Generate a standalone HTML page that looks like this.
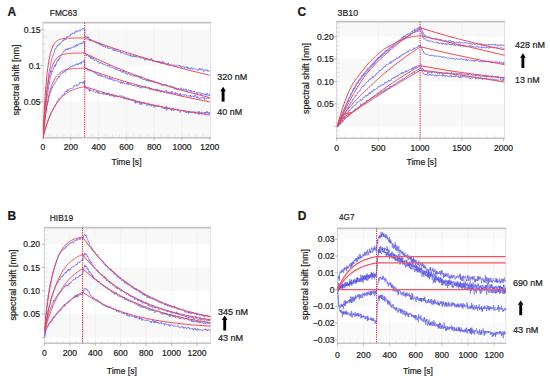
<!DOCTYPE html><html><head><meta charset="utf-8"><style>html,body{margin:0;padding:0;background:#fff;width:550px;height:380px;overflow:hidden}</style></head><body><svg width="550" height="380" viewBox="0 0 550 380" style="display:block">
<rect width="550" height="380" fill="#ffffff"/>
<g font-family='"Liberation Sans", sans-serif' fill="#1a1a1a">
<rect x="43.00" y="101.70" width="167.50" height="36.00" fill="#f8f8f8"/>
<rect x="43.00" y="29.70" width="167.50" height="36.00" fill="#f8f8f8"/>
<line x1="70.80" y1="22.70" x2="70.80" y2="137.70" stroke="#eeeeee" stroke-width="0.6"/>
<line x1="98.60" y1="22.70" x2="98.60" y2="137.70" stroke="#eeeeee" stroke-width="0.6"/>
<line x1="126.40" y1="22.70" x2="126.40" y2="137.70" stroke="#eeeeee" stroke-width="0.6"/>
<line x1="154.20" y1="22.70" x2="154.20" y2="137.70" stroke="#eeeeee" stroke-width="0.6"/>
<line x1="182.00" y1="22.70" x2="182.00" y2="137.70" stroke="#eeeeee" stroke-width="0.6"/>
<path d="M50.0 137.7V134.2M56.9 137.7V134.2M63.9 137.7V134.2M70.8 137.7V134.2M77.8 137.7V134.2M84.7 137.7V134.2M91.7 137.7V134.2M98.6 137.7V134.2M105.6 137.7V134.2M112.5 137.7V134.2M119.5 137.7V134.2M126.4 137.7V134.2M133.4 137.7V134.2M140.3 137.7V134.2M147.3 137.7V134.2M154.2 137.7V134.2M161.2 137.7V134.2M168.1 137.7V134.2M175.1 137.7V134.2M182.0 137.7V134.2M189.0 137.7V134.2M195.9 137.7V134.2M202.9 137.7V134.2" stroke="#dddddd" stroke-width="0.6" fill="none"/>
<path d="M43.0 137.7H46.0M43.0 130.5H46.0M43.0 123.3H46.0M43.0 116.1H46.0M43.0 108.9H46.0M43.0 101.7H46.0M43.0 94.5H46.0M43.0 87.3H46.0M43.0 80.1H46.0M43.0 72.9H46.0M43.0 65.7H46.0M43.0 58.5H46.0M43.0 51.3H46.0M43.0 44.1H46.0M43.0 36.9H46.0M43.0 29.7H46.0" stroke="#dddddd" stroke-width="0.6" fill="none"/>
<line x1="210.50" y1="22.70" x2="210.50" y2="137.70" stroke="#e2e2e2" stroke-width="1"/>
<line x1="43.00" y1="22.70" x2="43.00" y2="137.70" stroke="#d0d0d0" stroke-width="1"/>
<line x1="42.50" y1="22.70" x2="211.00" y2="22.70" stroke="#c4c4c4" stroke-width="1.7"/>
<line x1="42.50" y1="137.70" x2="211.00" y2="137.70" stroke="#c4c4c4" stroke-width="1.4"/>
<line x1="40.50" y1="101.70" x2="43.00" y2="101.70" stroke="#a8a8a8" stroke-width="0.8"/>
<text stroke="#1a1a1a" stroke-width="0.2" x="40.60" y="104.70" font-size="8.6" text-anchor="end" font-weight="normal">0.05</text>
<line x1="40.50" y1="65.70" x2="43.00" y2="65.70" stroke="#a8a8a8" stroke-width="0.8"/>
<text stroke="#1a1a1a" stroke-width="0.2" x="40.60" y="68.70" font-size="8.6" text-anchor="end" font-weight="normal">0.1</text>
<line x1="40.50" y1="29.70" x2="43.00" y2="29.70" stroke="#a8a8a8" stroke-width="0.8"/>
<text stroke="#1a1a1a" stroke-width="0.2" x="40.60" y="32.70" font-size="8.6" text-anchor="end" font-weight="normal">0.15</text>
<line x1="43.00" y1="137.70" x2="43.00" y2="140.20" stroke="#a8a8a8" stroke-width="0.8"/>
<text stroke="#1a1a1a" stroke-width="0.2" x="43.00" y="149.90" font-size="8.6" text-anchor="middle" font-weight="normal">0</text>
<line x1="70.80" y1="137.70" x2="70.80" y2="140.20" stroke="#a8a8a8" stroke-width="0.8"/>
<text stroke="#1a1a1a" stroke-width="0.2" x="70.80" y="149.90" font-size="8.6" text-anchor="middle" font-weight="normal">200</text>
<line x1="98.60" y1="137.70" x2="98.60" y2="140.20" stroke="#a8a8a8" stroke-width="0.8"/>
<text stroke="#1a1a1a" stroke-width="0.2" x="98.60" y="149.90" font-size="8.6" text-anchor="middle" font-weight="normal">400</text>
<line x1="126.40" y1="137.70" x2="126.40" y2="140.20" stroke="#a8a8a8" stroke-width="0.8"/>
<text stroke="#1a1a1a" stroke-width="0.2" x="126.40" y="149.90" font-size="8.6" text-anchor="middle" font-weight="normal">600</text>
<line x1="154.20" y1="137.70" x2="154.20" y2="140.20" stroke="#a8a8a8" stroke-width="0.8"/>
<text stroke="#1a1a1a" stroke-width="0.2" x="154.20" y="149.90" font-size="8.6" text-anchor="middle" font-weight="normal">800</text>
<line x1="182.00" y1="137.70" x2="182.00" y2="140.20" stroke="#a8a8a8" stroke-width="0.8"/>
<text stroke="#1a1a1a" stroke-width="0.2" x="182.00" y="149.90" font-size="8.6" text-anchor="middle" font-weight="normal">1000</text>
<line x1="209.80" y1="137.70" x2="209.80" y2="140.20" stroke="#a8a8a8" stroke-width="0.8"/>
<text stroke="#1a1a1a" stroke-width="0.2" x="209.80" y="149.90" font-size="8.6" text-anchor="middle" font-weight="normal">1200</text>
<text stroke="#1a1a1a" stroke-width="0.2" x="49.80" y="15.80" font-size="9.2" text-anchor="start" font-weight="normal" textLength="27.3" lengthAdjust="spacingAndGlyphs">FMC63</text>
<text stroke="#1a1a1a" stroke-width="0.2" x="7.40" y="15.80" font-size="12" text-anchor="start" font-weight="bold">A</text>
<text stroke="#1a1a1a" stroke-width="0.2" transform="translate(18.60,79.90) rotate(-90)" x="0" y="0" font-size="8.8" text-anchor="middle" textLength="71" lengthAdjust="spacingAndGlyphs">spectral shift [nm]</text>
<text stroke="#1a1a1a" stroke-width="0.2" x="126.50" y="164.70" font-size="8.8" text-anchor="middle" font-weight="normal" textLength="30" lengthAdjust="spacingAndGlyphs">Time [s]</text>
<g clip-path="url(#clipA)">
<polyline points="43.0,137.7 43.5,130.6 43.9,123.1 44.4,115.9 44.9,110.0 45.3,104.0 45.8,99.7 46.3,96.1 46.7,90.4 47.2,86.2 47.7,83.0 48.2,79.3 48.6,75.8 49.1,72.0 49.6,69.9 50.0,68.1 50.5,64.6 51.0,63.1 51.4,60.2 51.9,58.8 52.4,56.7 52.8,56.2 53.3,54.0 53.8,53.7 54.2,52.3 54.7,50.9 55.2,48.3 55.7,48.8 56.1,48.4 56.6,47.8 57.1,45.9 57.5,46.0 58.0,45.1 58.5,44.6 58.9,45.4 59.4,43.6 59.9,43.7 60.3,43.9 60.8,42.4 61.3,42.3 61.7,42.0 62.2,41.6 62.7,40.2 63.1,40.7 63.6,41.2 64.1,38.8 64.6,40.0 65.0,39.1 65.5,38.2 66.0,39.6 66.4,38.4 66.9,36.6 67.4,37.2 67.8,37.2 68.3,36.3 68.8,36.6 69.2,35.7 69.7,35.9 70.2,36.1 70.6,34.4 71.1,34.7 71.6,33.9 72.1,34.1 72.5,32.9 73.0,33.1 73.5,33.1 73.9,33.6 74.4,33.6 74.9,31.6 75.3,31.7 75.8,32.5 76.3,30.4 76.7,31.3 77.2,31.3 77.7,32.0 78.1,31.4 78.6,30.5 79.1,30.3 79.5,30.2 80.0,31.2 80.5,29.7 81.0,29.6 81.4,29.9 81.9,29.4 82.4,29.2 82.8,28.4 83.3,29.0 83.8,28.6 84.2,29.6 84.7,29.2 84.7,35.8 85.1,36.6 85.5,36.1 86.0,37.4 86.4,36.9 86.8,37.6 87.2,36.6 87.6,38.0 88.0,36.8 88.5,36.8 88.9,38.3 89.3,38.1 89.7,39.1 90.1,40.8 90.6,38.9 91.0,39.3 91.4,40.1 91.8,40.6 92.2,40.4 92.7,40.6 93.1,41.4 93.5,41.5 93.9,40.7 94.3,41.6 94.7,41.9 95.2,41.4 95.6,42.5 96.0,41.9 96.4,43.4 96.8,43.1 97.3,43.2 97.7,43.0 98.1,43.5 98.5,42.4 98.9,43.2 99.3,44.4 99.8,42.8 100.2,45.1 100.6,43.5 101.0,45.4 101.4,44.5 101.9,45.8 102.3,45.5 102.7,44.5 103.1,46.6 103.5,47.0 103.9,46.1 104.4,46.1 104.8,46.4 105.2,46.0 105.6,47.6 106.0,46.6 106.5,47.1 106.9,46.7 107.3,47.0 107.7,46.7 108.1,48.7 108.6,47.8 109.0,48.8 109.4,48.3 109.8,47.9 110.2,48.4 110.6,48.3 111.1,48.9 111.5,48.8 111.9,49.0 112.3,48.4 112.7,48.9 113.2,50.8 113.6,49.3 114.0,49.2 114.4,50.3 114.8,51.2 115.2,49.4 115.7,50.4 116.1,50.2 116.5,49.6 116.9,51.5 117.3,51.1 117.8,51.3 118.2,50.9 118.6,51.8 119.0,51.3 119.4,51.7 119.8,51.2 120.3,51.2 120.7,53.2 121.1,52.0 121.5,52.7 121.9,52.6 122.4,52.5 122.8,52.5 123.2,53.5 123.6,53.0 124.0,53.2 124.4,53.4 124.9,54.4 125.3,54.2 125.7,54.1 126.1,53.6 126.5,53.1 127.0,54.9 127.4,55.0 127.8,54.4 128.2,55.0 128.6,55.3 129.1,55.4 129.5,55.6 129.9,54.8 130.3,56.3 130.7,54.5 131.1,56.1 131.6,55.9 132.0,56.3 132.4,57.1 132.8,57.0 133.2,55.3 133.7,55.0 134.1,56.9 134.5,55.7 134.9,56.5 135.3,57.2 135.7,55.6 136.2,55.4 136.6,57.1 137.0,57.1 137.4,57.0 137.8,57.3 138.3,56.8 138.7,56.4 139.1,57.5 139.5,57.0 139.9,56.6 140.3,58.2 140.8,57.9 141.2,58.4 141.6,57.5 142.0,57.8 142.4,57.7 142.9,57.8 143.3,58.7 143.7,58.1 144.1,59.0 144.5,59.1 145.0,60.4 145.4,58.1 145.8,59.8 146.2,59.2 146.6,59.3 147.0,58.4 147.5,59.2 147.9,60.1 148.3,59.7 148.7,59.9 149.1,59.7 149.6,60.8 150.0,60.1 150.4,58.7 150.8,59.8 151.2,59.0 151.6,58.2 152.1,60.2 152.5,61.6 152.9,60.8 153.3,60.0 153.7,60.3 154.2,61.8 154.6,61.2 155.0,61.3 155.4,61.3 155.8,61.4 156.2,62.1 156.7,62.0 157.1,61.8 157.5,61.1 157.9,62.2 158.3,61.5 158.8,62.8 159.2,61.3 159.6,62.1 160.0,62.3 160.4,61.5 160.9,63.7 161.3,63.6 161.7,62.4 162.1,63.3 162.5,63.1 162.9,61.1 163.4,63.2 163.8,63.1 164.2,63.3 164.6,62.6 165.0,63.2 165.5,63.4 165.9,64.4 166.3,63.9 166.7,63.7 167.1,64.9 167.5,63.5 168.0,63.7 168.4,62.8 168.8,65.3 169.2,64.9 169.6,65.0 170.1,64.9 170.5,64.6 170.9,64.8 171.3,64.5 171.7,64.6 172.1,64.9 172.6,66.0 173.0,65.4 173.4,65.1 173.8,64.8 174.2,64.8 174.7,66.5 175.1,65.8 175.5,65.6 175.9,65.3 176.3,64.9 176.8,65.7 177.2,66.4 177.6,65.6 178.0,65.8 178.4,65.9 178.8,66.2 179.3,65.1 179.7,66.1 180.1,65.8 180.5,67.1 180.9,66.0 181.4,67.0 181.8,67.7 182.2,66.5 182.6,66.4 183.0,67.0 183.4,67.0 183.9,66.4 184.3,67.4 184.7,68.6 185.1,67.1 185.5,67.2 186.0,66.7 186.4,67.7 186.8,66.7 187.2,66.9 187.6,68.6 188.0,67.1 188.5,68.6 188.9,69.0 189.3,68.2 189.7,68.4 190.1,69.5 190.6,68.0 191.0,67.8 191.4,67.4 191.8,68.4 192.2,69.5 192.7,69.2 193.1,67.9 193.5,68.0 193.9,68.4 194.3,69.0 194.7,68.7 195.2,69.0 195.6,69.2 196.0,68.8 196.4,69.1 196.8,69.3 197.3,69.1 197.7,69.6 198.1,70.6 198.5,69.8 198.9,69.5 199.3,68.3 199.8,69.8 200.2,68.3 200.6,68.7 201.0,70.3 201.4,70.3 201.9,69.7 202.3,68.7 202.7,69.7 203.1,69.5 203.5,70.5 203.9,71.7 204.4,70.3 204.8,69.7 205.2,69.4 205.6,70.3 206.0,70.2 206.5,69.6 206.9,70.5 207.3,69.7 207.7,71.3 208.1,71.4 208.5,71.4 209.0,70.4 209.4,71.1 209.8,70.7" fill="none" stroke="#6e6ef0" stroke-width="1.0" stroke-opacity="0.85" stroke-linejoin="round"/>
<polyline points="43.0,137.4 43.5,131.8 43.9,125.6 44.4,120.2 44.9,116.8 45.3,111.6 45.8,107.9 46.3,104.7 46.7,99.2 47.2,96.3 47.7,93.6 48.2,90.5 48.6,86.9 49.1,85.0 49.6,81.8 50.0,78.4 50.5,76.4 51.0,75.8 51.4,74.0 51.9,71.0 52.4,72.0 52.8,70.3 53.3,69.7 53.8,67.5 54.2,66.6 54.7,65.1 55.2,66.8 55.7,64.1 56.1,64.5 56.6,62.2 57.1,62.0 57.5,60.0 58.0,60.2 58.5,60.5 58.9,58.2 59.4,59.2 59.9,58.0 60.3,56.3 60.8,55.9 61.3,55.2 61.7,54.8 62.2,53.7 62.7,52.9 63.1,52.6 63.6,51.5 64.1,50.7 64.6,51.0 65.0,51.2 65.5,49.1 66.0,49.9 66.4,49.1 66.9,48.7 67.4,49.7 67.8,48.6 68.3,49.8 68.8,48.1 69.2,48.8 69.7,48.2 70.2,47.7 70.6,48.5 71.1,47.8 71.6,48.2 72.1,47.6 72.5,46.7 73.0,47.2 73.5,47.1 73.9,47.5 74.4,46.0 74.9,46.5 75.3,45.1 75.8,46.6 76.3,45.1 76.7,44.4 77.2,45.5 77.7,46.1 78.1,44.0 78.6,44.1 79.1,44.2 79.5,43.7 80.0,44.5 80.5,43.5 81.0,43.4 81.4,44.1 81.9,42.9 82.4,43.5 82.8,42.3 83.3,41.9 83.8,41.3 84.2,43.6 84.7,41.9 84.7,53.9 85.1,54.0 85.5,54.4 86.0,54.6 86.4,56.1 86.8,54.4 87.2,54.3 87.6,54.9 88.0,55.0 88.5,56.7 88.9,57.0 89.3,56.0 89.7,56.0 90.1,57.0 90.6,58.5 91.0,55.8 91.4,58.4 91.8,57.5 92.2,59.2 92.7,58.0 93.1,58.8 93.5,58.2 93.9,58.8 94.3,60.7 94.7,60.5 95.2,59.9 95.6,59.8 96.0,59.3 96.4,60.6 96.8,61.1 97.3,61.3 97.7,61.5 98.1,61.0 98.5,61.9 98.9,62.1 99.3,63.3 99.8,63.9 100.2,62.7 100.6,62.4 101.0,63.1 101.4,62.9 101.9,63.0 102.3,63.7 102.7,63.2 103.1,64.5 103.5,64.2 103.9,64.7 104.4,64.5 104.8,64.3 105.2,64.4 105.6,65.0 106.0,65.0 106.5,65.7 106.9,65.7 107.3,65.0 107.7,66.1 108.1,65.3 108.6,66.0 109.0,66.4 109.4,65.3 109.8,67.0 110.2,67.2 110.6,67.1 111.1,67.1 111.5,67.3 111.9,67.1 112.3,67.7 112.7,67.7 113.2,68.3 113.6,67.6 114.0,68.7 114.4,68.8 114.8,68.8 115.2,68.7 115.7,69.6 116.1,68.2 116.5,69.8 116.9,69.8 117.3,70.0 117.8,70.2 118.2,69.7 118.6,70.1 119.0,70.9 119.4,70.9 119.8,70.9 120.3,69.8 120.7,71.4 121.1,72.0 121.5,72.1 121.9,71.7 122.4,70.6 122.8,72.5 123.2,71.9 123.6,70.4 124.0,72.6 124.4,71.4 124.9,71.7 125.3,72.3 125.7,73.8 126.1,72.8 126.5,73.4 127.0,74.6 127.4,74.7 127.8,73.6 128.2,73.7 128.6,73.1 129.1,73.7 129.5,74.6 129.9,74.8 130.3,74.7 130.7,75.5 131.1,74.4 131.6,75.0 132.0,75.7 132.4,75.8 132.8,76.3 133.2,76.0 133.7,75.6 134.1,76.2 134.5,75.4 134.9,75.1 135.3,76.8 135.7,76.5 136.2,76.9 136.6,75.6 137.0,76.7 137.4,76.7 137.8,76.6 138.3,75.8 138.7,77.3 139.1,78.2 139.5,78.0 139.9,77.5 140.3,78.0 140.8,78.7 141.2,76.3 141.6,78.3 142.0,78.9 142.4,79.1 142.9,79.9 143.3,79.7 143.7,79.2 144.1,79.3 144.5,79.8 145.0,79.0 145.4,79.5 145.8,80.2 146.2,81.1 146.6,79.7 147.0,79.9 147.5,80.2 147.9,81.2 148.3,80.3 148.7,81.5 149.1,79.9 149.6,80.6 150.0,80.7 150.4,81.5 150.8,81.8 151.2,80.1 151.6,80.7 152.1,81.7 152.5,81.1 152.9,80.6 153.3,82.5 153.7,82.3 154.2,82.4 154.6,81.8 155.0,83.0 155.4,82.2 155.8,83.3 156.2,82.0 156.7,82.2 157.1,83.0 157.5,82.5 157.9,83.6 158.3,83.4 158.8,82.7 159.2,83.5 159.6,83.3 160.0,84.3 160.4,83.4 160.9,83.6 161.3,84.9 161.7,85.7 162.1,85.7 162.5,84.4 162.9,84.7 163.4,85.7 163.8,84.7 164.2,84.2 164.6,85.0 165.0,85.4 165.5,84.6 165.9,84.2 166.3,84.4 166.7,86.0 167.1,85.1 167.5,85.7 168.0,86.0 168.4,86.4 168.8,85.9 169.2,86.5 169.6,85.7 170.1,86.2 170.5,85.8 170.9,87.4 171.3,86.7 171.7,86.3 172.1,86.7 172.6,86.9 173.0,87.7 173.4,86.2 173.8,86.7 174.2,87.2 174.7,89.4 175.1,88.4 175.5,87.7 175.9,88.4 176.3,89.5 176.8,88.0 177.2,88.0 177.6,89.2 178.0,88.8 178.4,89.0 178.8,88.3 179.3,90.1 179.7,90.0 180.1,89.4 180.5,89.5 180.9,87.7 181.4,89.7 181.8,89.2 182.2,89.8 182.6,90.0 183.0,89.4 183.4,88.6 183.9,90.1 184.3,89.4 184.7,89.8 185.1,89.7 185.5,90.0 186.0,88.7 186.4,91.3 186.8,90.7 187.2,91.4 187.6,92.1 188.0,90.8 188.5,89.6 188.9,90.4 189.3,90.2 189.7,90.8 190.1,91.3 190.6,90.0 191.0,91.7 191.4,90.5 191.8,91.8 192.2,91.6 192.7,91.6 193.1,91.8 193.5,91.6 193.9,91.6 194.3,91.0 194.7,92.2 195.2,93.6 195.6,93.8 196.0,93.4 196.4,93.1 196.8,92.2 197.3,93.8 197.7,92.8 198.1,92.9 198.5,92.8 198.9,93.1 199.3,92.9 199.8,93.2 200.2,92.6 200.6,93.1 201.0,95.1 201.4,93.5 201.9,93.5 202.3,94.1 202.7,94.3 203.1,93.1 203.5,93.8 203.9,94.7 204.4,94.3 204.8,94.2 205.2,95.3 205.6,93.8 206.0,94.4 206.5,94.1 206.9,95.6 207.3,93.2 207.7,94.2 208.1,94.4 208.5,95.3 209.0,95.3 209.4,95.9 209.8,93.9" fill="none" stroke="#6e6ef0" stroke-width="1.0" stroke-opacity="0.85" stroke-linejoin="round"/>
<polyline points="43.0,138.2 43.5,133.0 43.9,128.3 44.4,124.9 44.9,119.8 45.3,115.2 45.8,112.8 46.3,108.8 46.7,106.7 47.2,105.0 47.7,103.0 48.2,101.9 48.6,98.8 49.1,96.1 49.6,95.0 50.0,93.4 50.5,91.7 51.0,91.5 51.4,89.5 51.9,87.3 52.4,88.1 52.8,86.5 53.3,85.8 53.8,84.7 54.2,84.2 54.7,83.0 55.2,83.0 55.7,81.7 56.1,81.0 56.6,80.3 57.1,78.3 57.5,78.6 58.0,77.9 58.5,77.6 58.9,75.9 59.4,77.5 59.9,75.9 60.3,74.4 60.8,73.6 61.3,74.1 61.7,73.8 62.2,72.9 62.7,73.1 63.1,72.1 63.6,72.6 64.1,71.3 64.6,71.4 65.0,71.8 65.5,72.5 66.0,69.7 66.4,69.8 66.9,69.2 67.4,70.0 67.8,68.4 68.3,68.5 68.8,68.6 69.2,67.6 69.7,67.4 70.2,67.5 70.6,66.1 71.1,66.3 71.6,66.8 72.1,66.9 72.5,66.4 73.0,65.1 73.5,65.7 73.9,66.4 74.4,66.0 74.9,65.3 75.3,64.5 75.8,65.3 76.3,64.2 76.7,63.6 77.2,63.6 77.7,65.0 78.1,63.9 78.6,64.3 79.1,63.0 79.5,63.7 80.0,62.5 80.5,62.6 81.0,64.2 81.4,62.8 81.9,61.7 82.4,61.8 82.8,61.9 83.3,62.4 83.8,61.0 84.2,60.0 84.7,60.8 84.7,67.4 85.1,67.7 85.5,68.8 86.0,68.3 86.4,68.9 86.8,67.8 87.2,69.4 87.6,70.5 88.0,69.8 88.5,69.7 88.9,69.9 89.3,71.2 89.7,69.6 90.1,70.4 90.6,71.0 91.0,71.4 91.4,70.8 91.8,71.5 92.2,71.3 92.7,71.8 93.1,71.9 93.5,71.4 93.9,72.4 94.3,73.2 94.7,72.1 95.2,72.8 95.6,73.6 96.0,72.6 96.4,73.7 96.8,73.0 97.3,74.7 97.7,75.7 98.1,75.7 98.5,74.3 98.9,75.2 99.3,74.9 99.8,75.0 100.2,76.2 100.6,74.4 101.0,76.2 101.4,75.6 101.9,76.8 102.3,76.1 102.7,75.6 103.1,76.5 103.5,76.9 103.9,76.6 104.4,77.1 104.8,76.5 105.2,75.5 105.6,77.8 106.0,77.8 106.5,77.6 106.9,77.7 107.3,78.5 107.7,77.6 108.1,77.6 108.6,78.1 109.0,79.2 109.4,77.5 109.8,79.5 110.2,78.3 110.6,78.1 111.1,79.9 111.5,79.1 111.9,78.4 112.3,79.2 112.7,80.2 113.2,80.6 113.6,79.6 114.0,80.3 114.4,80.6 114.8,79.8 115.2,80.6 115.7,80.5 116.1,80.2 116.5,80.4 116.9,80.9 117.3,81.0 117.8,80.7 118.2,80.9 118.6,82.1 119.0,81.6 119.4,82.2 119.8,82.6 120.3,82.3 120.7,83.6 121.1,81.5 121.5,82.8 121.9,82.1 122.4,83.7 122.8,83.7 123.2,81.3 123.6,82.1 124.0,83.4 124.4,83.6 124.9,83.6 125.3,83.2 125.7,83.7 126.1,83.9 126.5,83.5 127.0,84.4 127.4,82.2 127.8,84.3 128.2,83.3 128.6,84.8 129.1,84.0 129.5,83.7 129.9,84.7 130.3,83.9 130.7,84.0 131.1,83.6 131.6,84.8 132.0,85.3 132.4,85.7 132.8,85.0 133.2,85.9 133.7,85.3 134.1,85.3 134.5,85.9 134.9,86.3 135.3,85.5 135.7,85.6 136.2,85.8 136.6,86.0 137.0,85.4 137.4,86.9 137.8,86.0 138.3,86.7 138.7,85.8 139.1,86.8 139.5,86.9 139.9,86.4 140.3,88.2 140.8,87.1 141.2,88.2 141.6,87.7 142.0,86.6 142.4,86.9 142.9,87.6 143.3,87.4 143.7,87.5 144.1,87.3 144.5,86.4 145.0,87.6 145.4,86.2 145.8,88.1 146.2,87.5 146.6,87.6 147.0,88.0 147.5,88.4 147.9,87.3 148.3,87.2 148.7,87.7 149.1,87.1 149.6,88.0 150.0,89.8 150.4,88.1 150.8,89.4 151.2,88.0 151.6,89.3 152.1,88.9 152.5,89.2 152.9,89.7 153.3,90.6 153.7,89.6 154.2,89.6 154.6,89.0 155.0,90.1 155.4,89.6 155.8,90.5 156.2,89.9 156.7,91.3 157.1,88.8 157.5,90.0 157.9,90.9 158.3,90.1 158.8,89.9 159.2,90.4 159.6,89.7 160.0,90.8 160.4,92.5 160.9,91.7 161.3,90.2 161.7,90.4 162.1,90.8 162.5,91.9 162.9,90.7 163.4,90.9 163.8,92.0 164.2,92.1 164.6,91.3 165.0,90.9 165.5,90.7 165.9,91.3 166.3,90.3 166.7,92.5 167.1,91.6 167.5,92.5 168.0,93.5 168.4,93.1 168.8,91.6 169.2,93.1 169.6,93.3 170.1,92.1 170.5,92.0 170.9,92.7 171.3,91.7 171.7,93.9 172.1,91.3 172.6,92.3 173.0,92.9 173.4,93.0 173.8,93.4 174.2,93.5 174.7,93.3 175.1,94.3 175.5,92.1 175.9,93.6 176.3,93.2 176.8,93.9 177.2,94.0 177.6,93.3 178.0,93.6 178.4,94.6 178.8,94.4 179.3,93.7 179.7,95.7 180.1,96.0 180.5,93.4 180.9,94.7 181.4,96.3 181.8,95.2 182.2,94.9 182.6,94.6 183.0,94.5 183.4,94.8 183.9,94.6 184.3,95.6 184.7,94.9 185.1,94.9 185.5,94.4 186.0,95.3 186.4,94.8 186.8,95.3 187.2,96.3 187.6,95.9 188.0,96.0 188.5,96.0 188.9,95.8 189.3,95.8 189.7,95.7 190.1,96.5 190.6,95.3 191.0,97.1 191.4,96.2 191.8,95.7 192.2,96.0 192.7,95.9 193.1,96.6 193.5,96.0 193.9,97.4 194.3,96.1 194.7,95.1 195.2,96.2 195.6,95.4 196.0,96.8 196.4,97.7 196.8,97.5 197.3,96.1 197.7,96.6 198.1,98.4 198.5,97.5 198.9,97.3 199.3,98.1 199.8,99.1 200.2,98.4 200.6,97.6 201.0,97.8 201.4,98.1 201.9,97.3 202.3,97.0 202.7,97.8 203.1,97.2 203.5,97.9 203.9,98.0 204.4,99.7 204.8,97.5 205.2,98.0 205.6,98.1 206.0,98.5 206.5,99.0 206.9,98.0 207.3,97.8 207.7,97.3 208.1,97.9 208.5,98.9 209.0,98.6 209.4,97.9 209.8,98.4" fill="none" stroke="#6e6ef0" stroke-width="1.0" stroke-opacity="0.85" stroke-linejoin="round"/>
<polyline points="43.0,137.7 43.5,136.2 43.9,133.6 44.4,132.1 44.9,129.4 45.3,128.2 45.8,128.6 46.3,124.5 46.7,124.3 47.2,123.3 47.7,121.5 48.2,119.9 48.6,119.2 49.1,118.0 49.6,116.8 50.0,114.4 50.5,114.5 51.0,113.0 51.4,112.2 51.9,111.7 52.4,111.0 52.8,110.2 53.3,108.3 53.8,108.4 54.2,107.7 54.7,106.9 55.2,106.2 55.7,104.3 56.1,103.6 56.6,103.5 57.1,101.3 57.5,101.7 58.0,100.5 58.5,100.0 58.9,98.4 59.4,98.4 59.9,98.4 60.3,98.4 60.8,97.9 61.3,96.6 61.7,95.9 62.2,95.0 62.7,95.3 63.1,94.3 63.6,94.4 64.1,94.8 64.6,93.1 65.0,91.6 65.5,91.6 66.0,90.8 66.4,90.6 66.9,92.0 67.4,90.8 67.8,89.3 68.3,90.5 68.8,90.5 69.2,89.1 69.7,88.6 70.2,88.5 70.6,88.6 71.1,88.6 71.6,88.7 72.1,88.4 72.5,88.2 73.0,88.0 73.5,87.3 73.9,85.5 74.4,86.2 74.9,86.3 75.3,85.5 75.8,86.2 76.3,85.1 76.7,84.5 77.2,85.9 77.7,85.1 78.1,84.6 78.6,84.9 79.1,84.7 79.5,84.0 80.0,81.9 80.5,82.9 81.0,82.9 81.4,82.3 81.9,82.9 82.4,83.5 82.8,82.1 83.3,81.5 83.8,83.5 84.2,81.6 84.7,80.9 84.7,87.7 85.1,88.0 85.5,87.4 86.0,88.6 86.4,87.9 86.8,87.7 87.2,88.7 87.6,89.2 88.0,88.4 88.5,89.3 88.9,89.1 89.3,91.4 89.7,89.0 90.1,90.7 90.6,89.8 91.0,89.9 91.4,90.7 91.8,91.0 92.2,91.4 92.7,90.9 93.1,90.4 93.5,90.6 93.9,91.4 94.3,91.6 94.7,92.3 95.2,91.8 95.6,92.4 96.0,92.8 96.4,92.0 96.8,91.0 97.3,91.3 97.7,91.2 98.1,93.5 98.5,91.9 98.9,93.4 99.3,93.1 99.8,94.0 100.2,93.6 100.6,92.9 101.0,93.0 101.4,93.2 101.9,93.4 102.3,93.0 102.7,93.4 103.1,94.7 103.5,92.4 103.9,93.9 104.4,93.2 104.8,94.0 105.2,94.6 105.6,94.0 106.0,94.7 106.5,93.1 106.9,95.0 107.3,93.9 107.7,94.9 108.1,94.6 108.6,92.8 109.0,94.1 109.4,94.9 109.8,95.9 110.2,95.0 110.6,95.1 111.1,94.0 111.5,96.1 111.9,96.4 112.3,95.2 112.7,95.1 113.2,94.2 113.6,96.0 114.0,97.4 114.4,96.1 114.8,96.5 115.2,96.1 115.7,95.1 116.1,96.8 116.5,95.1 116.9,95.8 117.3,96.3 117.8,96.8 118.2,96.5 118.6,96.6 119.0,95.9 119.4,95.6 119.8,96.6 120.3,96.1 120.7,95.8 121.1,95.9 121.5,96.6 121.9,95.7 122.4,96.2 122.8,96.0 123.2,97.4 123.6,97.7 124.0,98.9 124.4,96.6 124.9,97.2 125.3,98.5 125.7,97.8 126.1,97.9 126.5,99.4 127.0,98.1 127.4,97.7 127.8,97.7 128.2,99.0 128.6,99.2 129.1,98.1 129.5,98.6 129.9,99.8 130.3,100.0 130.7,99.3 131.1,100.3 131.6,100.4 132.0,98.9 132.4,100.1 132.8,100.8 133.2,100.3 133.7,99.3 134.1,100.8 134.5,101.7 134.9,102.4 135.3,99.9 135.7,103.4 136.2,100.9 136.6,102.5 137.0,102.8 137.4,102.8 137.8,102.3 138.3,101.5 138.7,102.9 139.1,102.1 139.5,100.9 139.9,104.8 140.3,103.4 140.8,104.2 141.2,102.4 141.6,104.2 142.0,104.4 142.4,104.4 142.9,103.4 143.3,102.7 143.7,103.5 144.1,102.2 144.5,102.6 145.0,103.9 145.4,103.3 145.8,104.0 146.2,104.1 146.6,105.6 147.0,105.3 147.5,104.4 147.9,105.4 148.3,104.1 148.7,104.5 149.1,105.4 149.6,104.0 150.0,104.8 150.4,104.1 150.8,105.2 151.2,106.4 151.6,104.8 152.1,105.6 152.5,104.9 152.9,104.8 153.3,104.8 153.7,106.8 154.2,107.5 154.6,106.3 155.0,105.5 155.4,106.6 155.8,106.0 156.2,106.9 156.7,106.6 157.1,106.7 157.5,107.0 157.9,106.2 158.3,106.5 158.8,105.6 159.2,106.6 159.6,106.0 160.0,107.0 160.4,106.5 160.9,107.3 161.3,107.6 161.7,106.4 162.1,106.9 162.5,106.9 162.9,108.2 163.4,108.9 163.8,108.4 164.2,107.7 164.6,109.0 165.0,107.0 165.5,109.2 165.9,107.8 166.3,106.4 166.7,110.2 167.1,109.6 167.5,107.8 168.0,108.7 168.4,108.5 168.8,108.8 169.2,107.8 169.6,108.4 170.1,109.3 170.5,109.2 170.9,110.0 171.3,109.3 171.7,110.9 172.1,108.9 172.6,109.6 173.0,108.2 173.4,108.7 173.8,110.6 174.2,109.1 174.7,110.2 175.1,109.8 175.5,109.2 175.9,109.7 176.3,109.7 176.8,109.8 177.2,110.7 177.6,110.7 178.0,109.9 178.4,109.7 178.8,110.6 179.3,110.4 179.7,111.3 180.1,112.5 180.5,111.3 180.9,110.7 181.4,110.7 181.8,110.3 182.2,110.3 182.6,110.3 183.0,110.8 183.4,110.8 183.9,111.7 184.3,110.9 184.7,111.1 185.1,110.5 185.5,112.5 186.0,111.8 186.4,112.7 186.8,112.1 187.2,112.6 187.6,111.5 188.0,112.2 188.5,113.6 188.9,110.9 189.3,112.6 189.7,113.0 190.1,112.2 190.6,112.5 191.0,112.9 191.4,111.6 191.8,112.4 192.2,111.5 192.7,111.7 193.1,111.8 193.5,112.1 193.9,112.4 194.3,112.6 194.7,111.3 195.2,113.8 195.6,113.2 196.0,113.0 196.4,112.2 196.8,112.4 197.3,112.9 197.7,112.9 198.1,111.4 198.5,113.2 198.9,114.7 199.3,111.4 199.8,113.4 200.2,113.0 200.6,112.7 201.0,113.8 201.4,111.9 201.9,112.9 202.3,113.9 202.7,112.7 203.1,112.6 203.5,113.0 203.9,112.6 204.4,114.0 204.8,112.3 205.2,113.6 205.6,112.0 206.0,113.4 206.5,112.9 206.9,111.1 207.3,113.0 207.7,112.2 208.1,112.7 208.5,114.1 209.0,112.2 209.4,112.2 209.8,114.0" fill="none" stroke="#6e6ef0" stroke-width="1.0" stroke-opacity="0.85" stroke-linejoin="round"/>
<polyline points="43.0,137.7 43.5,125.3 44.1,114.4 44.6,104.9 45.1,96.6 45.6,89.3 46.2,82.9 46.7,77.3 47.2,72.4 47.8,68.1 48.3,64.4 48.8,61.1 49.3,58.2 49.9,55.7 50.4,53.5 50.9,51.6 51.4,49.9 52.0,48.4 52.5,47.1 53.0,46.0 53.6,45.0 54.1,44.1 54.6,43.4 55.1,42.7 55.7,42.1 56.2,41.6 56.7,41.1 57.3,40.8 57.8,40.4 58.3,40.1 58.8,39.8 59.4,39.6 59.9,39.4 60.4,39.2 60.9,39.1 61.5,39.0 62.0,38.8 62.5,38.7 63.1,38.6 63.6,38.6 64.1,38.5 64.6,38.4 65.2,38.4 65.7,38.3 66.2,38.3 66.8,38.3 67.3,38.2 67.8,38.2 68.3,38.2 68.9,38.1 69.4,38.1 69.9,38.1 70.4,38.1 71.0,38.1 71.5,38.1 72.0,38.1 72.6,38.1 73.1,38.1 73.6,38.0 74.1,38.0 74.7,38.0 75.2,38.0 75.7,38.0 76.3,38.0 76.8,38.0 77.3,38.0 77.8,38.0 78.4,38.0 78.9,38.0 79.4,38.0 80.0,38.0 80.5,38.0 81.0,38.0 81.5,38.0 82.1,38.0 82.6,38.0 83.1,38.0 83.6,38.0 84.2,38.0 84.7,38.0 84.7,38.0 86.3,38.6 87.9,39.2 89.5,39.8 91.0,40.3 92.6,40.9 94.2,41.5 95.8,42.1 97.4,42.6 99.0,43.2 100.5,43.7 102.1,44.3 103.7,44.8 105.3,45.4 106.9,45.9 108.5,46.5 110.0,47.0 111.6,47.6 113.2,48.1 114.8,48.6 116.4,49.1 118.0,49.7 119.5,50.2 121.1,50.7 122.7,51.2 124.3,51.7 125.9,52.2 127.5,52.7 129.0,53.2 130.6,53.7 132.2,54.2 133.8,54.7 135.4,55.2 137.0,55.7 138.5,56.2 140.1,56.7 141.7,57.1 143.3,57.6 144.9,58.1 146.5,58.6 148.0,59.0 149.6,59.5 151.2,60.0 152.8,60.4 154.4,60.9 156.0,61.3 157.5,61.8 159.1,62.2 160.7,62.7 162.3,63.1 163.9,63.6 165.5,64.0 167.0,64.4 168.6,64.9 170.2,65.3 171.8,65.7 173.4,66.1 175.0,66.6 176.5,67.0 178.1,67.4 179.7,67.8 181.3,68.2 182.9,68.6 184.5,69.1 186.1,69.5 187.6,69.9 189.2,70.3 190.8,70.7 192.4,71.1 194.0,71.5 195.6,71.8 197.1,72.2 198.7,72.6 200.3,73.0 201.9,73.4 203.5,73.8 205.1,74.1 206.6,74.5 208.2,74.9 209.8,75.3" fill="none" stroke="#f0404c" stroke-width="1.0" stroke-opacity="1.0" stroke-linejoin="round"/>
<polyline points="43.0,137.7 43.5,129.2 44.1,121.5 44.6,114.6 45.1,108.4 45.6,102.8 46.2,97.8 46.7,93.2 47.2,89.2 47.8,85.5 48.3,82.2 48.8,79.3 49.3,76.6 49.9,74.3 50.4,72.1 50.9,70.2 51.4,68.5 52.0,66.9 52.5,65.5 53.0,64.2 53.6,63.1 54.1,62.1 54.6,61.2 55.1,60.3 55.7,59.6 56.2,58.9 56.7,58.3 57.3,57.8 57.8,57.3 58.3,56.9 58.8,56.5 59.4,56.1 59.9,55.8 60.4,55.5 60.9,55.3 61.5,55.0 62.0,54.8 62.5,54.7 63.1,54.5 63.6,54.3 64.1,54.2 64.6,54.1 65.2,54.0 65.7,53.9 66.2,53.8 66.8,53.7 67.3,53.6 67.8,53.6 68.3,53.5 68.9,53.5 69.4,53.4 69.9,53.4 70.4,53.3 71.0,53.3 71.5,53.3 72.0,53.2 72.6,53.2 73.1,53.2 73.6,53.2 74.1,53.2 74.7,53.1 75.2,53.1 75.7,53.1 76.3,53.1 76.8,53.1 77.3,53.1 77.8,53.1 78.4,53.1 78.9,53.1 79.4,53.1 80.0,53.0 80.5,53.0 81.0,53.0 81.5,53.0 82.1,53.0 82.6,53.0 83.1,53.0 83.6,53.0 84.2,53.0 84.7,53.0 84.7,53.0 86.3,53.8 87.9,54.6 89.5,55.4 91.0,56.1 92.6,56.9 94.2,57.7 95.8,58.4 97.4,59.2 99.0,59.9 100.5,60.6 102.1,61.4 103.7,62.1 105.3,62.8 106.9,63.5 108.5,64.2 110.0,64.9 111.6,65.6 113.2,66.3 114.8,66.9 116.4,67.6 118.0,68.3 119.5,68.9 121.1,69.6 122.7,70.2 124.3,70.8 125.9,71.5 127.5,72.1 129.0,72.7 130.6,73.3 132.2,73.9 133.8,74.5 135.4,75.1 137.0,75.7 138.5,76.3 140.1,76.9 141.7,77.4 143.3,78.0 144.9,78.6 146.5,79.1 148.0,79.7 149.6,80.2 151.2,80.8 152.8,81.3 154.4,81.8 156.0,82.4 157.5,82.9 159.1,83.4 160.7,83.9 162.3,84.4 163.9,84.9 165.5,85.4 167.0,85.9 168.6,86.4 170.2,86.9 171.8,87.3 173.4,87.8 175.0,88.3 176.5,88.8 178.1,89.2 179.7,89.7 181.3,90.1 182.9,90.6 184.5,91.0 186.1,91.5 187.6,91.9 189.2,92.3 190.8,92.7 192.4,93.2 194.0,93.6 195.6,94.0 197.1,94.4 198.7,94.8 200.3,95.2 201.9,95.6 203.5,96.0 205.1,96.4 206.6,96.8 208.2,97.2 209.8,97.6" fill="none" stroke="#f0404c" stroke-width="1.0" stroke-opacity="1.0" stroke-linejoin="round"/>
<polyline points="43.0,137.7 43.5,132.1 44.1,127.0 44.6,122.2 45.1,117.9 45.6,113.9 46.2,110.2 46.7,106.8 47.2,103.7 47.8,100.9 48.3,98.2 48.8,95.8 49.3,93.6 49.9,91.5 50.4,89.6 50.9,87.9 51.4,86.3 52.0,84.8 52.5,83.5 53.0,82.3 53.6,81.1 54.1,80.1 54.6,79.1 55.1,78.2 55.7,77.4 56.2,76.6 56.7,75.9 57.3,75.3 57.8,74.7 58.3,74.2 58.8,73.7 59.4,73.2 59.9,72.8 60.4,72.4 60.9,72.1 61.5,71.7 62.0,71.4 62.5,71.2 63.1,70.9 63.6,70.7 64.1,70.5 64.6,70.3 65.2,70.1 65.7,69.9 66.2,69.8 66.8,69.6 67.3,69.5 67.8,69.4 68.3,69.3 68.9,69.2 69.4,69.1 69.9,69.0 70.4,68.9 71.0,68.8 71.5,68.8 72.0,68.7 72.6,68.6 73.1,68.6 73.6,68.5 74.1,68.5 74.7,68.5 75.2,68.4 75.7,68.4 76.3,68.4 76.8,68.3 77.3,68.3 77.8,68.3 78.4,68.3 78.9,68.2 79.4,68.2 80.0,68.2 80.5,68.2 81.0,68.2 81.5,68.2 82.1,68.1 82.6,68.1 83.1,68.1 83.6,68.1 84.2,68.1 84.7,68.1 84.7,68.0 86.3,68.6 87.9,69.2 89.5,69.7 91.0,70.3 92.6,70.9 94.2,71.4 95.8,72.0 97.4,72.5 99.0,73.1 100.5,73.6 102.1,74.2 103.7,74.7 105.3,75.2 106.9,75.8 108.5,76.3 110.0,76.8 111.6,77.3 113.2,77.8 114.8,78.3 116.4,78.8 118.0,79.3 119.5,79.8 121.1,80.3 122.7,80.8 124.3,81.2 125.9,81.7 127.5,82.2 129.0,82.7 130.6,83.1 132.2,83.6 133.8,84.0 135.4,84.5 137.0,84.9 138.5,85.4 140.1,85.8 141.7,86.2 143.3,86.7 144.9,87.1 146.5,87.5 148.0,88.0 149.6,88.4 151.2,88.8 152.8,89.2 154.4,89.6 156.0,90.0 157.5,90.4 159.1,90.8 160.7,91.2 162.3,91.6 163.9,92.0 165.5,92.4 167.0,92.7 168.6,93.1 170.2,93.5 171.8,93.9 173.4,94.2 175.0,94.6 176.5,95.0 178.1,95.3 179.7,95.7 181.3,96.0 182.9,96.4 184.5,96.7 186.1,97.1 187.6,97.4 189.2,97.7 190.8,98.1 192.4,98.4 194.0,98.7 195.6,99.1 197.1,99.4 198.7,99.7 200.3,100.0 201.9,100.3 203.5,100.7 205.1,101.0 206.6,101.3 208.2,101.6 209.8,101.9" fill="none" stroke="#f0404c" stroke-width="1.0" stroke-opacity="1.0" stroke-linejoin="round"/>
<polyline points="43.0,137.7 43.5,135.6 44.1,133.6 44.6,131.7 45.1,129.8 45.6,128.1 46.2,126.3 46.7,124.7 47.2,123.1 47.8,121.6 48.3,120.1 48.8,118.7 49.3,117.4 49.9,116.1 50.4,114.9 50.9,113.7 51.4,112.5 52.0,111.4 52.5,110.4 53.0,109.3 53.6,108.4 54.1,107.4 54.6,106.5 55.1,105.7 55.7,104.8 56.2,104.0 56.7,103.2 57.3,102.5 57.8,101.8 58.3,101.1 58.8,100.5 59.4,99.8 59.9,99.2 60.4,98.6 60.9,98.1 61.5,97.5 62.0,97.0 62.5,96.5 63.1,96.0 63.6,95.6 64.1,95.1 64.6,94.7 65.2,94.3 65.7,93.9 66.2,93.5 66.8,93.2 67.3,92.8 67.8,92.5 68.3,92.2 68.9,91.9 69.4,91.6 69.9,91.3 70.4,91.0 71.0,90.8 71.5,90.5 72.0,90.3 72.6,90.0 73.1,89.8 73.6,89.6 74.1,89.4 74.7,89.2 75.2,89.0 75.7,88.8 76.3,88.6 76.8,88.5 77.3,88.3 77.8,88.2 78.4,88.0 78.9,87.9 79.4,87.7 80.0,87.6 80.5,87.5 81.0,87.3 81.5,87.2 82.1,87.1 82.6,87.0 83.1,86.9 83.6,86.8 84.2,86.7 84.7,86.6 84.7,86.6 86.3,87.1 87.9,87.6 89.5,88.1 91.0,88.7 92.6,89.2 94.2,89.6 95.8,90.1 97.4,90.6 99.0,91.1 100.5,91.6 102.1,92.1 103.7,92.5 105.3,93.0 106.9,93.4 108.5,93.9 110.0,94.3 111.6,94.8 113.2,95.2 114.8,95.6 116.4,96.1 118.0,96.5 119.5,96.9 121.1,97.3 122.7,97.7 124.3,98.2 125.9,98.6 127.5,99.0 129.0,99.4 130.6,99.7 132.2,100.1 133.8,100.5 135.4,100.9 137.0,101.3 138.5,101.6 140.1,102.0 141.7,102.4 143.3,102.7 144.9,103.1 146.5,103.4 148.0,103.8 149.6,104.1 151.2,104.5 152.8,104.8 154.4,105.2 156.0,105.5 157.5,105.8 159.1,106.1 160.7,106.5 162.3,106.8 163.9,107.1 165.5,107.4 167.0,107.7 168.6,108.0 170.2,108.3 171.8,108.6 173.4,108.9 175.0,109.2 176.5,109.5 178.1,109.8 179.7,110.1 181.3,110.4 182.9,110.6 184.5,110.9 186.1,111.2 187.6,111.5 189.2,111.7 190.8,112.0 192.4,112.3 194.0,112.5 195.6,112.8 197.1,113.0 198.7,113.3 200.3,113.5 201.9,113.8 203.5,114.0 205.1,114.3 206.6,114.5 208.2,114.7 209.8,115.0" fill="none" stroke="#f0404c" stroke-width="1.0" stroke-opacity="1.0" stroke-linejoin="round"/>
</g>
<line x1="84.70" y1="22.70" x2="84.70" y2="137.70" stroke="#e8262a" stroke-width="1" stroke-dasharray="1.3,1.0"/>
<text stroke="#1a1a1a" stroke-width="0.2" x="217.30" y="80.30" font-size="8.8" text-anchor="start" font-weight="normal" textLength="30" lengthAdjust="spacingAndGlyphs">320 nM</text>
<line x1="223.1" y1="90.8" x2="223.1" y2="101.6" stroke="#000" stroke-width="2.9"/>
<polygon points="220.30,91.20 223.10,86.80 225.90,91.20" fill="#000"/>
<text stroke="#1a1a1a" stroke-width="0.2" x="217.30" y="115.20" font-size="8.8" text-anchor="start" font-weight="normal" textLength="24.8" lengthAdjust="spacingAndGlyphs">40 nM</text>
<rect x="44.40" y="314.10" width="166.00" height="23.30" fill="#f8f8f8"/>
<rect x="44.40" y="267.50" width="166.00" height="23.30" fill="#f8f8f8"/>
<rect x="44.40" y="227.60" width="166.00" height="16.60" fill="#f8f8f8"/>
<line x1="69.84" y1="227.60" x2="69.84" y2="343.30" stroke="#eeeeee" stroke-width="0.6"/>
<line x1="95.28" y1="227.60" x2="95.28" y2="343.30" stroke="#eeeeee" stroke-width="0.6"/>
<line x1="120.72" y1="227.60" x2="120.72" y2="343.30" stroke="#eeeeee" stroke-width="0.6"/>
<line x1="146.16" y1="227.60" x2="146.16" y2="343.30" stroke="#eeeeee" stroke-width="0.6"/>
<line x1="171.60" y1="227.60" x2="171.60" y2="343.30" stroke="#eeeeee" stroke-width="0.6"/>
<line x1="197.04" y1="227.60" x2="197.04" y2="343.30" stroke="#eeeeee" stroke-width="0.6"/>
<path d="M50.8 343.3V339.8M57.1 343.3V339.8M63.5 343.3V339.8M69.8 343.3V339.8M76.2 343.3V339.8M82.6 343.3V339.8M88.9 343.3V339.8M95.3 343.3V339.8M101.6 343.3V339.8M108.0 343.3V339.8M114.4 343.3V339.8M120.7 343.3V339.8M127.1 343.3V339.8M133.4 343.3V339.8M139.8 343.3V339.8M146.2 343.3V339.8M152.5 343.3V339.8M158.9 343.3V339.8M165.2 343.3V339.8M171.6 343.3V339.8M178.0 343.3V339.8M184.3 343.3V339.8M190.7 343.3V339.8M197.0 343.3V339.8M203.4 343.3V339.8" stroke="#dddddd" stroke-width="0.6" fill="none"/>
<path d="M44.4 342.1H47.4M44.4 337.4H47.4M44.4 332.7H47.4M44.4 328.1H47.4M44.4 323.4H47.4M44.4 318.8H47.4M44.4 314.1H47.4M44.4 309.4H47.4M44.4 304.8H47.4M44.4 300.1H47.4M44.4 295.5H47.4M44.4 290.8H47.4M44.4 286.1H47.4M44.4 281.5H47.4M44.4 276.8H47.4M44.4 272.2H47.4M44.4 267.5H47.4M44.4 262.8H47.4M44.4 258.2H47.4M44.4 253.5H47.4M44.4 248.9H47.4M44.4 244.2H47.4M44.4 239.5H47.4M44.4 234.9H47.4M44.4 230.2H47.4" stroke="#dddddd" stroke-width="0.6" fill="none"/>
<line x1="210.40" y1="227.60" x2="210.40" y2="343.30" stroke="#e2e2e2" stroke-width="1"/>
<line x1="44.40" y1="227.60" x2="44.40" y2="343.30" stroke="#d0d0d0" stroke-width="1"/>
<line x1="43.90" y1="227.60" x2="210.90" y2="227.60" stroke="#c4c4c4" stroke-width="1.7"/>
<line x1="43.90" y1="343.30" x2="210.90" y2="343.30" stroke="#c4c4c4" stroke-width="1.4"/>
<line x1="41.90" y1="337.40" x2="44.40" y2="337.40" stroke="#a8a8a8" stroke-width="0.8"/>
<text stroke="#1a1a1a" stroke-width="0.2" x="40.00" y="340.40" font-size="8.6" text-anchor="end" font-weight="normal"></text>
<line x1="41.90" y1="314.10" x2="44.40" y2="314.10" stroke="#a8a8a8" stroke-width="0.8"/>
<text stroke="#1a1a1a" stroke-width="0.2" x="40.00" y="317.10" font-size="8.6" text-anchor="end" font-weight="normal">0.05</text>
<line x1="41.90" y1="290.80" x2="44.40" y2="290.80" stroke="#a8a8a8" stroke-width="0.8"/>
<text stroke="#1a1a1a" stroke-width="0.2" x="40.00" y="293.80" font-size="8.6" text-anchor="end" font-weight="normal">0.10</text>
<line x1="41.90" y1="267.50" x2="44.40" y2="267.50" stroke="#a8a8a8" stroke-width="0.8"/>
<text stroke="#1a1a1a" stroke-width="0.2" x="40.00" y="270.50" font-size="8.6" text-anchor="end" font-weight="normal">0.15</text>
<line x1="41.90" y1="244.20" x2="44.40" y2="244.20" stroke="#a8a8a8" stroke-width="0.8"/>
<text stroke="#1a1a1a" stroke-width="0.2" x="40.00" y="247.20" font-size="8.6" text-anchor="end" font-weight="normal">0.20</text>
<line x1="44.40" y1="343.30" x2="44.40" y2="345.80" stroke="#a8a8a8" stroke-width="0.8"/>
<text stroke="#1a1a1a" stroke-width="0.2" x="44.40" y="355.80" font-size="8.6" text-anchor="middle" font-weight="normal">0</text>
<line x1="69.84" y1="343.30" x2="69.84" y2="345.80" stroke="#a8a8a8" stroke-width="0.8"/>
<text stroke="#1a1a1a" stroke-width="0.2" x="69.84" y="355.80" font-size="8.6" text-anchor="middle" font-weight="normal">200</text>
<line x1="95.28" y1="343.30" x2="95.28" y2="345.80" stroke="#a8a8a8" stroke-width="0.8"/>
<text stroke="#1a1a1a" stroke-width="0.2" x="95.28" y="355.80" font-size="8.6" text-anchor="middle" font-weight="normal">400</text>
<line x1="120.72" y1="343.30" x2="120.72" y2="345.80" stroke="#a8a8a8" stroke-width="0.8"/>
<text stroke="#1a1a1a" stroke-width="0.2" x="120.72" y="355.80" font-size="8.6" text-anchor="middle" font-weight="normal">600</text>
<line x1="146.16" y1="343.30" x2="146.16" y2="345.80" stroke="#a8a8a8" stroke-width="0.8"/>
<text stroke="#1a1a1a" stroke-width="0.2" x="146.16" y="355.80" font-size="8.6" text-anchor="middle" font-weight="normal">800</text>
<line x1="171.60" y1="343.30" x2="171.60" y2="345.80" stroke="#a8a8a8" stroke-width="0.8"/>
<text stroke="#1a1a1a" stroke-width="0.2" x="171.60" y="355.80" font-size="8.6" text-anchor="middle" font-weight="normal">1000</text>
<line x1="197.04" y1="343.30" x2="197.04" y2="345.80" stroke="#a8a8a8" stroke-width="0.8"/>
<text stroke="#1a1a1a" stroke-width="0.2" x="197.04" y="355.80" font-size="8.6" text-anchor="middle" font-weight="normal">1200</text>
<text stroke="#1a1a1a" stroke-width="0.2" x="49.80" y="220.50" font-size="9.2" text-anchor="start" font-weight="normal" textLength="23.3" lengthAdjust="spacingAndGlyphs">HIB19</text>
<text stroke="#1a1a1a" stroke-width="0.2" x="7.40" y="219.70" font-size="12" text-anchor="start" font-weight="bold">B</text>
<text stroke="#1a1a1a" stroke-width="0.2" transform="translate(15.60,285.00) rotate(-90)" x="0" y="0" font-size="8.8" text-anchor="middle" textLength="71" lengthAdjust="spacingAndGlyphs">spectral shift [nm]</text>
<text stroke="#1a1a1a" stroke-width="0.2" x="121.80" y="373.60" font-size="8.8" text-anchor="middle" font-weight="normal" textLength="30" lengthAdjust="spacingAndGlyphs">Time [s]</text>
<g clip-path="url(#clipB)">
<polyline points="44.4,336.6 44.8,330.9 45.3,323.8 45.7,317.2 46.1,312.3 46.5,308.4 47.0,304.3 47.4,300.4 47.8,297.4 48.3,294.6 48.7,291.7 49.1,290.9 49.5,287.5 50.0,284.8 50.4,283.2 50.8,282.1 51.3,280.3 51.7,278.0 52.1,276.0 52.5,274.7 53.0,272.0 53.4,270.6 53.8,270.3 54.3,267.9 54.7,267.0 55.1,266.1 55.5,264.3 56.0,262.6 56.4,262.7 56.8,260.6 57.3,258.9 57.7,258.5 58.1,257.4 58.5,255.7 59.0,255.5 59.4,254.7 59.8,252.9 60.3,253.4 60.7,252.7 61.1,252.1 61.6,250.8 62.0,251.0 62.4,250.7 62.8,250.3 63.3,249.0 63.7,249.6 64.1,248.0 64.6,248.2 65.0,248.7 65.4,247.1 65.8,246.8 66.3,247.4 66.7,246.1 67.1,245.8 67.6,245.8 68.0,246.0 68.4,243.7 68.8,244.2 69.3,243.8 69.7,243.4 70.1,243.3 70.6,243.0 71.0,243.4 71.4,242.4 71.8,242.8 72.3,242.7 72.7,241.7 73.1,242.0 73.6,242.7 74.0,241.6 74.4,240.8 74.8,240.9 75.3,240.1 75.7,240.6 76.1,240.8 76.6,239.5 77.0,239.7 77.4,240.3 77.8,239.1 78.3,239.3 78.7,238.4 79.1,238.4 79.6,238.4 80.0,239.8 80.4,238.1 80.8,237.9 81.3,237.8 81.7,237.9 82.1,238.3 82.6,237.9 82.6,239.0 83.0,237.1 83.3,237.2 83.7,235.9 84.1,235.7 84.5,234.2 84.9,234.9 85.3,235.1 85.7,235.4 86.1,234.8 86.5,237.3 86.9,237.4 87.3,238.3 87.6,239.4 88.0,240.5 88.4,241.9 88.8,242.0 89.2,243.1 89.6,244.8 90.0,245.5 90.4,245.8 90.8,246.3 91.2,246.8 91.6,247.9 91.9,249.2 92.3,248.4 92.7,250.6 93.1,250.7 93.5,250.5 93.9,251.8 94.3,251.0 94.7,251.4 95.1,252.2 95.5,253.2 95.8,253.8 96.2,254.1 96.6,255.0 97.0,254.2 97.4,256.2 97.8,255.6 98.2,256.5 98.6,257.1 99.0,257.1 99.4,257.4 99.8,258.1 100.1,259.1 100.5,259.9 100.9,260.4 101.3,259.9 101.7,260.4 102.1,260.8 102.5,262.0 102.9,260.9 103.3,263.3 103.7,262.7 104.1,262.9 104.4,264.0 104.8,264.8 105.2,264.8 105.6,265.7 106.0,265.5 106.4,266.6 106.8,267.0 107.2,266.6 107.6,267.9 108.0,267.5 108.4,267.9 108.7,267.6 109.1,268.4 109.5,269.4 109.9,268.5 110.3,270.1 110.7,270.3 111.1,270.6 111.5,269.5 111.9,271.1 112.3,271.9 112.7,271.5 113.0,272.3 113.4,271.2 113.8,273.4 114.2,273.0 114.6,274.2 115.0,272.9 115.4,274.8 115.8,274.6 116.2,275.6 116.6,274.9 117.0,275.4 117.3,277.4 117.7,275.9 118.1,276.3 118.5,276.9 118.9,276.8 119.3,278.4 119.7,279.1 120.1,277.9 120.5,277.6 120.9,279.7 121.3,280.0 121.6,280.1 122.0,280.6 122.4,279.7 122.8,280.4 123.2,280.0 123.6,280.3 124.0,282.0 124.4,281.3 124.8,283.4 125.2,282.3 125.6,282.2 125.9,283.3 126.3,284.2 126.7,283.7 127.1,282.9 127.5,284.2 127.9,285.0 128.3,284.2 128.7,284.3 129.1,285.6 129.5,285.4 129.9,284.9 130.2,285.6 130.6,285.7 131.0,286.6 131.4,286.7 131.8,287.6 132.2,287.6 132.6,286.5 133.0,287.9 133.4,288.5 133.8,288.5 134.2,289.1 134.5,288.4 134.9,288.4 135.3,289.8 135.7,288.8 136.1,288.4 136.5,290.6 136.9,289.8 137.3,290.3 137.7,289.9 138.1,290.2 138.5,290.5 138.8,291.2 139.2,291.9 139.6,290.5 140.0,292.6 140.4,291.7 140.8,292.0 141.2,293.3 141.6,293.1 142.0,292.4 142.4,294.7 142.8,293.3 143.1,294.2 143.5,294.4 143.9,295.3 144.3,294.4 144.7,295.5 145.1,294.7 145.5,296.0 145.9,295.1 146.3,295.6 146.7,297.1 147.1,296.4 147.4,296.5 147.8,298.0 148.2,297.0 148.6,296.5 149.0,297.7 149.4,296.7 149.8,298.3 150.2,298.5 150.6,297.7 151.0,297.8 151.4,298.5 151.7,298.6 152.1,298.2 152.5,299.3 152.9,297.9 153.3,299.1 153.7,299.3 154.1,299.5 154.5,300.1 154.9,299.3 155.3,300.6 155.7,300.3 156.0,300.2 156.4,299.9 156.8,300.2 157.2,301.3 157.6,300.6 158.0,301.4 158.4,302.2 158.8,302.3 159.2,302.8 159.6,301.8 160.0,301.5 160.3,302.9 160.7,302.6 161.1,303.3 161.5,302.8 161.9,303.6 162.3,303.6 162.7,303.6 163.1,303.7 163.5,303.8 163.9,303.8 164.3,303.9 164.6,304.6 165.0,303.8 165.4,305.3 165.8,304.3 166.2,305.1 166.6,304.7 167.0,304.7 167.4,306.2 167.8,305.0 168.2,304.5 168.6,305.0 168.9,305.4 169.3,307.0 169.7,306.0 170.1,306.6 170.5,305.6 170.9,306.5 171.3,306.9 171.7,307.7 172.1,306.3 172.5,307.2 172.9,307.2 173.2,306.5 173.6,307.3 174.0,307.3 174.4,306.2 174.8,308.1 175.2,308.2 175.6,307.7 176.0,307.3 176.4,309.1 176.8,308.5 177.2,309.1 177.5,309.5 177.9,308.5 178.3,309.4 178.7,308.9 179.1,309.1 179.5,309.3 179.9,309.4 180.3,310.2 180.7,309.8 181.1,309.7 181.5,309.8 181.8,310.3 182.2,309.7 182.6,310.0 183.0,310.4 183.4,310.2 183.8,310.6 184.2,310.5 184.6,312.1 185.0,311.9 185.4,311.5 185.8,311.3 186.1,312.7 186.5,311.7 186.9,311.6 187.3,311.9 187.7,312.1 188.1,312.8 188.5,312.1 188.9,313.5 189.3,311.8 189.7,312.9 190.1,311.9 190.4,313.7 190.8,312.6 191.2,312.8 191.6,313.5 192.0,313.8 192.4,312.5 192.8,313.1 193.2,312.5 193.6,313.6 194.0,313.5 194.4,313.5 194.7,313.4 195.1,313.6 195.5,313.5 195.9,314.4 196.3,315.1 196.7,313.1 197.1,314.3 197.5,314.2 197.9,314.8 198.3,314.0 198.7,314.6 199.0,314.1 199.4,315.3 199.8,315.0 200.2,314.9 200.6,315.3 201.0,315.0 201.4,314.3 201.8,315.7 202.2,315.6 202.6,315.4 203.0,316.1 203.3,316.4 203.7,315.0 204.1,315.3 204.5,316.8 204.9,316.8 205.3,315.5 205.7,315.3 206.1,315.7 206.5,315.9 206.9,315.3 207.3,316.3 207.6,315.6 208.0,315.7 208.4,317.0 208.8,316.1 209.2,316.5 209.6,317.0 210.0,317.1 210.4,316.5 210.8,316.8 211.2,316.3" fill="none" stroke="#6e6ef0" stroke-width="1.0" stroke-opacity="0.85" stroke-linejoin="round"/>
<polyline points="44.4,337.5 44.8,333.4 45.3,328.9 45.7,326.2 46.1,323.3 46.5,320.0 47.0,317.9 47.4,314.9 47.8,311.5 48.3,309.8 48.7,307.3 49.1,306.5 49.5,304.8 50.0,304.7 50.4,301.6 50.8,298.8 51.3,298.2 51.7,297.3 52.1,295.1 52.5,294.1 53.0,293.1 53.4,292.4 53.8,290.9 54.3,289.4 54.7,289.3 55.1,287.5 55.5,286.5 56.0,285.1 56.4,284.5 56.8,284.5 57.3,282.4 57.7,282.5 58.1,282.3 58.5,280.9 59.0,280.6 59.4,279.1 59.8,280.0 60.3,279.3 60.7,278.2 61.1,276.5 61.6,276.4 62.0,277.1 62.4,277.0 62.8,275.7 63.3,275.8 63.7,274.2 64.1,274.1 64.6,273.8 65.0,273.6 65.4,272.0 65.8,273.1 66.3,273.0 66.7,271.1 67.1,270.6 67.6,271.3 68.0,270.3 68.4,269.0 68.8,270.5 69.3,269.8 69.7,269.1 70.1,270.3 70.6,268.7 71.0,267.9 71.4,268.0 71.8,267.0 72.3,266.8 72.7,267.2 73.1,266.2 73.6,266.0 74.0,266.9 74.4,266.1 74.8,265.7 75.3,265.2 75.7,264.9 76.1,265.2 76.6,264.0 77.0,264.8 77.4,262.8 77.8,262.9 78.3,262.0 78.7,262.3 79.1,262.5 79.6,262.8 80.0,261.3 80.4,261.4 80.8,260.9 81.3,260.4 81.7,259.9 82.1,260.4 82.6,259.1 82.6,260.2 83.0,258.6 83.3,256.7 83.7,255.2 84.1,253.9 84.5,255.1 84.9,253.0 85.3,254.8 85.7,254.5 86.1,254.2 86.5,254.1 86.9,256.0 87.3,257.0 87.6,256.0 88.0,257.1 88.4,258.6 88.8,258.9 89.2,260.6 89.6,259.8 90.0,261.2 90.4,260.8 90.8,263.5 91.2,262.4 91.6,262.0 91.9,263.8 92.3,264.3 92.7,266.0 93.1,265.2 93.5,265.9 93.9,266.7 94.3,267.8 94.7,267.3 95.1,268.4 95.5,268.6 95.8,268.6 96.2,269.3 96.6,269.7 97.0,269.6 97.4,271.3 97.8,270.2 98.2,272.2 98.6,272.5 99.0,272.3 99.4,272.3 99.8,273.0 100.1,273.9 100.5,274.4 100.9,274.5 101.3,275.3 101.7,274.8 102.1,275.6 102.5,274.9 102.9,276.7 103.3,276.7 103.7,276.7 104.1,278.0 104.4,278.0 104.8,276.3 105.2,278.3 105.6,277.8 106.0,279.6 106.4,280.8 106.8,279.4 107.2,280.1 107.6,280.2 108.0,280.9 108.4,281.4 108.7,282.1 109.1,281.1 109.5,282.9 109.9,281.7 110.3,282.8 110.7,283.6 111.1,283.7 111.5,283.0 111.9,283.4 112.3,283.9 112.7,284.4 113.0,285.5 113.4,284.3 113.8,285.7 114.2,286.0 114.6,286.3 115.0,286.5 115.4,287.5 115.8,287.1 116.2,287.6 116.6,287.7 117.0,288.8 117.3,286.8 117.7,289.0 118.1,288.3 118.5,288.6 118.9,288.5 119.3,288.2 119.7,289.3 120.1,289.4 120.5,290.4 120.9,289.5 121.3,291.5 121.6,291.0 122.0,291.0 122.4,290.9 122.8,291.1 123.2,291.2 123.6,291.8 124.0,292.3 124.4,292.5 124.8,292.0 125.2,292.9 125.6,292.7 125.9,293.6 126.3,294.9 126.7,294.3 127.1,294.0 127.5,293.4 127.9,293.8 128.3,293.8 128.7,295.5 129.1,294.8 129.5,295.5 129.9,295.4 130.2,296.0 130.6,297.0 131.0,296.0 131.4,296.4 131.8,296.3 132.2,297.5 132.6,296.6 133.0,296.7 133.4,296.8 133.8,297.0 134.2,298.3 134.5,299.8 134.9,297.9 135.3,299.2 135.7,299.0 136.1,298.4 136.5,299.1 136.9,299.3 137.3,299.2 137.7,301.0 138.1,298.9 138.5,300.5 138.8,300.6 139.2,300.3 139.6,300.9 140.0,301.5 140.4,301.3 140.8,301.6 141.2,302.0 141.6,300.5 142.0,302.8 142.4,303.5 142.8,302.9 143.1,303.1 143.5,301.8 143.9,302.8 144.3,302.5 144.7,302.8 145.1,303.9 145.5,303.1 145.9,303.6 146.3,302.7 146.7,304.0 147.1,304.3 147.4,304.0 147.8,304.1 148.2,305.8 148.6,304.1 149.0,304.4 149.4,304.7 149.8,306.1 150.2,306.8 150.6,305.9 151.0,305.4 151.4,305.7 151.7,306.7 152.1,305.7 152.5,307.3 152.9,307.4 153.3,306.7 153.7,307.2 154.1,307.4 154.5,308.1 154.9,306.6 155.3,308.1 155.7,307.3 156.0,307.2 156.4,307.9 156.8,307.8 157.2,307.5 157.6,307.2 158.0,307.7 158.4,309.3 158.8,309.7 159.2,309.1 159.6,309.5 160.0,308.6 160.3,309.0 160.7,309.3 161.1,308.6 161.5,308.8 161.9,309.6 162.3,309.5 162.7,309.1 163.1,310.1 163.5,309.9 163.9,310.7 164.3,310.2 164.6,310.2 165.0,310.6 165.4,310.5 165.8,310.3 166.2,310.6 166.6,311.4 167.0,311.5 167.4,312.0 167.8,310.3 168.2,311.2 168.6,311.3 168.9,311.8 169.3,311.5 169.7,311.6 170.1,312.5 170.5,312.2 170.9,311.5 171.3,313.1 171.7,313.1 172.1,312.2 172.5,313.2 172.9,312.4 173.2,313.6 173.6,312.9 174.0,312.6 174.4,313.0 174.8,312.9 175.2,313.6 175.6,313.7 176.0,313.7 176.4,313.4 176.8,311.7 177.2,314.0 177.5,313.0 177.9,314.4 178.3,315.0 178.7,314.6 179.1,314.3 179.5,314.5 179.9,314.6 180.3,314.5 180.7,314.6 181.1,314.5 181.5,315.8 181.8,315.2 182.2,315.9 182.6,315.3 183.0,315.6 183.4,315.5 183.8,316.0 184.2,316.3 184.6,316.1 185.0,315.6 185.4,315.6 185.8,317.2 186.1,316.1 186.5,316.2 186.9,317.4 187.3,317.2 187.7,317.0 188.1,316.5 188.5,318.2 188.9,317.2 189.3,317.3 189.7,317.0 190.1,316.3 190.4,316.5 190.8,317.6 191.2,317.7 191.6,317.4 192.0,316.9 192.4,316.8 192.8,317.6 193.2,317.0 193.6,318.5 194.0,318.7 194.4,319.8 194.7,318.7 195.1,317.9 195.5,317.8 195.9,316.3 196.3,318.1 196.7,318.4 197.1,319.2 197.5,319.0 197.9,319.1 198.3,318.9 198.7,319.3 199.0,319.8 199.4,318.4 199.8,318.8 200.2,318.3 200.6,320.2 201.0,320.0 201.4,319.8 201.8,318.7 202.2,319.5 202.6,319.4 203.0,319.6 203.3,319.5 203.7,320.0 204.1,319.5 204.5,320.3 204.9,320.0 205.3,319.7 205.7,319.9 206.1,319.7 206.5,320.5 206.9,319.9 207.3,320.3 207.6,319.9 208.0,319.3 208.4,320.8 208.8,319.7 209.2,320.7 209.6,320.6 210.0,319.4 210.4,319.9 210.8,320.2 211.2,320.0" fill="none" stroke="#6e6ef0" stroke-width="1.0" stroke-opacity="0.85" stroke-linejoin="round"/>
<polyline points="44.4,335.8 44.8,334.1 45.3,330.7 45.7,328.3 46.1,325.1 46.5,322.9 47.0,319.9 47.4,318.2 47.8,316.7 48.3,314.9 48.7,313.3 49.1,311.6 49.5,311.1 50.0,310.0 50.4,308.6 50.8,307.2 51.3,306.9 51.7,307.1 52.1,304.4 52.5,303.9 53.0,303.1 53.4,300.4 53.8,301.2 54.3,300.0 54.7,300.5 55.1,298.8 55.5,297.8 56.0,297.4 56.4,297.0 56.8,295.9 57.3,295.6 57.7,294.3 58.1,294.4 58.5,294.4 59.0,294.6 59.4,293.3 59.8,292.5 60.3,292.5 60.7,291.9 61.1,291.8 61.6,291.0 62.0,289.9 62.4,289.7 62.8,289.2 63.3,288.8 63.7,288.4 64.1,287.4 64.6,286.2 65.0,286.7 65.4,285.5 65.8,286.4 66.3,286.0 66.7,284.7 67.1,285.8 67.6,285.5 68.0,284.7 68.4,285.3 68.8,285.1 69.3,282.9 69.7,283.9 70.1,283.3 70.6,282.9 71.0,282.9 71.4,281.5 71.8,281.3 72.3,280.8 72.7,280.5 73.1,280.5 73.6,279.4 74.0,279.3 74.4,279.9 74.8,279.2 75.3,279.2 75.7,277.5 76.1,277.8 76.6,277.6 77.0,277.7 77.4,277.0 77.8,277.6 78.3,276.7 78.7,276.4 79.1,276.1 79.6,276.2 80.0,275.2 80.4,275.9 80.8,275.2 81.3,274.7 81.7,274.4 82.1,274.4 82.6,274.4 82.6,274.4 83.0,272.2 83.3,270.7 83.7,268.6 84.1,268.0 84.5,266.3 84.9,264.9 85.3,267.0 85.7,266.4 86.1,266.0 86.5,267.0 86.9,267.0 87.3,269.4 87.6,269.0 88.0,268.4 88.4,270.4 88.8,270.5 89.2,272.6 89.6,271.5 90.0,271.5 90.4,273.5 90.8,273.8 91.2,274.3 91.6,273.7 91.9,275.7 92.3,276.9 92.7,275.1 93.1,277.4 93.5,276.8 93.9,278.9 94.3,278.2 94.7,278.2 95.1,279.3 95.5,279.4 95.8,279.1 96.2,280.2 96.6,279.9 97.0,279.5 97.4,282.1 97.8,281.0 98.2,281.2 98.6,282.1 99.0,281.3 99.4,281.8 99.8,282.6 100.1,282.9 100.5,283.6 100.9,284.5 101.3,283.9 101.7,284.7 102.1,285.1 102.5,284.4 102.9,285.5 103.3,285.1 103.7,286.5 104.1,286.5 104.4,286.5 104.8,285.9 105.2,287.1 105.6,286.8 106.0,288.0 106.4,287.8 106.8,287.6 107.2,289.0 107.6,289.1 108.0,288.6 108.4,289.9 108.7,289.3 109.1,289.5 109.5,290.0 109.9,289.8 110.3,290.2 110.7,290.6 111.1,291.9 111.5,292.1 111.9,291.3 112.3,292.7 112.7,291.9 113.0,292.4 113.4,293.0 113.8,292.9 114.2,294.4 114.6,293.3 115.0,292.7 115.4,294.4 115.8,293.6 116.2,293.9 116.6,292.5 117.0,295.1 117.3,295.2 117.7,295.5 118.1,295.8 118.5,296.4 118.9,295.6 119.3,296.4 119.7,295.6 120.1,296.1 120.5,297.1 120.9,296.9 121.3,296.1 121.6,297.3 122.0,297.2 122.4,297.0 122.8,298.0 123.2,297.7 123.6,297.2 124.0,297.7 124.4,299.6 124.8,297.8 125.2,299.0 125.6,299.5 125.9,299.7 126.3,298.7 126.7,299.5 127.1,299.9 127.5,300.5 127.9,299.8 128.3,299.7 128.7,301.2 129.1,301.4 129.5,301.2 129.9,300.8 130.2,301.6 130.6,301.6 131.0,302.2 131.4,301.1 131.8,302.1 132.2,302.1 132.6,301.7 133.0,302.7 133.4,302.8 133.8,302.7 134.2,303.3 134.5,302.4 134.9,303.4 135.3,303.9 135.7,304.0 136.1,304.6 136.5,303.4 136.9,303.4 137.3,304.6 137.7,304.9 138.1,306.1 138.5,305.3 138.8,304.6 139.2,305.8 139.6,304.9 140.0,304.7 140.4,307.3 140.8,306.1 141.2,306.5 141.6,306.6 142.0,307.5 142.4,306.7 142.8,307.5 143.1,306.3 143.5,306.2 143.9,308.0 144.3,308.2 144.7,307.8 145.1,307.8 145.5,307.9 145.9,307.5 146.3,309.0 146.7,308.6 147.1,308.7 147.4,308.7 147.8,309.3 148.2,309.1 148.6,309.4 149.0,308.4 149.4,309.5 149.8,310.7 150.2,309.2 150.6,309.5 151.0,310.3 151.4,310.5 151.7,310.4 152.1,309.2 152.5,310.6 152.9,309.7 153.3,310.0 153.7,311.0 154.1,310.6 154.5,311.4 154.9,312.9 155.3,311.6 155.7,311.7 156.0,310.9 156.4,311.1 156.8,311.0 157.2,311.5 157.6,311.2 158.0,311.6 158.4,312.0 158.8,311.6 159.2,311.5 159.6,311.6 160.0,312.8 160.3,312.7 160.7,313.4 161.1,313.5 161.5,312.8 161.9,313.5 162.3,312.4 162.7,314.7 163.1,314.2 163.5,313.4 163.9,313.0 164.3,314.0 164.6,312.8 165.0,313.5 165.4,314.6 165.8,314.3 166.2,314.0 166.6,315.0 167.0,313.9 167.4,314.8 167.8,314.5 168.2,314.4 168.6,315.3 168.9,314.5 169.3,316.3 169.7,315.0 170.1,316.6 170.5,314.9 170.9,316.0 171.3,315.0 171.7,315.0 172.1,316.0 172.5,316.4 172.9,315.4 173.2,317.0 173.6,315.9 174.0,316.5 174.4,316.8 174.8,317.0 175.2,315.7 175.6,317.8 176.0,317.3 176.4,316.8 176.8,316.5 177.2,316.2 177.5,316.5 177.9,317.8 178.3,317.3 178.7,317.0 179.1,317.4 179.5,318.8 179.9,317.7 180.3,317.7 180.7,318.9 181.1,318.5 181.5,318.3 181.8,318.0 182.2,317.6 182.6,317.9 183.0,318.4 183.4,318.7 183.8,319.1 184.2,319.3 184.6,319.2 185.0,319.3 185.4,318.6 185.8,318.0 186.1,319.1 186.5,318.9 186.9,319.2 187.3,319.5 187.7,319.0 188.1,319.2 188.5,319.9 188.9,320.1 189.3,319.7 189.7,320.5 190.1,320.1 190.4,319.7 190.8,320.5 191.2,321.6 191.6,320.2 192.0,321.4 192.4,321.6 192.8,321.7 193.2,320.4 193.6,322.2 194.0,321.1 194.4,321.0 194.7,321.1 195.1,321.7 195.5,321.4 195.9,321.3 196.3,322.3 196.7,321.2 197.1,321.0 197.5,322.2 197.9,322.2 198.3,322.5 198.7,321.3 199.0,322.7 199.4,322.4 199.8,323.2 200.2,321.5 200.6,322.4 201.0,322.2 201.4,321.5 201.8,322.1 202.2,323.2 202.6,322.3 203.0,322.2 203.3,323.2 203.7,323.4 204.1,323.4 204.5,322.4 204.9,322.9 205.3,323.6 205.7,322.7 206.1,322.7 206.5,323.7 206.9,324.2 207.3,322.6 207.6,321.8 208.0,322.5 208.4,322.8 208.8,323.4 209.2,323.9 209.6,323.5 210.0,323.2 210.4,323.8 210.8,323.2 211.2,323.8" fill="none" stroke="#6e6ef0" stroke-width="1.0" stroke-opacity="0.85" stroke-linejoin="round"/>
<polyline points="44.4,336.1 44.8,336.6 45.3,334.0 45.7,331.6 46.1,330.1 46.5,329.2 47.0,327.4 47.4,326.9 47.8,326.1 48.3,326.2 48.7,324.7 49.1,323.8 49.5,322.9 50.0,322.3 50.4,322.4 50.8,321.8 51.3,322.0 51.7,320.4 52.1,320.8 52.5,319.8 53.0,319.1 53.4,317.3 53.8,317.2 54.3,317.8 54.7,317.7 55.1,316.4 55.5,316.2 56.0,314.9 56.4,314.4 56.8,313.7 57.3,314.2 57.7,313.3 58.1,312.4 58.5,311.9 59.0,311.9 59.4,311.3 59.8,310.1 60.3,311.1 60.7,309.8 61.1,309.2 61.6,309.6 62.0,308.9 62.4,307.8 62.8,307.7 63.3,306.3 63.7,306.1 64.1,304.8 64.6,306.4 65.0,304.1 65.4,305.3 65.8,303.9 66.3,303.4 66.7,303.5 67.1,303.4 67.6,303.2 68.0,303.4 68.4,302.2 68.8,302.1 69.3,300.8 69.7,301.3 70.1,300.5 70.6,299.8 71.0,299.7 71.4,299.3 71.8,299.2 72.3,299.0 72.7,298.1 73.1,297.6 73.6,298.2 74.0,296.5 74.4,296.9 74.8,297.9 75.3,295.1 75.7,296.1 76.1,296.7 76.6,295.1 77.0,297.4 77.4,294.1 77.8,296.4 78.3,296.3 78.7,295.7 79.1,294.9 79.6,295.1 80.0,294.2 80.4,295.0 80.8,293.8 81.3,294.1 81.7,294.8 82.1,293.4 82.6,293.8 82.6,294.1 83.0,292.0 83.3,292.4 83.7,290.8 84.1,288.8 84.5,289.0 84.9,288.2 85.3,288.2 85.7,288.8 86.1,288.5 86.5,289.7 86.9,289.1 87.3,290.5 87.6,290.3 88.0,291.3 88.4,291.0 88.8,291.6 89.2,291.8 89.6,293.4 90.0,294.2 90.4,295.5 90.8,295.6 91.2,295.5 91.6,295.8 91.9,296.6 92.3,296.8 92.7,298.0 93.1,298.0 93.5,297.3 93.9,297.7 94.3,299.2 94.7,298.9 95.1,298.9 95.5,300.0 95.8,299.4 96.2,299.8 96.6,299.9 97.0,299.3 97.4,301.3 97.8,300.3 98.2,301.0 98.6,301.2 99.0,302.3 99.4,302.1 99.8,302.4 100.1,301.6 100.5,302.8 100.9,302.3 101.3,303.6 101.7,303.8 102.1,303.8 102.5,305.3 102.9,304.6 103.3,304.9 103.7,304.8 104.1,304.9 104.4,305.8 104.8,306.1 105.2,304.8 105.6,306.4 106.0,306.3 106.4,306.8 106.8,306.7 107.2,305.8 107.6,306.1 108.0,308.0 108.4,307.3 108.7,306.5 109.1,307.7 109.5,307.4 109.9,306.7 110.3,306.6 110.7,307.2 111.1,308.5 111.5,308.5 111.9,308.5 112.3,309.0 112.7,309.4 113.0,307.9 113.4,309.2 113.8,309.0 114.2,309.0 114.6,309.5 115.0,310.0 115.4,310.0 115.8,309.5 116.2,310.2 116.6,311.9 117.0,310.2 117.3,310.0 117.7,311.3 118.1,311.7 118.5,311.7 118.9,310.9 119.3,312.4 119.7,311.4 120.1,311.4 120.5,311.8 120.9,312.3 121.3,312.9 121.6,313.0 122.0,312.8 122.4,313.5 122.8,313.1 123.2,313.8 123.6,312.5 124.0,312.6 124.4,314.1 124.8,313.0 125.2,313.7 125.6,314.0 125.9,313.9 126.3,314.1 126.7,315.3 127.1,313.1 127.5,315.3 127.9,316.2 128.3,315.0 128.7,315.1 129.1,315.7 129.5,316.5 129.9,314.8 130.2,315.7 130.6,315.7 131.0,316.2 131.4,316.1 131.8,316.5 132.2,316.0 132.6,316.4 133.0,316.1 133.4,316.2 133.8,316.7 134.2,316.8 134.5,316.3 134.9,318.0 135.3,317.1 135.7,316.5 136.1,318.1 136.5,317.1 136.9,318.0 137.3,317.8 137.7,318.0 138.1,318.1 138.5,317.8 138.8,318.2 139.2,319.5 139.6,317.1 140.0,318.6 140.4,318.9 140.8,318.1 141.2,318.0 141.6,320.2 142.0,318.8 142.4,320.4 142.8,319.6 143.1,319.4 143.5,319.7 143.9,319.9 144.3,320.3 144.7,320.0 145.1,319.9 145.5,320.0 145.9,320.8 146.3,320.6 146.7,319.6 147.1,319.9 147.4,320.6 147.8,320.1 148.2,320.3 148.6,320.1 149.0,320.6 149.4,321.1 149.8,321.5 150.2,321.0 150.6,322.3 151.0,321.1 151.4,323.1 151.7,321.9 152.1,321.7 152.5,321.2 152.9,319.9 153.3,321.5 153.7,321.8 154.1,323.0 154.5,321.1 154.9,323.1 155.3,321.9 155.7,322.6 156.0,320.7 156.4,322.4 156.8,322.2 157.2,322.9 157.6,322.6 158.0,321.9 158.4,323.3 158.8,323.2 159.2,323.2 159.6,323.5 160.0,323.7 160.3,323.1 160.7,322.4 161.1,322.4 161.5,324.1 161.9,323.8 162.3,323.6 162.7,323.3 163.1,323.7 163.5,323.7 163.9,323.6 164.3,323.5 164.6,325.3 165.0,324.2 165.4,323.7 165.8,323.4 166.2,323.8 166.6,324.8 167.0,324.9 167.4,324.4 167.8,324.6 168.2,324.5 168.6,324.1 168.9,325.6 169.3,325.1 169.7,326.4 170.1,324.6 170.5,325.0 170.9,325.7 171.3,325.1 171.7,324.5 172.1,324.8 172.5,325.5 172.9,325.7 173.2,325.5 173.6,326.3 174.0,326.3 174.4,326.0 174.8,325.9 175.2,325.8 175.6,326.3 176.0,326.6 176.4,326.2 176.8,326.5 177.2,326.1 177.5,325.5 177.9,325.8 178.3,326.9 178.7,326.8 179.1,327.6 179.5,326.7 179.9,327.3 180.3,327.6 180.7,327.5 181.1,326.6 181.5,326.9 181.8,327.1 182.2,326.5 182.6,327.5 183.0,327.9 183.4,327.0 183.8,328.5 184.2,327.2 184.6,327.4 185.0,327.4 185.4,327.2 185.8,327.9 186.1,327.7 186.5,328.8 186.9,328.2 187.3,328.2 187.7,327.8 188.1,327.1 188.5,328.0 188.9,327.6 189.3,328.7 189.7,328.2 190.1,329.3 190.4,328.8 190.8,328.9 191.2,328.6 191.6,328.6 192.0,328.9 192.4,329.1 192.8,328.2 193.2,329.0 193.6,330.3 194.0,328.7 194.4,328.7 194.7,328.4 195.1,328.0 195.5,329.7 195.9,329.0 196.3,329.2 196.7,330.2 197.1,330.6 197.5,328.6 197.9,329.8 198.3,329.6 198.7,329.5 199.0,329.6 199.4,329.3 199.8,330.4 200.2,329.8 200.6,329.7 201.0,330.3 201.4,330.1 201.8,329.9 202.2,329.8 202.6,330.7 203.0,330.0 203.3,329.7 203.7,329.2 204.1,329.6 204.5,329.2 204.9,329.9 205.3,330.0 205.7,328.7 206.1,329.9 206.5,330.3 206.9,330.1 207.3,329.4 207.6,330.8 208.0,329.6 208.4,329.3 208.8,329.4 209.2,330.1 209.6,330.7 210.0,330.9 210.4,330.3 210.8,329.5 211.2,329.8" fill="none" stroke="#6e6ef0" stroke-width="1.0" stroke-opacity="0.85" stroke-linejoin="round"/>
<polyline points="44.4,331.3 44.9,326.4 45.4,321.7 45.8,317.2 46.3,313.0 46.8,309.0 47.3,305.2 47.8,301.6 48.3,298.2 48.7,294.9 49.2,291.8 49.7,288.9 50.2,286.2 50.7,283.5 51.2,281.1 51.6,278.7 52.1,276.5 52.6,274.4 53.1,272.3 53.6,270.4 54.1,268.6 54.5,266.9 55.0,265.3 55.5,263.8 56.0,262.3 56.5,260.9 57.0,259.6 57.4,258.4 57.9,257.2 58.4,256.1 58.9,255.0 59.4,254.0 59.9,253.0 60.3,252.1 60.8,251.3 61.3,250.5 61.8,249.7 62.3,249.0 62.8,248.3 63.2,247.6 63.7,247.0 64.2,246.4 64.7,245.8 65.2,245.3 65.7,244.8 66.1,244.3 66.6,243.9 67.1,243.4 67.6,243.0 68.1,242.6 68.6,242.3 69.0,241.9 69.5,241.6 70.0,241.3 70.5,241.0 71.0,240.7 71.5,240.4 71.9,240.2 72.4,240.0 72.9,239.7 73.4,239.5 73.9,239.3 74.3,239.1 74.8,238.9 75.3,238.8 75.8,238.6 76.3,238.4 76.8,238.3 77.2,238.1 77.7,238.0 78.2,237.9 78.7,237.8 79.2,237.6 79.7,237.5 80.1,237.4 80.6,237.3 81.1,237.2 81.6,237.2 82.1,237.1 82.6,237.0 82.6,237.0 83.9,238.8 85.2,240.6 86.5,242.4 87.8,244.1 89.1,245.8 90.4,247.5 91.7,249.1 93.0,250.7 94.3,252.3 95.6,253.8 96.9,255.3 98.2,256.8 99.5,258.2 100.8,259.6 102.1,261.0 103.4,262.4 104.7,263.7 106.0,265.0 107.3,266.3 108.6,267.5 109.9,268.8 111.2,270.0 112.5,271.1 113.8,272.3 115.1,273.4 116.4,274.5 117.7,275.6 119.0,276.7 120.3,277.8 121.6,278.8 122.9,279.8 124.3,280.8 125.6,281.7 126.9,282.7 128.2,283.6 129.5,284.5 130.8,285.4 132.1,286.3 133.4,287.2 134.7,288.0 136.0,288.8 137.3,289.6 138.6,290.4 139.9,291.2 141.2,292.0 142.5,292.7 143.8,293.4 145.1,294.2 146.4,294.9 147.7,295.5 149.0,296.2 150.3,296.9 151.6,297.5 152.9,298.2 154.2,298.8 155.5,299.4 156.8,300.0 158.1,300.6 159.4,301.2 160.7,301.7 162.0,302.3 163.3,302.8 164.6,303.4 165.9,303.9 167.2,304.4 168.5,304.9 169.9,305.4 171.2,305.9 172.5,306.3 173.8,306.8 175.1,307.2 176.4,307.7 177.7,308.1 179.0,308.6 180.3,309.0 181.6,309.4 182.9,309.8 184.2,310.2 185.5,310.6 186.8,310.9 188.1,311.3 189.4,311.7 190.7,312.0 192.0,312.4 193.3,312.7 194.6,313.1 195.9,313.4 197.2,313.7 198.5,314.0 199.8,314.3 201.1,314.6 202.4,314.9 203.7,315.2 205.0,315.5 206.3,315.8 207.6,316.1 208.9,316.3 210.2,316.6 211.5,316.9" fill="none" stroke="#f0404c" stroke-width="1.0" stroke-opacity="1.0" stroke-linejoin="round"/>
<polyline points="44.4,331.3 44.9,328.5 45.4,325.8 45.8,323.2 46.3,320.6 46.8,318.2 47.3,315.8 47.8,313.5 48.3,311.3 48.7,309.2 49.2,307.2 49.7,305.2 50.2,303.2 50.7,301.4 51.2,299.6 51.6,297.9 52.1,296.2 52.6,294.6 53.1,293.0 53.6,291.5 54.1,290.1 54.5,288.7 55.0,287.3 55.5,286.0 56.0,284.8 56.5,283.6 57.0,282.4 57.4,281.2 57.9,280.2 58.4,279.1 58.9,278.1 59.4,277.1 59.9,276.1 60.3,275.2 60.8,274.3 61.3,273.5 61.8,272.6 62.3,271.8 62.8,271.1 63.2,270.3 63.7,269.6 64.2,268.9 64.7,268.2 65.2,267.6 65.7,266.9 66.1,266.3 66.6,265.8 67.1,265.2 67.6,264.6 68.1,264.1 68.6,263.6 69.0,263.1 69.5,262.6 70.0,262.2 70.5,261.7 71.0,261.3 71.5,260.9 71.9,260.5 72.4,260.1 72.9,259.8 73.4,259.4 73.9,259.0 74.3,258.7 74.8,258.4 75.3,258.1 75.8,257.8 76.3,257.5 76.8,257.2 77.2,256.9 77.7,256.7 78.2,256.4 78.7,256.2 79.2,255.9 79.7,255.7 80.1,255.5 80.6,255.3 81.1,255.1 81.6,254.9 82.1,254.7 82.6,254.5 82.6,254.5 83.9,256.1 85.2,257.7 86.5,259.2 87.8,260.7 89.1,262.2 90.4,263.6 91.7,265.0 93.0,266.4 94.3,267.7 95.6,269.0 96.9,270.3 98.2,271.6 99.5,272.8 100.8,274.0 102.1,275.2 103.4,276.3 104.7,277.4 106.0,278.5 107.3,279.6 108.6,280.7 109.9,281.7 111.2,282.7 112.5,283.7 113.8,284.7 115.1,285.6 116.4,286.5 117.7,287.4 119.0,288.3 120.3,289.2 121.6,290.0 122.9,290.9 124.3,291.7 125.6,292.5 126.9,293.2 128.2,294.0 129.5,294.7 130.8,295.5 132.1,296.2 133.4,296.9 134.7,297.5 136.0,298.2 137.3,298.9 138.6,299.5 139.9,300.1 141.2,300.7 142.5,301.3 143.8,301.9 145.1,302.5 146.4,303.0 147.7,303.6 149.0,304.1 150.3,304.6 151.6,305.1 152.9,305.6 154.2,306.1 155.5,306.6 156.8,307.1 158.1,307.5 159.4,308.0 160.7,308.4 162.0,308.8 163.3,309.3 164.6,309.7 165.9,310.1 167.2,310.5 168.5,310.9 169.9,311.2 171.2,311.6 172.5,312.0 173.8,312.3 175.1,312.7 176.4,313.0 177.7,313.3 179.0,313.6 180.3,314.0 181.6,314.3 182.9,314.6 184.2,314.9 185.5,315.2 186.8,315.4 188.1,315.7 189.4,316.0 190.7,316.2 192.0,316.5 193.3,316.8 194.6,317.0 195.9,317.2 197.2,317.5 198.5,317.7 199.8,317.9 201.1,318.2 202.4,318.4 203.7,318.6 205.0,318.8 206.3,319.0 207.6,319.2 208.9,319.4 210.2,319.6 211.5,319.8" fill="none" stroke="#f0404c" stroke-width="1.0" stroke-opacity="1.0" stroke-linejoin="round"/>
<polyline points="44.4,331.3 44.9,329.6 45.4,327.9 45.8,326.3 46.3,324.7 46.8,323.1 47.3,321.6 47.8,320.1 48.3,318.6 48.7,317.2 49.2,315.8 49.7,314.4 50.2,313.1 50.7,311.8 51.2,310.5 51.6,309.3 52.1,308.1 52.6,306.9 53.1,305.7 53.6,304.6 54.1,303.5 54.5,302.4 55.0,301.3 55.5,300.3 56.0,299.3 56.5,298.3 57.0,297.4 57.4,296.4 57.9,295.5 58.4,294.6 58.9,293.8 59.4,292.9 59.9,292.1 60.3,291.3 60.8,290.5 61.3,289.7 61.8,288.9 62.3,288.2 62.8,287.5 63.2,286.8 63.7,286.1 64.2,285.4 64.7,284.7 65.2,284.1 65.7,283.5 66.1,282.9 66.6,282.3 67.1,281.7 67.6,281.1 68.1,280.6 68.6,280.0 69.0,279.5 69.5,279.0 70.0,278.5 70.5,278.0 71.0,277.5 71.5,277.0 71.9,276.5 72.4,276.1 72.9,275.6 73.4,275.2 73.9,274.8 74.3,274.4 74.8,274.0 75.3,273.6 75.8,273.2 76.3,272.8 76.8,272.5 77.2,272.1 77.7,271.8 78.2,271.4 78.7,271.1 79.2,270.8 79.7,270.5 80.1,270.1 80.6,269.8 81.1,269.5 81.6,269.3 82.1,269.0 82.6,268.7 82.6,268.7 83.9,269.9 85.2,271.1 86.5,272.2 87.8,273.3 89.1,274.4 90.4,275.5 91.7,276.6 93.0,277.6 94.3,278.7 95.6,279.7 96.9,280.6 98.2,281.6 99.5,282.6 100.8,283.5 102.1,284.4 103.4,285.3 104.7,286.2 106.0,287.1 107.3,287.9 108.6,288.8 109.9,289.6 111.2,290.4 112.5,291.2 113.8,291.9 115.1,292.7 116.4,293.4 117.7,294.2 119.0,294.9 120.3,295.6 121.6,296.3 122.9,297.0 124.3,297.6 125.6,298.3 126.9,298.9 128.2,299.6 129.5,300.2 130.8,300.8 132.1,301.4 133.4,302.0 134.7,302.5 136.0,303.1 137.3,303.7 138.6,304.2 139.9,304.7 141.2,305.3 142.5,305.8 143.8,306.3 145.1,306.8 146.4,307.2 147.7,307.7 149.0,308.2 150.3,308.7 151.6,309.1 152.9,309.5 154.2,310.0 155.5,310.4 156.8,310.8 158.1,311.2 159.4,311.6 160.7,312.0 162.0,312.4 163.3,312.8 164.6,313.2 165.9,313.5 167.2,313.9 168.5,314.2 169.9,314.6 171.2,314.9 172.5,315.3 173.8,315.6 175.1,315.9 176.4,316.2 177.7,316.5 179.0,316.8 180.3,317.1 181.6,317.4 182.9,317.7 184.2,318.0 185.5,318.3 186.8,318.5 188.1,318.8 189.4,319.1 190.7,319.3 192.0,319.6 193.3,319.8 194.6,320.1 195.9,320.3 197.2,320.5 198.5,320.8 199.8,321.0 201.1,321.2 202.4,321.4 203.7,321.6 205.0,321.9 206.3,322.1 207.6,322.3 208.9,322.5 210.2,322.7 211.5,322.8" fill="none" stroke="#f0404c" stroke-width="1.0" stroke-opacity="1.0" stroke-linejoin="round"/>
<polyline points="44.4,331.3 44.9,330.5 45.4,329.7 45.8,328.8 46.3,328.0 46.8,327.2 47.3,326.4 47.8,325.7 48.3,324.9 48.7,324.1 49.2,323.4 49.7,322.7 50.2,322.0 50.7,321.3 51.2,320.6 51.6,319.9 52.1,319.2 52.6,318.5 53.1,317.9 53.6,317.2 54.1,316.6 54.5,316.0 55.0,315.3 55.5,314.7 56.0,314.1 56.5,313.6 57.0,313.0 57.4,312.4 57.9,311.8 58.4,311.3 58.9,310.7 59.4,310.2 59.9,309.7 60.3,309.1 60.8,308.6 61.3,308.1 61.8,307.6 62.3,307.1 62.8,306.7 63.2,306.2 63.7,305.7 64.2,305.2 64.7,304.8 65.2,304.3 65.7,303.9 66.1,303.5 66.6,303.0 67.1,302.6 67.6,302.2 68.1,301.8 68.6,301.4 69.0,301.0 69.5,300.6 70.0,300.2 70.5,299.8 71.0,299.5 71.5,299.1 71.9,298.7 72.4,298.4 72.9,298.0 73.4,297.7 73.9,297.3 74.3,297.0 74.8,296.7 75.3,296.3 75.8,296.0 76.3,295.7 76.8,295.4 77.2,295.1 77.7,294.8 78.2,294.5 78.7,294.2 79.2,293.9 79.7,293.6 80.1,293.3 80.6,293.1 81.1,292.8 81.6,292.5 82.1,292.3 82.6,292.0 82.6,292.0 83.9,292.9 85.2,293.8 86.5,294.7 87.8,295.6 89.1,296.4 90.4,297.2 91.7,298.0 93.0,298.8 94.3,299.5 95.6,300.3 96.9,301.0 98.2,301.7 99.5,302.4 100.8,303.1 102.1,303.7 103.4,304.3 104.7,305.0 106.0,305.6 107.3,306.2 108.6,306.7 109.9,307.3 111.2,307.8 112.5,308.4 113.8,308.9 115.1,309.4 116.4,309.9 117.7,310.4 119.0,310.8 120.3,311.3 121.6,311.8 122.9,312.2 124.3,312.6 125.6,313.0 126.9,313.4 128.2,313.8 129.5,314.2 130.8,314.6 132.1,315.0 133.4,315.3 134.7,315.7 136.0,316.0 137.3,316.3 138.6,316.6 139.9,317.0 141.2,317.3 142.5,317.6 143.8,317.9 145.1,318.1 146.4,318.4 147.7,318.7 149.0,319.0 150.3,319.2 151.6,319.5 152.9,319.7 154.2,320.0 155.5,320.2 156.8,320.4 158.1,320.6 159.4,320.8 160.7,321.1 162.0,321.3 163.3,321.5 164.6,321.7 165.9,321.9 167.2,322.0 168.5,322.2 169.9,322.4 171.2,322.6 172.5,322.7 173.8,322.9 175.1,323.1 176.4,323.2 177.7,323.4 179.0,323.5 180.3,323.7 181.6,323.8 182.9,323.9 184.2,324.1 185.5,324.2 186.8,324.3 188.1,324.5 189.4,324.6 190.7,324.7 192.0,324.8 193.3,324.9 194.6,325.0 195.9,325.1 197.2,325.2 198.5,325.3 199.8,325.4 201.1,325.5 202.4,325.6 203.7,325.7 205.0,325.8 206.3,325.9 207.6,326.0 208.9,326.1 210.2,326.2 211.5,326.2" fill="none" stroke="#f0404c" stroke-width="1.0" stroke-opacity="1.0" stroke-linejoin="round"/>
</g>
<line x1="82.56" y1="227.60" x2="82.56" y2="343.30" stroke="#e8262a" stroke-width="1" stroke-dasharray="1.3,1.0"/>
<text stroke="#1a1a1a" stroke-width="0.2" x="217.90" y="314.50" font-size="8.8" text-anchor="start" font-weight="normal" textLength="30.3" lengthAdjust="spacingAndGlyphs">345 nM</text>
<line x1="224.7" y1="319.5" x2="224.7" y2="330.5" stroke="#000" stroke-width="2.9"/>
<polygon points="221.90,319.90 224.70,315.50 227.50,319.90" fill="#000"/>
<text stroke="#1a1a1a" stroke-width="0.2" x="217.90" y="340.80" font-size="8.8" text-anchor="start" font-weight="normal" textLength="25.3" lengthAdjust="spacingAndGlyphs">43 nM</text>
<rect x="336.70" y="103.95" width="167.80" height="22.45" fill="#f8f8f8"/>
<rect x="336.70" y="59.05" width="167.80" height="22.45" fill="#f8f8f8"/>
<rect x="336.70" y="21.60" width="167.80" height="15.00" fill="#f8f8f8"/>
<line x1="378.40" y1="21.60" x2="378.40" y2="138.30" stroke="#eeeeee" stroke-width="0.6"/>
<line x1="420.10" y1="21.60" x2="420.10" y2="138.30" stroke="#eeeeee" stroke-width="0.6"/>
<line x1="461.80" y1="21.60" x2="461.80" y2="138.30" stroke="#eeeeee" stroke-width="0.6"/>
<path d="M345.0 138.3V134.8M353.4 138.3V134.8M361.7 138.3V134.8M370.1 138.3V134.8M378.4 138.3V134.8M386.7 138.3V134.8M395.1 138.3V134.8M403.4 138.3V134.8M411.8 138.3V134.8M420.1 138.3V134.8M428.4 138.3V134.8M436.8 138.3V134.8M445.1 138.3V134.8M453.5 138.3V134.8M461.8 138.3V134.8M470.1 138.3V134.8M478.5 138.3V134.8M486.8 138.3V134.8M495.2 138.3V134.8" stroke="#dddddd" stroke-width="0.6" fill="none"/>
<path d="M336.7 135.4H339.7M336.7 130.9H339.7M336.7 126.4H339.7M336.7 121.9H339.7M336.7 117.4H339.7M336.7 112.9H339.7M336.7 108.4H339.7M336.7 103.9H339.7M336.7 99.5H339.7M336.7 95.0H339.7M336.7 90.5H339.7M336.7 86.0H339.7M336.7 81.5H339.7M336.7 77.0H339.7M336.7 72.5H339.7M336.7 68.0H339.7M336.7 63.5H339.7M336.7 59.1H339.7M336.7 54.6H339.7M336.7 50.1H339.7M336.7 45.6H339.7M336.7 41.1H339.7M336.7 36.6H339.7M336.7 32.1H339.7M336.7 27.6H339.7M336.7 23.1H339.7" stroke="#dddddd" stroke-width="0.6" fill="none"/>
<line x1="504.50" y1="21.60" x2="504.50" y2="138.30" stroke="#e2e2e2" stroke-width="1"/>
<line x1="336.70" y1="21.60" x2="336.70" y2="138.30" stroke="#d0d0d0" stroke-width="1"/>
<line x1="336.20" y1="21.60" x2="505.00" y2="21.60" stroke="#c4c4c4" stroke-width="1.7"/>
<line x1="336.20" y1="138.30" x2="505.00" y2="138.30" stroke="#c4c4c4" stroke-width="1.4"/>
<line x1="334.20" y1="126.40" x2="336.70" y2="126.40" stroke="#a8a8a8" stroke-width="0.8"/>
<text stroke="#1a1a1a" stroke-width="0.2" x="333.70" y="129.40" font-size="8.6" text-anchor="end" font-weight="normal"></text>
<line x1="334.20" y1="103.95" x2="336.70" y2="103.95" stroke="#a8a8a8" stroke-width="0.8"/>
<text stroke="#1a1a1a" stroke-width="0.2" x="333.70" y="106.95" font-size="8.6" text-anchor="end" font-weight="normal">0.05</text>
<line x1="334.20" y1="81.50" x2="336.70" y2="81.50" stroke="#a8a8a8" stroke-width="0.8"/>
<text stroke="#1a1a1a" stroke-width="0.2" x="333.70" y="84.50" font-size="8.6" text-anchor="end" font-weight="normal">0.10</text>
<line x1="334.20" y1="59.05" x2="336.70" y2="59.05" stroke="#a8a8a8" stroke-width="0.8"/>
<text stroke="#1a1a1a" stroke-width="0.2" x="333.70" y="62.05" font-size="8.6" text-anchor="end" font-weight="normal">0.15</text>
<line x1="334.20" y1="36.60" x2="336.70" y2="36.60" stroke="#a8a8a8" stroke-width="0.8"/>
<text stroke="#1a1a1a" stroke-width="0.2" x="333.70" y="39.60" font-size="8.6" text-anchor="end" font-weight="normal">0.20</text>
<line x1="336.70" y1="138.30" x2="336.70" y2="140.80" stroke="#a8a8a8" stroke-width="0.8"/>
<text stroke="#1a1a1a" stroke-width="0.2" x="336.70" y="151.40" font-size="8.6" text-anchor="middle" font-weight="normal">0</text>
<line x1="378.40" y1="138.30" x2="378.40" y2="140.80" stroke="#a8a8a8" stroke-width="0.8"/>
<text stroke="#1a1a1a" stroke-width="0.2" x="378.40" y="151.40" font-size="8.6" text-anchor="middle" font-weight="normal">500</text>
<line x1="420.10" y1="138.30" x2="420.10" y2="140.80" stroke="#a8a8a8" stroke-width="0.8"/>
<text stroke="#1a1a1a" stroke-width="0.2" x="420.10" y="151.40" font-size="8.6" text-anchor="middle" font-weight="normal">1000</text>
<line x1="461.80" y1="138.30" x2="461.80" y2="140.80" stroke="#a8a8a8" stroke-width="0.8"/>
<text stroke="#1a1a1a" stroke-width="0.2" x="461.80" y="151.40" font-size="8.6" text-anchor="middle" font-weight="normal">1500</text>
<line x1="503.50" y1="138.30" x2="503.50" y2="140.80" stroke="#a8a8a8" stroke-width="0.8"/>
<text stroke="#1a1a1a" stroke-width="0.2" x="503.50" y="151.40" font-size="8.6" text-anchor="middle" font-weight="normal">2000</text>
<text stroke="#1a1a1a" stroke-width="0.2" x="337.60" y="15.80" font-size="9.2" text-anchor="start" font-weight="normal" textLength="20.4" lengthAdjust="spacingAndGlyphs">3B10</text>
<text stroke="#1a1a1a" stroke-width="0.2" x="297.60" y="16.30" font-size="12" text-anchor="start" font-weight="bold">C</text>
<text stroke="#1a1a1a" stroke-width="0.2" transform="translate(308.80,78.50) rotate(-90)" x="0" y="0" font-size="8.8" text-anchor="middle" textLength="71" lengthAdjust="spacingAndGlyphs">spectral shift [nm]</text>
<text stroke="#1a1a1a" stroke-width="0.2" x="421.50" y="164.80" font-size="8.8" text-anchor="middle" font-weight="normal" textLength="30" lengthAdjust="spacingAndGlyphs">Time [s]</text>
<g clip-path="url(#clipC)">
<polyline points="337.4,126.6 337.8,125.7 338.2,123.7 338.7,123.5 339.1,122.6 339.5,121.0 339.9,120.2 340.3,118.3 340.7,117.0 341.2,116.3 341.6,116.0 342.0,114.9 342.4,113.1 342.8,112.8 343.3,111.0 343.7,110.9 344.1,109.4 344.5,107.9 344.9,107.5 345.4,105.7 345.8,104.7 346.2,103.4 346.6,103.3 347.0,102.2 347.4,101.3 347.9,100.2 348.3,100.2 348.7,98.4 349.1,97.3 349.5,97.5 350.0,96.7 350.4,95.3 350.8,93.4 351.2,93.1 351.6,92.9 352.1,91.8 352.5,91.8 352.9,89.5 353.3,89.8 353.7,88.3 354.1,88.6 354.6,87.1 355.0,86.9 355.4,85.4 355.8,84.3 356.2,83.7 356.7,83.3 357.1,82.4 357.5,82.9 357.9,82.3 358.3,81.1 358.7,79.9 359.2,79.7 359.6,78.9 360.0,79.4 360.4,78.2 360.8,77.7 361.3,76.8 361.7,75.4 362.1,75.5 362.5,74.8 362.9,75.0 363.4,74.4 363.8,73.4 364.2,73.1 364.6,73.6 365.0,71.8 365.4,71.3 365.9,71.2 366.3,70.4 366.7,70.1 367.1,70.1 367.5,70.2 368.0,67.9 368.4,68.3 368.8,67.9 369.2,67.3 369.6,66.8 370.1,66.3 370.5,66.5 370.9,65.3 371.3,65.0 371.7,64.6 372.1,64.2 372.6,63.6 373.0,63.7 373.4,62.8 373.8,62.4 374.2,61.9 374.7,61.0 375.1,60.6 375.5,60.1 375.9,60.3 376.3,59.4 376.7,58.8 377.2,59.0 377.6,58.8 378.0,57.2 378.4,58.5 378.8,57.3 379.3,56.8 379.7,57.0 380.1,56.1 380.5,55.4 380.9,56.4 381.4,54.4 381.8,54.5 382.2,54.5 382.6,53.2 383.0,53.3 383.4,53.2 383.9,53.8 384.3,51.8 384.7,51.9 385.1,51.9 385.5,51.2 386.0,50.2 386.4,50.7 386.8,50.2 387.2,50.0 387.6,50.0 388.0,49.6 388.5,49.0 388.9,48.6 389.3,47.5 389.7,47.7 390.1,47.5 390.6,46.8 391.0,46.8 391.4,46.0 391.8,46.8 392.2,46.8 392.7,45.2 393.1,45.2 393.5,44.6 393.9,45.0 394.3,44.3 394.7,43.8 395.2,43.3 395.6,43.1 396.0,42.2 396.4,42.8 396.8,41.7 397.3,42.1 397.7,41.5 398.1,41.7 398.5,40.8 398.9,41.0 399.4,39.8 399.8,40.2 400.2,39.5 400.6,39.4 401.0,39.0 401.4,39.2 401.9,37.4 402.3,38.3 402.7,37.1 403.1,38.1 403.5,36.2 404.0,36.4 404.4,35.8 404.8,37.2 405.2,35.4 405.6,35.8 406.0,35.2 406.5,34.3 406.9,34.8 407.3,35.0 407.7,34.3 408.1,34.6 408.6,33.7 409.0,33.6 409.4,33.1 409.8,33.2 410.2,33.8 410.7,32.7 411.1,32.4 411.5,31.7 411.9,31.4 412.3,32.3 412.7,30.7 413.2,30.6 413.6,30.8 414.0,30.4 414.4,31.3 414.8,28.9 415.3,30.1 415.7,30.0 416.1,28.9 416.5,28.9 416.9,29.2 417.4,29.6 417.8,28.1 418.2,27.5 418.6,28.6 419.0,28.7 419.4,27.5 419.9,26.4 420.3,28.0 420.7,27.0 420.7,27.7 421.1,28.3 421.5,29.4 422.0,30.5 422.4,32.6 422.8,33.6 423.2,32.7 423.7,33.9 424.1,35.8 424.5,35.0 424.9,34.8 425.4,35.8 425.8,36.0 426.2,36.2 426.6,36.2 427.1,36.4 427.5,36.5 427.9,37.1 428.3,36.6 428.7,37.0 429.2,37.2 429.6,38.0 430.0,37.7 430.4,37.6 430.9,38.0 431.3,38.1 431.7,38.5 432.1,38.3 432.6,39.1 433.0,39.0 433.4,38.4 433.8,38.3 434.3,39.1 434.7,39.0 435.1,38.8 435.5,38.2 436.0,38.1 436.4,39.3 436.8,39.6 437.2,39.7 437.6,38.8 438.1,40.0 438.5,39.3 438.9,39.9 439.3,40.0 439.8,39.4 440.2,39.6 440.6,39.0 441.0,39.6 441.5,39.3 441.9,40.5 442.3,40.4 442.7,40.9 443.2,40.7 443.6,40.3 444.0,40.8 444.4,40.5 444.8,41.1 445.3,41.0 445.7,40.4 446.1,41.0 446.5,41.1 447.0,41.0 447.4,41.6 447.8,42.1 448.2,41.1 448.7,41.2 449.1,40.3 449.5,41.4 449.9,41.4 450.4,40.5 450.8,41.8 451.2,42.0 451.6,41.4 452.0,41.7 452.5,41.4 452.9,42.3 453.3,41.2 453.7,41.9 454.2,43.1 454.6,42.2 455.0,42.4 455.4,42.2 455.9,41.7 456.3,42.3 456.7,42.6 457.1,41.9 457.6,42.6 458.0,43.1 458.4,43.1 458.8,41.8 459.2,42.1 459.7,41.8 460.1,43.2 460.5,43.0 460.9,43.1 461.4,42.4 461.8,42.3 462.2,42.9 462.6,43.0 463.1,42.5 463.5,43.1 463.9,43.4 464.3,43.2 464.8,42.6 465.2,42.1 465.6,43.1 466.0,43.3 466.5,43.1 466.9,43.1 467.3,43.0 467.7,43.7 468.1,43.4 468.6,43.5 469.0,43.0 469.4,43.2 469.8,43.6 470.3,43.1 470.7,43.0 471.1,43.5 471.5,44.3 472.0,43.8 472.4,44.5 472.8,43.7 473.2,43.7 473.7,43.2 474.1,43.6 474.5,44.7 474.9,44.1 475.3,44.4 475.8,44.4 476.2,44.1 476.6,44.0 477.0,44.2 477.5,44.5 477.9,44.4 478.3,44.5 478.7,44.3 479.2,43.9 479.6,44.2 480.0,43.9 480.4,44.9 480.9,43.4 481.3,44.3 481.7,45.7 482.1,44.3 482.5,43.9 483.0,44.5 483.4,45.2 483.8,44.5 484.2,44.9 484.7,44.7 485.1,44.5 485.5,46.3 485.9,44.8 486.4,44.5 486.8,44.5 487.2,45.0 487.6,45.0 488.1,45.2 488.5,44.9 488.9,44.2 489.3,45.2 489.7,44.8 490.2,44.8 490.6,44.2 491.0,44.7 491.4,44.6 491.9,45.0 492.3,44.3 492.7,45.1 493.1,45.1 493.6,44.5 494.0,44.8 494.4,44.7 494.8,45.6 495.3,43.9 495.7,45.0 496.1,44.3 496.5,45.0 497.0,45.6 497.4,44.9 497.8,45.3 498.2,44.8 498.6,46.2 499.1,45.7 499.5,45.8 499.9,44.6 500.3,44.7 500.8,45.8 501.2,45.2 501.6,45.2 502.0,45.5 502.5,44.7 502.9,45.7 503.3,45.3 503.7,45.5 504.2,45.0 504.6,45.6 505.0,44.9" fill="none" stroke="#6e6ef0" stroke-width="1.0" stroke-opacity="0.85" stroke-linejoin="round"/>
<polyline points="337.4,127.5 337.8,126.4 338.2,125.1 338.7,123.8 339.1,122.7 339.5,119.9 339.9,120.6 340.3,118.9 340.7,118.0 341.2,116.8 341.6,115.2 342.0,114.5 342.4,114.1 342.8,113.4 343.3,111.4 343.7,110.3 344.1,110.4 344.5,108.3 344.9,108.8 345.4,106.8 345.8,105.4 346.2,105.4 346.6,104.8 347.0,102.3 347.4,102.9 347.9,101.1 348.3,101.1 348.7,99.3 349.1,97.8 349.5,98.0 350.0,97.4 350.4,97.1 350.8,96.1 351.2,94.8 351.6,93.5 352.1,92.6 352.5,91.9 352.9,90.8 353.3,90.4 353.7,88.5 354.1,89.1 354.6,88.3 355.0,88.8 355.4,87.2 355.8,85.9 356.2,85.7 356.7,84.1 357.1,83.8 357.5,82.5 357.9,83.5 358.3,82.5 358.7,81.0 359.2,80.9 359.6,80.9 360.0,80.1 360.4,79.4 360.8,78.3 361.3,77.8 361.7,77.7 362.1,77.6 362.5,76.2 362.9,75.5 363.4,76.1 363.8,74.6 364.2,75.1 364.6,74.1 365.0,74.0 365.4,73.9 365.9,72.9 366.3,72.4 366.7,71.1 367.1,70.7 367.5,70.9 368.0,70.8 368.4,70.3 368.8,70.3 369.2,68.8 369.6,68.3 370.1,68.2 370.5,67.2 370.9,66.7 371.3,65.8 371.7,66.3 372.1,64.8 372.6,65.2 373.0,63.7 373.4,64.5 373.8,63.0 374.2,63.5 374.7,61.9 375.1,62.0 375.5,62.4 375.9,60.9 376.3,61.0 376.7,60.3 377.2,58.9 377.6,59.8 378.0,59.4 378.4,58.3 378.8,58.7 379.3,57.6 379.7,57.1 380.1,57.2 380.5,56.5 380.9,57.6 381.4,55.3 381.8,56.0 382.2,55.8 382.6,53.9 383.0,53.7 383.4,54.4 383.9,53.5 384.3,53.6 384.7,53.6 385.1,52.5 385.5,51.8 386.0,50.7 386.4,51.8 386.8,50.9 387.2,51.2 387.6,50.8 388.0,49.7 388.5,50.9 388.9,50.2 389.3,49.8 389.7,48.4 390.1,48.5 390.6,48.1 391.0,47.8 391.4,47.1 391.8,47.6 392.2,47.2 392.7,46.9 393.1,46.2 393.5,46.7 393.9,45.9 394.3,44.1 394.7,44.8 395.2,44.8 395.6,45.0 396.0,44.1 396.4,43.8 396.8,43.3 397.3,43.6 397.7,42.8 398.1,42.4 398.5,42.0 398.9,42.3 399.4,41.5 399.8,40.6 400.2,41.5 400.6,40.5 401.0,40.8 401.4,40.5 401.9,40.6 402.3,40.3 402.7,39.2 403.1,39.1 403.5,38.2 404.0,39.5 404.4,38.6 404.8,38.8 405.2,37.6 405.6,36.5 406.0,38.0 406.5,37.0 406.9,36.8 407.3,36.5 407.7,36.5 408.1,36.2 408.6,34.9 409.0,36.0 409.4,34.9 409.8,34.7 410.2,35.6 410.7,34.9 411.1,34.1 411.5,33.1 411.9,33.9 412.3,33.8 412.7,33.3 413.2,32.5 413.6,32.5 414.0,32.0 414.4,32.5 414.8,32.6 415.3,32.5 415.7,31.4 416.1,31.7 416.5,31.7 416.9,30.9 417.4,30.9 417.8,31.8 418.2,30.7 418.6,30.8 419.0,30.0 419.4,30.1 419.9,29.0 420.3,29.7 420.7,30.1 420.7,30.5 421.1,31.6 421.5,32.9 422.0,34.0 422.4,35.0 422.8,36.4 423.2,37.8 423.7,37.9 424.1,39.3 424.5,38.6 424.9,38.5 425.4,39.1 425.8,38.9 426.2,39.3 426.6,40.7 427.1,40.2 427.5,40.5 427.9,41.1 428.3,41.2 428.7,40.5 429.2,41.5 429.6,41.1 430.0,41.0 430.4,41.3 430.9,40.5 431.3,40.9 431.7,41.3 432.1,41.8 432.6,41.4 433.0,41.6 433.4,42.2 433.8,42.6 434.3,42.3 434.7,42.7 435.1,41.9 435.5,42.0 436.0,42.4 436.4,42.2 436.8,42.2 437.2,43.4 437.6,42.5 438.1,42.2 438.5,43.0 438.9,43.8 439.3,43.0 439.8,43.6 440.2,42.8 440.6,42.9 441.0,42.9 441.5,43.2 441.9,44.3 442.3,42.8 442.7,44.3 443.2,43.0 443.6,43.5 444.0,44.1 444.4,44.0 444.8,43.9 445.3,43.0 445.7,44.1 446.1,43.5 446.5,45.3 447.0,44.0 447.4,44.2 447.8,43.6 448.2,44.0 448.7,43.7 449.1,44.8 449.5,44.3 449.9,44.7 450.4,44.2 450.8,44.3 451.2,45.3 451.6,44.2 452.0,43.8 452.5,45.0 452.9,44.2 453.3,44.6 453.7,45.3 454.2,44.5 454.6,45.4 455.0,44.7 455.4,45.8 455.9,45.8 456.3,44.9 456.7,45.1 457.1,44.8 457.6,45.4 458.0,45.9 458.4,44.6 458.8,45.8 459.2,44.7 459.7,45.0 460.1,44.6 460.5,46.6 460.9,45.6 461.4,45.7 461.8,45.3 462.2,46.2 462.6,44.7 463.1,45.8 463.5,46.9 463.9,45.6 464.3,45.9 464.8,46.2 465.2,45.5 465.6,46.0 466.0,46.5 466.5,46.1 466.9,46.3 467.3,45.9 467.7,46.3 468.1,46.2 468.6,47.0 469.0,46.6 469.4,46.2 469.8,45.1 470.3,46.7 470.7,46.8 471.1,46.0 471.5,45.5 472.0,45.9 472.4,47.0 472.8,46.0 473.2,46.4 473.7,46.8 474.1,47.3 474.5,46.7 474.9,46.7 475.3,46.5 475.8,47.6 476.2,47.4 476.6,46.8 477.0,46.2 477.5,46.5 477.9,47.3 478.3,46.6 478.7,47.5 479.2,47.2 479.6,47.2 480.0,47.4 480.4,47.4 480.9,46.7 481.3,47.0 481.7,48.4 482.1,46.7 482.5,47.1 483.0,47.8 483.4,47.3 483.8,47.0 484.2,46.7 484.7,47.7 485.1,48.0 485.5,48.2 485.9,47.5 486.4,48.0 486.8,47.0 487.2,47.7 487.6,47.3 488.1,47.7 488.5,48.0 488.9,48.2 489.3,47.2 489.7,48.3 490.2,47.5 490.6,47.2 491.0,47.7 491.4,47.0 491.9,47.8 492.3,48.0 492.7,47.7 493.1,48.1 493.6,47.7 494.0,47.9 494.4,47.2 494.8,47.9 495.3,47.5 495.7,47.7 496.1,47.9 496.5,48.1 497.0,47.2 497.4,47.2 497.8,47.9 498.2,48.3 498.6,48.2 499.1,48.5 499.5,48.7 499.9,48.3 500.3,48.0 500.8,47.5 501.2,47.6 501.6,47.8 502.0,48.2 502.5,48.2 502.9,48.1 503.3,48.0 503.7,48.4 504.2,48.2 504.6,48.2 505.0,48.3" fill="none" stroke="#6e6ef0" stroke-width="1.0" stroke-opacity="0.85" stroke-linejoin="round"/>
<polyline points="337.4,126.7 337.8,125.6 338.2,125.6 338.7,124.7 339.1,123.5 339.5,122.6 339.9,123.2 340.3,120.8 340.7,120.3 341.2,119.7 341.6,118.2 342.0,118.1 342.4,118.2 342.8,116.9 343.3,116.0 343.7,115.2 344.1,114.3 344.5,113.9 344.9,112.6 345.4,111.8 345.8,111.3 346.2,111.0 346.6,110.0 347.0,109.4 347.4,107.4 347.9,108.3 348.3,108.2 348.7,107.0 349.1,105.5 349.5,104.5 350.0,104.4 350.4,103.1 350.8,103.3 351.2,102.0 351.6,102.1 352.1,101.7 352.5,99.4 352.9,99.9 353.3,98.8 353.7,97.8 354.1,97.6 354.6,97.2 355.0,97.2 355.4,95.3 355.8,96.0 356.2,95.9 356.7,94.7 357.1,94.1 357.5,93.2 357.9,92.1 358.3,92.4 358.7,91.8 359.2,91.4 359.6,91.8 360.0,90.3 360.4,89.7 360.8,89.7 361.3,87.8 361.7,87.3 362.1,87.2 362.5,86.6 362.9,86.8 363.4,85.8 363.8,86.4 364.2,85.8 364.6,84.9 365.0,83.9 365.4,84.0 365.9,83.6 366.3,82.3 366.7,82.6 367.1,82.3 367.5,81.7 368.0,82.0 368.4,81.4 368.8,80.0 369.2,80.1 369.6,79.3 370.1,79.6 370.5,78.5 370.9,79.1 371.3,78.4 371.7,78.4 372.1,77.5 372.6,76.5 373.0,77.7 373.4,76.4 373.8,76.8 374.2,76.0 374.7,75.7 375.1,75.9 375.5,74.8 375.9,75.0 376.3,73.2 376.7,74.0 377.2,73.0 377.6,72.7 378.0,72.4 378.4,72.2 378.8,72.5 379.3,70.3 379.7,70.9 380.1,70.2 380.5,70.7 380.9,69.6 381.4,69.6 381.8,68.8 382.2,69.0 382.6,68.8 383.0,67.8 383.4,67.7 383.9,66.6 384.3,67.1 384.7,67.1 385.1,66.1 385.5,66.6 386.0,64.7 386.4,64.5 386.8,64.4 387.2,64.6 387.6,64.6 388.0,64.2 388.5,63.9 388.9,64.0 389.3,63.1 389.7,62.5 390.1,62.2 390.6,63.6 391.0,61.1 391.4,61.9 391.8,62.4 392.2,61.6 392.7,60.7 393.1,60.8 393.5,61.0 393.9,60.9 394.3,59.5 394.7,60.1 395.2,59.5 395.6,59.7 396.0,59.6 396.4,58.4 396.8,57.6 397.3,58.3 397.7,58.7 398.1,57.9 398.5,57.4 398.9,58.2 399.4,56.2 399.8,56.9 400.2,55.9 400.6,56.0 401.0,55.7 401.4,56.2 401.9,54.7 402.3,54.7 402.7,53.9 403.1,54.7 403.5,54.0 404.0,54.2 404.4,53.2 404.8,53.3 405.2,53.7 405.6,52.9 406.0,53.1 406.5,52.8 406.9,52.1 407.3,51.3 407.7,52.3 408.1,51.7 408.6,51.9 409.0,50.2 409.4,50.1 409.8,49.7 410.2,50.1 410.7,50.8 411.1,50.4 411.5,49.9 411.9,49.8 412.3,49.9 412.7,49.1 413.2,49.3 413.6,49.0 414.0,47.6 414.4,48.3 414.8,49.0 415.3,48.0 415.7,47.9 416.1,47.5 416.5,47.4 416.9,48.0 417.4,47.1 417.8,46.6 418.2,45.4 418.6,46.5 419.0,45.6 419.4,45.5 419.9,46.7 420.3,46.5 420.7,45.0 420.7,46.4 421.1,47.2 421.5,47.6 422.0,49.4 422.4,49.2 422.8,50.3 423.2,51.0 423.7,51.9 424.1,53.5 424.5,52.9 424.9,53.3 425.4,53.6 425.8,54.3 426.2,54.2 426.6,54.9 427.1,54.3 427.5,54.1 427.9,54.6 428.3,55.0 428.7,54.6 429.2,55.3 429.6,56.1 430.0,55.0 430.4,55.4 430.9,56.1 431.3,55.1 431.7,55.1 432.1,55.0 432.6,55.8 433.0,55.9 433.4,55.7 433.8,55.8 434.3,56.5 434.7,56.4 435.1,55.3 435.5,56.1 436.0,56.2 436.4,56.6 436.8,56.2 437.2,56.0 437.6,56.2 438.1,55.6 438.5,56.5 438.9,56.3 439.3,56.9 439.8,56.2 440.2,56.6 440.6,56.4 441.0,56.4 441.5,57.4 441.9,56.8 442.3,57.4 442.7,56.6 443.2,57.3 443.6,56.5 444.0,57.1 444.4,57.2 444.8,57.8 445.3,57.6 445.7,57.5 446.1,58.1 446.5,57.8 447.0,58.1 447.4,58.2 447.8,57.9 448.2,57.8 448.7,58.2 449.1,57.8 449.5,58.3 449.9,58.7 450.4,58.6 450.8,58.1 451.2,57.7 451.6,58.3 452.0,58.4 452.5,59.0 452.9,58.3 453.3,58.5 453.7,59.0 454.2,58.4 454.6,58.6 455.0,59.6 455.4,59.5 455.9,59.2 456.3,59.0 456.7,58.5 457.1,59.3 457.6,59.1 458.0,59.2 458.4,58.9 458.8,59.2 459.2,59.1 459.7,59.4 460.1,60.0 460.5,59.5 460.9,58.5 461.4,58.9 461.8,58.7 462.2,59.1 462.6,59.8 463.1,59.8 463.5,59.3 463.9,59.8 464.3,59.3 464.8,59.0 465.2,59.1 465.6,59.4 466.0,60.6 466.5,59.3 466.9,60.6 467.3,60.7 467.7,60.0 468.1,60.1 468.6,59.8 469.0,60.2 469.4,60.5 469.8,60.3 470.3,60.8 470.7,60.9 471.1,60.5 471.5,60.6 472.0,60.4 472.4,60.7 472.8,60.0 473.2,60.8 473.7,60.7 474.1,60.2 474.5,61.8 474.9,60.2 475.3,60.3 475.8,60.9 476.2,59.9 476.6,60.5 477.0,60.1 477.5,60.5 477.9,60.9 478.3,61.2 478.7,61.6 479.2,61.5 479.6,61.7 480.0,61.5 480.4,61.0 480.9,61.8 481.3,61.0 481.7,61.0 482.1,62.1 482.5,61.8 483.0,61.5 483.4,61.8 483.8,61.9 484.2,60.8 484.7,61.5 485.1,61.0 485.5,61.7 485.9,61.3 486.4,62.3 486.8,62.0 487.2,61.3 487.6,61.8 488.1,61.2 488.5,61.8 488.9,62.1 489.3,62.0 489.7,60.9 490.2,61.8 490.6,62.2 491.0,62.2 491.4,62.6 491.9,61.4 492.3,62.3 492.7,61.8 493.1,62.2 493.6,62.4 494.0,62.5 494.4,61.9 494.8,62.3 495.3,61.7 495.7,61.6 496.1,62.6 496.5,62.3 497.0,61.6 497.4,62.0 497.8,62.4 498.2,63.2 498.6,63.0 499.1,62.9 499.5,61.6 499.9,62.5 500.3,62.8 500.8,62.8 501.2,62.8 501.6,62.5 502.0,63.5 502.5,63.4 502.9,62.6 503.3,62.2 503.7,63.7 504.2,62.5 504.6,63.4 505.0,63.7" fill="none" stroke="#6e6ef0" stroke-width="1.0" stroke-opacity="0.85" stroke-linejoin="round"/>
<polyline points="337.4,126.5 337.8,126.5 338.2,125.5 338.7,125.3 339.1,124.6 339.5,124.8 339.9,123.5 340.3,122.6 340.7,122.5 341.2,121.2 341.6,120.5 342.0,121.2 342.4,119.1 342.8,118.7 343.3,118.3 343.7,117.2 344.1,116.1 344.5,117.1 344.9,115.6 345.4,115.2 345.8,114.7 346.2,113.9 346.6,113.3 347.0,113.4 347.4,114.0 347.9,112.7 348.3,112.2 348.7,110.6 349.1,110.9 349.5,109.9 350.0,110.4 350.4,109.5 350.8,109.2 351.2,108.7 351.6,108.0 352.1,107.1 352.5,107.8 352.9,106.4 353.3,106.1 353.7,106.1 354.1,105.5 354.6,105.6 355.0,105.6 355.4,104.8 355.8,104.4 356.2,104.0 356.7,104.0 357.1,102.3 357.5,103.0 357.9,102.0 358.3,101.5 358.7,101.7 359.2,101.2 359.6,101.3 360.0,101.2 360.4,99.2 360.8,99.9 361.3,100.6 361.7,99.7 362.1,99.7 362.5,98.7 362.9,97.6 363.4,97.4 363.8,98.0 364.2,97.8 364.6,96.6 365.0,96.5 365.4,96.4 365.9,95.1 366.3,95.5 366.7,96.2 367.1,96.2 367.5,94.7 368.0,95.4 368.4,93.9 368.8,93.4 369.2,92.4 369.6,93.7 370.1,92.7 370.5,93.8 370.9,92.5 371.3,92.1 371.7,90.9 372.1,92.2 372.6,91.0 373.0,90.8 373.4,89.5 373.8,90.8 374.2,90.5 374.7,89.5 375.1,89.5 375.5,89.4 375.9,89.4 376.3,88.7 376.7,89.2 377.2,88.0 377.6,87.5 378.0,87.3 378.4,86.0 378.8,86.6 379.3,87.3 379.7,86.6 380.1,85.8 380.5,86.1 380.9,84.7 381.4,85.3 381.8,85.4 382.2,85.3 382.6,84.3 383.0,84.9 383.4,85.1 383.9,83.7 384.3,84.0 384.7,82.6 385.1,82.1 385.5,83.2 386.0,82.6 386.4,82.4 386.8,81.8 387.2,81.7 387.6,82.0 388.0,82.2 388.5,81.0 388.9,80.0 389.3,81.2 389.7,80.6 390.1,80.4 390.6,79.9 391.0,80.7 391.4,79.4 391.8,79.3 392.2,77.9 392.7,78.3 393.1,78.0 393.5,78.1 393.9,78.1 394.3,77.3 394.7,78.3 395.2,76.6 395.6,76.7 396.0,76.8 396.4,75.8 396.8,76.5 397.3,76.3 397.7,75.6 398.1,76.5 398.5,75.4 398.9,75.2 399.4,74.4 399.8,73.8 400.2,74.1 400.6,74.0 401.0,73.7 401.4,74.1 401.9,72.3 402.3,72.7 402.7,72.2 403.1,73.5 403.5,72.4 404.0,72.2 404.4,71.7 404.8,72.5 405.2,71.6 405.6,71.7 406.0,70.4 406.5,71.8 406.9,71.2 407.3,71.1 407.7,71.2 408.1,70.3 408.6,70.1 409.0,70.3 409.4,70.0 409.8,69.5 410.2,69.4 410.7,68.9 411.1,69.4 411.5,69.3 411.9,68.6 412.3,69.4 412.7,67.5 413.2,67.9 413.6,68.7 414.0,67.5 414.4,66.7 414.8,68.0 415.3,67.4 415.7,66.4 416.1,67.2 416.5,66.1 416.9,65.8 417.4,66.2 417.8,65.9 418.2,65.4 418.6,65.6 419.0,65.1 419.4,65.5 419.9,65.3 420.3,65.5 420.7,64.7 420.7,64.3 421.1,65.1 421.5,66.4 422.0,68.1 422.4,68.6 422.8,68.6 423.2,70.0 423.7,69.6 424.1,71.2 424.5,70.9 424.9,71.6 425.4,71.7 425.8,71.3 426.2,71.7 426.6,71.1 427.1,71.7 427.5,72.4 427.9,73.9 428.3,72.3 428.7,72.1 429.2,71.6 429.6,72.7 430.0,71.4 430.4,71.8 430.9,72.5 431.3,71.7 431.7,73.2 432.1,73.0 432.6,72.2 433.0,72.2 433.4,71.9 433.8,71.9 434.3,72.8 434.7,72.9 435.1,72.8 435.5,72.8 436.0,72.4 436.4,72.9 436.8,72.0 437.2,72.8 437.6,73.6 438.1,73.5 438.5,72.6 438.9,72.7 439.3,73.6 439.8,73.9 440.2,72.2 440.6,72.8 441.0,73.2 441.5,73.7 441.9,72.7 442.3,73.4 442.7,73.0 443.2,74.4 443.6,73.4 444.0,73.2 444.4,73.1 444.8,73.8 445.3,73.6 445.7,72.8 446.1,73.4 446.5,72.7 447.0,73.0 447.4,72.7 447.8,72.7 448.2,73.1 448.7,72.9 449.1,73.7 449.5,73.9 449.9,73.4 450.4,72.9 450.8,73.9 451.2,72.5 451.6,72.6 452.0,73.9 452.5,73.9 452.9,74.1 453.3,73.5 453.7,73.0 454.2,73.4 454.6,74.0 455.0,73.3 455.4,73.4 455.9,73.1 456.3,73.2 456.7,74.2 457.1,74.1 457.6,73.3 458.0,73.3 458.4,73.6 458.8,74.2 459.2,73.4 459.7,73.9 460.1,72.9 460.5,73.4 460.9,74.3 461.4,74.5 461.8,73.5 462.2,73.8 462.6,74.6 463.1,74.0 463.5,74.0 463.9,74.5 464.3,74.4 464.8,74.9 465.2,74.8 465.6,74.1 466.0,74.4 466.5,74.4 466.9,73.8 467.3,74.0 467.7,75.0 468.1,73.8 468.6,75.1 469.0,74.8 469.4,74.6 469.8,75.0 470.3,75.0 470.7,75.4 471.1,74.6 471.5,74.7 472.0,74.7 472.4,75.8 472.8,75.4 473.2,74.5 473.7,74.8 474.1,74.7 474.5,75.1 474.9,75.2 475.3,76.3 475.8,74.3 476.2,75.7 476.6,75.5 477.0,74.9 477.5,75.2 477.9,75.1 478.3,75.4 478.7,75.9 479.2,74.7 479.6,76.2 480.0,75.4 480.4,76.3 480.9,75.8 481.3,76.3 481.7,76.0 482.1,76.3 482.5,75.8 483.0,75.4 483.4,76.2 483.8,76.3 484.2,77.0 484.7,75.0 485.1,75.9 485.5,76.6 485.9,75.5 486.4,76.0 486.8,77.2 487.2,76.9 487.6,75.8 488.1,77.0 488.5,76.9 488.9,76.8 489.3,76.6 489.7,76.6 490.2,76.1 490.6,76.3 491.0,77.0 491.4,76.7 491.9,77.6 492.3,76.6 492.7,75.6 493.1,76.7 493.6,77.0 494.0,77.1 494.4,77.0 494.8,76.6 495.3,77.8 495.7,76.8 496.1,77.5 496.5,77.1 497.0,76.7 497.4,78.0 497.8,76.1 498.2,77.0 498.6,77.7 499.1,77.3 499.5,77.9 499.9,77.5 500.3,77.4 500.8,78.8 501.2,77.6 501.6,77.7 502.0,77.3 502.5,77.5 502.9,78.3 503.3,78.3 503.7,78.0 504.2,77.7 504.6,78.5 505.0,77.3" fill="none" stroke="#6e6ef0" stroke-width="1.0" stroke-opacity="0.85" stroke-linejoin="round"/>
<polyline points="337.4,126.8 337.8,126.4 338.2,125.6 338.7,125.6 339.1,124.8 339.5,124.2 339.9,125.1 340.3,124.1 340.7,123.8 341.2,122.8 341.6,122.8 342.0,122.2 342.4,122.0 342.8,122.1 343.3,120.4 343.7,120.2 344.1,119.6 344.5,117.4 344.9,118.0 345.4,118.3 345.8,118.1 346.2,117.1 346.6,117.5 347.0,117.2 347.4,115.9 347.9,116.4 348.3,116.2 348.7,115.2 349.1,114.0 349.5,114.9 350.0,113.7 350.4,113.2 350.8,113.1 351.2,112.4 351.6,112.8 352.1,112.3 352.5,112.2 352.9,111.6 353.3,110.5 353.7,110.5 354.1,110.7 354.6,109.7 355.0,111.1 355.4,109.2 355.8,108.7 356.2,109.2 356.7,108.7 357.1,108.0 357.5,107.6 357.9,107.6 358.3,107.5 358.7,107.2 359.2,106.3 359.6,106.4 360.0,106.3 360.4,106.0 360.8,103.7 361.3,104.5 361.7,104.3 362.1,104.3 362.5,104.2 362.9,104.3 363.4,103.9 363.8,103.2 364.2,103.0 364.6,103.6 365.0,102.1 365.4,102.3 365.9,102.7 366.3,101.8 366.7,100.3 367.1,101.3 367.5,100.6 368.0,100.5 368.4,100.8 368.8,100.3 369.2,99.6 369.6,99.9 370.1,99.5 370.5,99.0 370.9,98.9 371.3,98.6 371.7,98.0 372.1,97.7 372.6,97.7 373.0,97.0 373.4,96.6 373.8,97.6 374.2,96.6 374.7,96.4 375.1,96.1 375.5,95.9 375.9,95.7 376.3,95.5 376.7,94.8 377.2,95.4 377.6,94.3 378.0,94.9 378.4,93.2 378.8,93.4 379.3,94.2 379.7,93.3 380.1,92.8 380.5,93.1 380.9,92.1 381.4,92.5 381.8,91.1 382.2,91.7 382.6,91.3 383.0,91.7 383.4,91.6 383.9,90.5 384.3,91.5 384.7,90.1 385.1,89.1 385.5,88.7 386.0,90.4 386.4,89.3 386.8,88.8 387.2,88.5 387.6,88.0 388.0,89.0 388.5,88.0 388.9,88.7 389.3,87.4 389.7,86.1 390.1,87.4 390.6,86.6 391.0,86.4 391.4,87.0 391.8,85.8 392.2,86.3 392.7,85.4 393.1,84.8 393.5,85.1 393.9,84.3 394.3,85.0 394.7,84.6 395.2,83.9 395.6,83.9 396.0,83.6 396.4,82.9 396.8,83.2 397.3,82.4 397.7,82.5 398.1,81.5 398.5,81.8 398.9,81.7 399.4,80.8 399.8,80.7 400.2,80.4 400.6,80.8 401.0,79.8 401.4,80.1 401.9,80.4 402.3,79.5 402.7,78.3 403.1,78.9 403.5,79.1 404.0,78.2 404.4,78.6 404.8,78.1 405.2,77.7 405.6,77.1 406.0,76.7 406.5,76.6 406.9,76.5 407.3,76.5 407.7,76.2 408.1,75.6 408.6,75.5 409.0,75.4 409.4,74.1 409.8,74.3 410.2,74.0 410.7,74.1 411.1,73.8 411.5,73.5 411.9,72.9 412.3,73.5 412.7,73.0 413.2,71.8 413.6,72.4 414.0,71.5 414.4,72.7 414.8,71.4 415.3,71.1 415.7,71.1 416.1,70.7 416.5,70.5 416.9,71.1 417.4,70.2 417.8,70.2 418.2,70.1 418.6,68.8 419.0,69.9 419.4,69.1 419.9,69.0 420.3,67.8 420.7,68.4 420.7,68.2 421.1,68.5 421.5,70.8 422.0,70.7 422.4,71.1 422.8,72.1 423.2,73.2 423.7,73.9 424.1,74.1 424.5,74.8 424.9,75.1 425.4,73.9 425.8,74.3 426.2,74.1 426.6,74.7 427.1,75.4 427.5,75.1 427.9,74.3 428.3,74.7 428.7,75.4 429.2,74.7 429.6,74.9 430.0,75.1 430.4,74.1 430.9,75.4 431.3,75.2 431.7,75.4 432.1,74.6 432.6,74.8 433.0,74.9 433.4,75.3 433.8,75.2 434.3,75.3 434.7,76.1 435.1,75.9 435.5,74.9 436.0,75.0 436.4,76.2 436.8,75.2 437.2,76.0 437.6,76.2 438.1,75.1 438.5,75.3 438.9,75.5 439.3,75.0 439.8,75.0 440.2,75.3 440.6,76.0 441.0,75.4 441.5,75.5 441.9,75.4 442.3,75.0 442.7,76.4 443.2,74.6 443.6,75.4 444.0,76.1 444.4,75.1 444.8,76.1 445.3,76.5 445.7,75.5 446.1,76.0 446.5,75.4 447.0,76.2 447.4,76.0 447.8,76.1 448.2,76.7 448.7,76.3 449.1,76.8 449.5,76.5 449.9,75.6 450.4,76.3 450.8,76.5 451.2,75.5 451.6,76.9 452.0,76.3 452.5,76.5 452.9,75.9 453.3,76.4 453.7,76.6 454.2,76.3 454.6,76.5 455.0,75.4 455.4,77.2 455.9,76.0 456.3,75.5 456.7,76.1 457.1,76.2 457.6,76.9 458.0,76.3 458.4,76.9 458.8,76.3 459.2,77.9 459.7,77.1 460.1,77.8 460.5,76.4 460.9,77.3 461.4,76.5 461.8,77.3 462.2,77.4 462.6,76.2 463.1,76.5 463.5,76.5 463.9,76.4 464.3,76.8 464.8,76.7 465.2,76.5 465.6,77.3 466.0,77.6 466.5,76.7 466.9,77.1 467.3,77.4 467.7,77.3 468.1,77.1 468.6,77.9 469.0,77.9 469.4,77.9 469.8,77.5 470.3,78.6 470.7,78.5 471.1,77.5 471.5,77.6 472.0,78.3 472.4,77.4 472.8,78.0 473.2,77.8 473.7,77.5 474.1,77.8 474.5,77.1 474.9,77.7 475.3,77.0 475.8,79.2 476.2,78.8 476.6,78.7 477.0,78.3 477.5,78.6 477.9,78.8 478.3,78.7 478.7,78.7 479.2,77.8 479.6,78.5 480.0,78.1 480.4,77.8 480.9,77.8 481.3,78.7 481.7,79.0 482.1,77.8 482.5,79.4 483.0,79.3 483.4,78.4 483.8,78.4 484.2,78.6 484.7,79.2 485.1,78.5 485.5,78.2 485.9,79.0 486.4,77.8 486.8,78.9 487.2,79.5 487.6,79.1 488.1,79.4 488.5,79.3 488.9,79.4 489.3,79.2 489.7,78.7 490.2,79.0 490.6,79.1 491.0,79.8 491.4,80.1 491.9,79.5 492.3,78.9 492.7,79.0 493.1,79.3 493.6,80.1 494.0,79.6 494.4,79.5 494.8,79.1 495.3,80.0 495.7,79.7 496.1,79.6 496.5,79.7 497.0,80.6 497.4,79.7 497.8,80.6 498.2,80.4 498.6,79.9 499.1,80.3 499.5,79.9 499.9,79.5 500.3,79.9 500.8,79.6 501.2,80.3 501.6,80.1 502.0,80.4 502.5,80.6 502.9,78.7 503.3,80.4 503.7,79.4 504.2,80.4 504.6,79.9 505.0,80.5" fill="none" stroke="#6e6ef0" stroke-width="1.0" stroke-opacity="0.85" stroke-linejoin="round"/>
<polyline points="337.4,125.5 338.5,121.7 339.5,118.0 340.6,114.5 341.6,111.1 342.7,107.8 343.7,104.7 344.8,101.7 345.8,98.9 346.9,96.2 347.9,93.6 349.0,91.2 350.1,89.0 351.1,86.9 352.2,84.9 353.2,83.1 354.3,81.5 355.3,80.0 356.4,78.6 357.4,77.3 358.5,75.9 359.5,74.5 360.6,73.1 361.7,71.7 362.7,70.4 363.8,69.0 364.8,67.7 365.9,66.3 366.9,65.1 368.0,63.9 369.0,62.7 370.1,61.6 371.1,60.5 372.2,59.5 373.3,58.4 374.3,57.4 375.4,56.4 376.4,55.4 377.5,54.5 378.5,53.5 379.6,52.6 380.6,51.8 381.7,51.0 382.7,50.2 383.8,49.4 384.8,48.7 385.9,48.1 387.0,47.4 388.0,46.8 389.1,46.2 390.1,45.6 391.2,45.0 392.2,44.4 393.3,43.8 394.3,43.2 395.4,42.7 396.4,42.1 397.5,41.6 398.6,41.1 399.6,40.6 400.7,40.2 401.7,39.7 402.8,39.3 403.8,38.9 404.9,38.5 405.9,38.2 407.0,37.9 408.0,37.6 409.1,37.3 410.2,37.1 411.2,36.9 412.3,36.7 413.3,36.6 414.4,36.4 415.4,36.3 416.5,36.1 417.5,36.0 418.6,35.9 419.6,35.8 420.7,35.8 420.7,35.8 422.9,36.3 425.0,36.8 427.2,37.3 429.3,37.8 431.5,38.3 433.7,38.8 435.8,39.3 438.0,39.8 440.2,40.3 442.3,40.8 444.5,41.3 446.6,41.8 448.8,42.3 451.0,42.8 453.1,43.3 455.3,43.8 457.4,44.3 459.6,44.8 461.8,45.3 463.9,45.8 466.1,46.3 468.3,46.8 470.4,47.3 472.6,47.8 474.7,48.3 476.9,48.8 479.1,49.3 481.2,49.8 483.4,50.3 485.5,50.8 487.7,51.3 489.9,51.8 492.0,52.3 494.2,52.9 496.4,53.4 498.5,53.9 500.7,54.4 502.8,54.9 505.0,55.4" fill="none" stroke="#f0404c" stroke-width="1.0" stroke-opacity="1.0" stroke-linejoin="round"/>
<polyline points="337.4,125.5 338.5,123.2 339.5,120.9 340.6,118.7 341.6,116.5 342.7,114.4 343.7,112.2 344.8,110.2 345.8,108.1 346.9,106.1 347.9,104.1 349.0,102.1 350.1,100.2 351.1,98.3 352.2,96.4 353.2,94.5 354.3,92.7 355.3,90.9 356.4,89.1 357.4,87.4 358.5,85.7 359.5,84.0 360.6,82.3 361.7,80.7 362.7,79.1 363.8,77.6 364.8,76.1 365.9,74.8 366.9,73.5 368.0,72.2 369.0,71.0 370.1,69.7 371.1,68.6 372.2,67.4 373.3,66.2 374.3,65.1 375.4,64.0 376.4,62.9 377.5,61.9 378.5,60.8 379.6,59.8 380.6,58.8 381.7,57.8 382.7,56.8 383.8,55.9 384.8,54.9 385.9,54.0 387.0,53.1 388.0,52.1 389.1,51.2 390.1,50.3 391.2,49.4 392.2,48.5 393.3,47.6 394.3,46.7 395.4,45.9 396.4,45.0 397.5,44.1 398.6,43.3 399.6,42.4 400.7,41.6 401.7,40.8 402.8,40.0 403.8,39.2 404.9,38.4 405.9,37.6 407.0,36.8 408.0,36.1 409.1,35.3 410.2,34.6 411.2,33.8 412.3,33.1 413.3,32.4 414.4,31.7 415.4,31.1 416.5,30.4 417.5,29.8 418.6,29.1 419.6,28.5 420.7,27.9 420.7,27.9 422.9,28.6 425.0,29.3 427.2,29.9 429.3,30.6 431.5,31.3 433.7,31.9 435.8,32.6 438.0,33.2 440.2,33.8 442.3,34.5 444.5,35.1 446.6,35.7 448.8,36.3 451.0,36.9 453.1,37.5 455.3,38.1 457.4,38.7 459.6,39.2 461.8,39.8 463.9,40.3 466.1,40.9 468.3,41.4 470.4,42.0 472.6,42.5 474.7,43.1 476.9,43.6 479.1,44.1 481.2,44.6 483.4,45.1 485.5,45.6 487.7,46.1 489.9,46.6 492.0,47.1 494.2,47.6 496.4,48.1 498.5,48.5 500.7,49.0 502.8,49.5 505.0,49.9" fill="none" stroke="#f0404c" stroke-width="1.0" stroke-opacity="1.0" stroke-linejoin="round"/>
<polyline points="337.4,125.5 338.5,123.7 339.5,121.8 340.6,120.1 341.6,118.3 342.7,116.6 343.7,114.9 344.8,113.4 345.8,111.9 346.9,110.5 347.9,109.2 349.0,107.9 350.1,106.6 351.1,105.4 352.2,104.2 353.2,103.0 354.3,101.9 355.3,100.8 356.4,99.7 357.4,98.6 358.5,97.5 359.5,96.5 360.6,95.4 361.7,94.4 362.7,93.4 363.8,92.4 364.8,91.4 365.9,90.4 366.9,89.4 368.0,88.4 369.0,87.4 370.1,86.4 371.1,85.4 372.2,84.4 373.3,83.4 374.3,82.4 375.4,81.4 376.4,80.4 377.5,79.5 378.5,78.5 379.6,77.5 380.6,76.6 381.7,75.7 382.7,74.7 383.8,73.8 384.8,73.0 385.9,72.1 387.0,71.2 388.0,70.4 389.1,69.5 390.1,68.7 391.2,67.8 392.2,67.0 393.3,66.1 394.3,65.3 395.4,64.5 396.4,63.7 397.5,62.9 398.6,62.1 399.6,61.3 400.7,60.5 401.7,59.7 402.8,58.9 403.8,58.1 404.9,57.3 405.9,56.6 407.0,55.8 408.0,55.1 409.1,54.3 410.2,53.6 411.2,52.9 412.3,52.2 413.3,51.5 414.4,50.8 415.4,50.1 416.5,49.4 417.5,48.7 418.6,48.1 419.6,47.4 420.7,46.8 420.7,46.8 422.9,47.3 425.0,47.9 427.2,48.4 429.3,48.9 431.5,49.4 433.7,49.9 435.8,50.4 438.0,50.9 440.2,51.4 442.3,51.9 444.5,52.4 446.6,52.9 448.8,53.4 451.0,53.9 453.1,54.3 455.3,54.8 457.4,55.3 459.6,55.7 461.8,56.2 463.9,56.7 466.1,57.1 468.3,57.6 470.4,58.0 472.6,58.5 474.7,58.9 476.9,59.3 479.1,59.8 481.2,60.2 483.4,60.6 485.5,61.0 487.7,61.5 489.9,61.9 492.0,62.3 494.2,62.7 496.4,63.1 498.5,63.5 500.7,63.9 502.8,64.3 505.0,64.7" fill="none" stroke="#f0404c" stroke-width="1.0" stroke-opacity="1.0" stroke-linejoin="round"/>
<polyline points="337.4,125.5 338.5,124.6 339.5,123.6 340.6,122.7 341.6,121.7 342.7,120.8 343.7,119.8 344.8,118.9 345.8,118.0 346.9,117.1 347.9,116.1 349.0,115.3 350.1,114.4 351.1,113.5 352.2,112.7 353.2,111.8 354.3,111.0 355.3,110.2 356.4,109.4 357.4,108.5 358.5,107.7 359.5,106.9 360.6,106.1 361.7,105.3 362.7,104.5 363.8,103.7 364.8,102.9 365.9,102.1 366.9,101.3 368.0,100.5 369.0,99.7 370.1,98.9 371.1,98.1 372.2,97.3 373.3,96.5 374.3,95.8 375.4,95.0 376.4,94.2 377.5,93.4 378.5,92.7 379.6,91.9 380.6,91.2 381.7,90.4 382.7,89.7 383.8,88.9 384.8,88.2 385.9,87.4 387.0,86.7 388.0,86.0 389.1,85.2 390.1,84.5 391.2,83.8 392.2,83.1 393.3,82.4 394.3,81.7 395.4,81.0 396.4,80.3 397.5,79.6 398.6,78.9 399.6,78.2 400.7,77.5 401.7,76.9 402.8,76.2 403.8,75.5 404.9,74.9 405.9,74.2 407.0,73.6 408.0,72.9 409.1,72.3 410.2,71.7 411.2,71.0 412.3,70.4 413.3,69.8 414.4,69.2 415.4,68.6 416.5,68.0 417.5,67.4 418.6,66.8 419.6,66.3 420.7,65.7 420.7,65.7 422.9,66.1 425.0,66.5 427.2,66.9 429.3,67.3 431.5,67.7 433.7,68.1 435.8,68.5 438.0,68.8 440.2,69.2 442.3,69.6 444.5,69.9 446.6,70.3 448.8,70.6 451.0,71.0 453.1,71.3 455.3,71.6 457.4,71.9 459.6,72.2 461.8,72.5 463.9,72.8 466.1,73.1 468.3,73.4 470.4,73.7 472.6,74.0 474.7,74.3 476.9,74.6 479.1,74.9 481.2,75.1 483.4,75.4 485.5,75.7 487.7,75.9 489.9,76.2 492.0,76.4 494.2,76.7 496.4,76.9 498.5,77.1 500.7,77.4 502.8,77.6 505.0,77.8" fill="none" stroke="#f0404c" stroke-width="1.0" stroke-opacity="1.0" stroke-linejoin="round"/>
<polyline points="353.0,112.0 353.9,111.4 354.7,110.8 355.6,110.3 356.4,109.7 357.3,109.1 358.1,108.6 359.0,108.0 359.9,107.4 360.7,106.8 361.6,106.3 362.4,105.7 363.3,105.2 364.1,104.6 365.0,104.0 365.9,103.5 366.7,102.9 367.6,102.4 368.4,101.8 369.3,101.2 370.1,100.7 371.0,100.1 371.9,99.6 372.7,99.0 373.6,98.5 374.4,97.9 375.3,97.4 376.1,96.8 377.0,96.3 377.9,95.8 378.7,95.2 379.6,94.7 380.4,94.1 381.3,93.6 382.1,93.1 383.0,92.5 383.9,92.0 384.7,91.5 385.6,90.9 386.4,90.4 387.3,89.9 388.1,89.3 389.0,88.8 389.8,88.3 390.7,87.8 391.6,87.2 392.4,86.7 393.3,86.2 394.1,85.7 395.0,85.2 395.8,84.6 396.7,84.1 397.6,83.6 398.4,83.1 399.3,82.6 400.1,82.1 401.0,81.6 401.8,81.1 402.7,80.6 403.6,80.1 404.4,79.5 405.3,79.0 406.1,78.5 407.0,78.0 407.8,77.5 408.7,77.0 409.6,76.5 410.4,76.1 411.3,75.6 412.1,75.1 413.0,74.6 413.8,74.1 414.7,73.6 415.6,73.1 416.4,72.6 417.3,72.1 418.1,71.6 419.0,71.2 419.8,70.7 420.7,70.2 420.7,70.2 422.9,70.4 425.0,70.7 427.2,70.9 429.3,71.2 431.5,71.4 433.7,71.7 435.8,71.9 438.0,72.2 440.2,72.5 442.3,72.7 444.5,73.0 446.6,73.3 448.8,73.6 451.0,73.8 453.1,74.1 455.3,74.4 457.4,74.7 459.6,75.0 461.8,75.3 463.9,75.6 466.1,75.9 468.3,76.3 470.4,76.6 472.6,76.9 474.7,77.2 476.9,77.6 479.1,77.9 481.2,78.2 483.4,78.6 485.5,78.9 487.7,79.3 489.9,79.6 492.0,80.0 494.2,80.3 496.4,80.7 498.5,81.1 500.7,81.4 502.8,81.8 505.0,82.2" fill="none" stroke="#f0404c" stroke-width="1.0" stroke-opacity="1.0" stroke-linejoin="round"/>
<polyline points="338.0,124.0 342.5,114.5 352.0,112.3 345.5,116.2 339.0,122.5" fill="none" stroke="#f0404c" stroke-width="1.0" stroke-opacity="1.0" stroke-linejoin="round"/>
</g>
<line x1="420.10" y1="21.60" x2="420.10" y2="138.30" stroke="#e8262a" stroke-width="1" stroke-dasharray="1.3,1.0"/>
<text stroke="#1a1a1a" stroke-width="0.2" x="515.00" y="47.70" font-size="8.8" text-anchor="start" font-weight="normal" textLength="30" lengthAdjust="spacingAndGlyphs">428 nM</text>
<line x1="522.9" y1="57.3" x2="522.9" y2="67.9" stroke="#000" stroke-width="2.9"/>
<polygon points="520.10,57.70 522.90,53.30 525.70,57.70" fill="#000"/>
<text stroke="#1a1a1a" stroke-width="0.2" x="515.00" y="82.80" font-size="8.8" text-anchor="start" font-weight="normal" textLength="24.7" lengthAdjust="spacingAndGlyphs">13 nM</text>
<rect x="337.40" y="323.20" width="168.40" height="16.80" fill="#fafafa"/>
<rect x="337.40" y="289.60" width="168.40" height="16.80" fill="#fafafa"/>
<rect x="337.40" y="256.00" width="168.40" height="16.80" fill="#fafafa"/>
<rect x="337.40" y="228.40" width="168.40" height="10.80" fill="#fafafa"/>
<line x1="363.52" y1="228.40" x2="363.52" y2="343.20" stroke="#eeeeee" stroke-width="0.6"/>
<line x1="389.64" y1="228.40" x2="389.64" y2="343.20" stroke="#eeeeee" stroke-width="0.6"/>
<line x1="415.76" y1="228.40" x2="415.76" y2="343.20" stroke="#eeeeee" stroke-width="0.6"/>
<line x1="441.88" y1="228.40" x2="441.88" y2="343.20" stroke="#eeeeee" stroke-width="0.6"/>
<line x1="468.00" y1="228.40" x2="468.00" y2="343.20" stroke="#eeeeee" stroke-width="0.6"/>
<line x1="494.12" y1="228.40" x2="494.12" y2="343.20" stroke="#eeeeee" stroke-width="0.6"/>
<path d="M343.9 343.2V339.7M350.5 343.2V339.7M357.0 343.2V339.7M363.5 343.2V339.7M370.0 343.2V339.7M376.6 343.2V339.7M383.1 343.2V339.7M389.6 343.2V339.7M396.2 343.2V339.7M402.7 343.2V339.7M409.2 343.2V339.7M415.8 343.2V339.7M422.3 343.2V339.7M428.8 343.2V339.7M435.3 343.2V339.7M441.9 343.2V339.7M448.4 343.2V339.7M454.9 343.2V339.7M461.5 343.2V339.7M468.0 343.2V339.7M474.5 343.2V339.7M481.1 343.2V339.7M487.6 343.2V339.7M494.1 343.2V339.7M500.6 343.2V339.7" stroke="#dddddd" stroke-width="0.6" fill="none"/>
<line x1="505.80" y1="228.40" x2="505.80" y2="343.20" stroke="#e2e2e2" stroke-width="1"/>
<line x1="337.40" y1="228.40" x2="337.40" y2="343.20" stroke="#d0d0d0" stroke-width="1"/>
<line x1="336.90" y1="228.40" x2="506.30" y2="228.40" stroke="#c4c4c4" stroke-width="1.7"/>
<line x1="336.90" y1="343.20" x2="506.30" y2="343.20" stroke="#c4c4c4" stroke-width="1.4"/>
<line x1="334.90" y1="340.00" x2="337.40" y2="340.00" stroke="#a8a8a8" stroke-width="0.8"/>
<text stroke="#1a1a1a" stroke-width="0.2" x="334.60" y="343.00" font-size="8.6" text-anchor="end" font-weight="normal">−0.03</text>
<line x1="334.90" y1="323.20" x2="337.40" y2="323.20" stroke="#a8a8a8" stroke-width="0.8"/>
<text stroke="#1a1a1a" stroke-width="0.2" x="334.60" y="326.20" font-size="8.6" text-anchor="end" font-weight="normal">−0.02</text>
<line x1="334.90" y1="306.40" x2="337.40" y2="306.40" stroke="#a8a8a8" stroke-width="0.8"/>
<text stroke="#1a1a1a" stroke-width="0.2" x="334.60" y="309.40" font-size="8.6" text-anchor="end" font-weight="normal">−0.01</text>
<line x1="334.90" y1="289.60" x2="337.40" y2="289.60" stroke="#a8a8a8" stroke-width="0.8"/>
<text stroke="#1a1a1a" stroke-width="0.2" x="334.60" y="292.60" font-size="8.6" text-anchor="end" font-weight="normal">0</text>
<line x1="334.90" y1="272.80" x2="337.40" y2="272.80" stroke="#a8a8a8" stroke-width="0.8"/>
<text stroke="#1a1a1a" stroke-width="0.2" x="334.60" y="275.80" font-size="8.6" text-anchor="end" font-weight="normal">0.01</text>
<line x1="334.90" y1="256.00" x2="337.40" y2="256.00" stroke="#a8a8a8" stroke-width="0.8"/>
<text stroke="#1a1a1a" stroke-width="0.2" x="334.60" y="259.00" font-size="8.6" text-anchor="end" font-weight="normal">0.02</text>
<line x1="334.90" y1="239.20" x2="337.40" y2="239.20" stroke="#a8a8a8" stroke-width="0.8"/>
<text stroke="#1a1a1a" stroke-width="0.2" x="334.60" y="242.20" font-size="8.6" text-anchor="end" font-weight="normal">0.03</text>
<line x1="337.40" y1="343.20" x2="337.40" y2="345.70" stroke="#a8a8a8" stroke-width="0.8"/>
<text stroke="#1a1a1a" stroke-width="0.2" x="337.40" y="357.50" font-size="8.6" text-anchor="middle" font-weight="normal">0</text>
<line x1="363.52" y1="343.20" x2="363.52" y2="345.70" stroke="#a8a8a8" stroke-width="0.8"/>
<text stroke="#1a1a1a" stroke-width="0.2" x="363.52" y="357.50" font-size="8.6" text-anchor="middle" font-weight="normal">200</text>
<line x1="389.64" y1="343.20" x2="389.64" y2="345.70" stroke="#a8a8a8" stroke-width="0.8"/>
<text stroke="#1a1a1a" stroke-width="0.2" x="389.64" y="357.50" font-size="8.6" text-anchor="middle" font-weight="normal">400</text>
<line x1="415.76" y1="343.20" x2="415.76" y2="345.70" stroke="#a8a8a8" stroke-width="0.8"/>
<text stroke="#1a1a1a" stroke-width="0.2" x="415.76" y="357.50" font-size="8.6" text-anchor="middle" font-weight="normal">600</text>
<line x1="441.88" y1="343.20" x2="441.88" y2="345.70" stroke="#a8a8a8" stroke-width="0.8"/>
<text stroke="#1a1a1a" stroke-width="0.2" x="441.88" y="357.50" font-size="8.6" text-anchor="middle" font-weight="normal">800</text>
<line x1="468.00" y1="343.20" x2="468.00" y2="345.70" stroke="#a8a8a8" stroke-width="0.8"/>
<text stroke="#1a1a1a" stroke-width="0.2" x="468.00" y="357.50" font-size="8.6" text-anchor="middle" font-weight="normal">1000</text>
<line x1="494.12" y1="343.20" x2="494.12" y2="345.70" stroke="#a8a8a8" stroke-width="0.8"/>
<text stroke="#1a1a1a" stroke-width="0.2" x="494.12" y="357.50" font-size="8.6" text-anchor="middle" font-weight="normal">1200</text>
<text stroke="#1a1a1a" stroke-width="0.2" x="339.10" y="220.30" font-size="9.2" text-anchor="start" font-weight="normal" textLength="15.3" lengthAdjust="spacingAndGlyphs">4G7</text>
<text stroke="#1a1a1a" stroke-width="0.2" x="297.80" y="219.70" font-size="12" text-anchor="start" font-weight="bold">D</text>
<text stroke="#1a1a1a" stroke-width="0.2" transform="translate(307.60,284.50) rotate(-90)" x="0" y="0" font-size="8.8" text-anchor="middle" textLength="71" lengthAdjust="spacingAndGlyphs">spectral shift [nm]</text>
<text stroke="#1a1a1a" stroke-width="0.2" x="417.90" y="373.60" font-size="8.8" text-anchor="middle" font-weight="normal" textLength="30" lengthAdjust="spacingAndGlyphs">Time [s]</text>
<g clip-path="url(#clipD)">
<polyline points="337.4,291.2 337.6,283.8 337.9,284.2 338.1,281.2 338.3,276.1 338.6,278.6 338.8,276.9 339.0,275.5 339.3,274.6 339.5,280.4 339.7,274.2 340.0,271.5 340.2,272.5 340.4,273.0 340.6,272.6 340.9,272.7 341.1,270.8 341.3,273.0 341.6,271.0 341.8,269.3 342.0,269.9 342.3,270.3 342.5,272.0 342.7,271.2 343.0,269.6 343.2,270.0 343.4,270.1 343.7,272.8 343.9,268.3 344.1,269.9 344.4,270.1 344.6,267.3 344.8,268.9 345.1,268.7 345.3,267.5 345.5,269.0 345.7,269.6 346.0,269.7 346.2,267.4 346.4,267.9 346.7,271.2 346.9,265.5 347.1,267.5 347.4,268.5 347.6,267.1 347.8,267.8 348.1,266.9 348.3,267.7 348.5,268.4 348.8,265.9 349.0,266.4 349.2,265.8 349.5,265.1 349.7,265.6 349.9,263.6 350.2,266.4 350.4,267.8 350.6,267.6 350.8,266.7 351.1,262.9 351.3,266.7 351.5,263.0 351.8,263.8 352.0,266.7 352.2,261.8 352.5,264.7 352.7,263.6 352.9,262.7 353.2,261.4 353.4,263.3 353.6,261.7 353.9,263.9 354.1,264.0 354.3,259.7 354.6,260.9 354.8,261.0 355.0,259.4 355.3,259.3 355.5,261.1 355.7,260.4 355.9,257.9 356.2,259.5 356.4,261.1 356.6,258.1 356.9,258.4 357.1,262.2 357.3,261.6 357.6,256.7 357.8,257.0 358.0,259.6 358.3,256.9 358.5,258.2 358.7,257.7 359.0,259.2 359.2,254.1 359.4,254.4 359.7,255.8 359.9,259.2 360.1,257.2 360.4,254.5 360.6,257.9 360.8,258.1 361.0,256.4 361.3,256.1 361.5,257.1 361.7,258.2 362.0,256.4 362.2,256.8 362.4,255.7 362.7,255.0 362.9,254.0 363.1,255.7 363.4,254.7 363.6,254.6 363.8,256.3 364.1,255.5 364.3,255.9 364.5,251.9 364.8,255.1 365.0,253.1 365.2,252.6 365.5,252.4 365.7,255.6 365.9,254.8 366.1,252.2 366.4,251.4 366.6,253.1 366.8,252.2 367.1,255.4 367.3,250.3 367.5,249.6 367.8,251.9 368.0,252.2 368.2,252.3 368.5,253.1 368.7,255.1 368.9,251.1 369.2,250.7 369.4,248.6 369.6,251.7 369.9,252.5 370.1,250.6 370.3,252.8 370.6,250.8 370.8,253.1 371.0,251.1 371.2,248.7 371.5,249.3 371.7,247.7 371.9,247.3 372.2,250.4 372.4,251.2 372.6,252.8 372.9,249.5 373.1,249.1 373.3,247.6 373.6,250.8 373.8,249.8 374.0,248.1 374.3,250.0 374.5,249.7 374.7,245.7 375.0,249.8 375.2,248.8 375.4,247.8 375.7,247.7 375.9,251.0 376.1,250.6 376.3,251.0 376.6,246.1 376.6,247.5 376.8,248.4 377.0,243.5 377.3,242.8 377.5,239.6 377.7,244.1 378.0,241.7 378.2,239.6 378.4,238.4 378.7,236.8 378.9,236.4 379.1,237.8 379.4,235.5 379.6,238.4 379.8,235.5 380.0,234.8 380.3,238.1 380.5,235.7 380.7,236.7 381.0,235.0 381.2,232.0 381.4,236.4 381.7,233.3 381.9,237.2 382.1,232.9 382.4,232.4 382.6,235.9 382.8,236.1 383.1,235.6 383.3,233.6 383.5,237.0 383.8,233.3 384.0,235.0 384.2,234.6 384.4,235.4 384.7,237.5 384.9,235.3 385.1,237.3 385.4,237.7 385.6,234.1 385.8,235.1 386.1,236.6 386.3,236.5 386.5,238.1 386.8,234.8 387.0,239.2 387.2,239.5 387.5,238.3 387.7,236.6 387.9,239.1 388.1,238.5 388.4,240.5 388.6,239.8 388.8,241.3 389.1,239.8 389.3,243.1 389.5,237.3 389.8,239.7 390.0,242.4 390.2,239.5 390.5,243.4 390.7,240.5 390.9,242.9 391.2,241.6 391.4,242.6 391.6,243.9 391.8,243.7 392.1,243.5 392.3,247.8 392.5,244.6 392.8,243.3 393.0,246.6 393.2,246.7 393.5,247.6 393.7,248.7 393.9,244.5 394.2,247.9 394.4,248.3 394.6,246.6 394.9,247.2 395.1,242.2 395.3,246.3 395.5,250.3 395.8,244.7 396.0,246.9 396.2,248.4 396.5,249.1 396.7,251.0 396.9,245.7 397.2,248.8 397.4,250.3 397.6,247.0 397.9,249.2 398.1,252.5 398.3,251.8 398.6,250.7 398.8,245.9 399.0,250.0 399.2,251.0 399.5,250.1 399.7,250.7 399.9,255.9 400.2,250.8 400.4,249.8 400.6,251.9 400.9,251.2 401.1,251.4 401.3,251.9 401.6,253.5 401.8,252.8 402.0,250.7 402.3,252.6 402.5,253.7 402.7,252.4 402.9,255.1 403.2,254.7 403.4,252.1 403.6,254.3 403.9,257.2 404.1,256.7 404.3,254.3 404.6,256.0 404.8,253.6 405.0,252.5 405.3,255.9 405.5,255.6 405.7,256.2 406.0,255.5 406.2,256.2 406.4,255.1 406.6,256.8 406.9,257.5 407.1,256.3 407.3,257.8 407.6,253.9 407.8,255.6 408.0,259.3 408.3,260.0 408.5,257.8 408.7,257.4 409.0,255.6 409.2,258.4 409.4,259.2 409.7,255.8 409.9,259.2 410.1,259.3 410.3,259.3 410.6,257.0 410.8,259.8 411.0,256.7 411.3,261.6 411.5,259.6 411.7,257.7 412.0,261.8 412.2,261.7 412.4,259.0 412.7,263.7 412.9,258.7 413.1,260.9 413.4,262.5 413.6,257.1 413.8,262.5 414.0,260.9 414.3,261.1 414.5,259.6 414.7,262.0 415.0,259.8 415.2,260.2 415.4,261.2 415.7,260.1 415.9,264.7 416.1,260.2 416.4,261.3 416.6,262.1 416.8,262.8 417.1,264.2 417.3,264.4 417.5,262.7 417.8,262.7 418.0,263.5 418.2,264.9 418.4,264.9 418.7,263.1 418.9,260.8 419.1,267.6 419.4,265.9 419.6,264.9 419.8,265.2 420.1,263.9 420.3,263.3 420.5,264.5 420.8,264.8 421.0,264.3 421.2,263.1 421.5,265.1 421.7,266.6 421.9,265.0 422.1,266.0 422.4,262.8 422.6,265.9 422.8,266.2 423.1,264.5 423.3,263.8 423.5,267.4 423.8,265.6 424.0,267.8 424.2,266.4 424.5,268.2 424.7,266.8 424.9,265.1 425.2,267.5 425.4,267.2 425.6,268.9 425.8,267.2 426.1,267.5 426.3,269.6 426.5,270.2 426.8,269.6 427.0,270.2 427.2,269.4 427.5,270.0 427.7,270.3 427.9,269.6 428.2,269.2 428.4,269.4 428.6,273.2 428.9,269.4 429.1,269.1 429.3,269.0 429.5,269.7 429.8,270.2 430.0,268.1 430.2,266.9 430.5,270.6 430.7,267.6 430.9,270.7 431.2,270.6 431.4,272.3 431.6,273.3 431.9,271.3 432.1,269.9 432.3,269.0 432.6,269.7 432.8,271.1 433.0,267.8 433.2,271.3 433.5,271.3 433.7,272.4 433.9,270.9 434.2,271.7 434.4,270.5 434.6,271.0 434.9,269.0 435.1,272.1 435.3,274.5 435.6,272.3 435.8,272.8 436.0,270.7 436.3,274.6 436.5,271.2 436.7,273.8 436.9,272.8 437.2,271.1 437.4,274.4 437.6,272.8 437.9,273.2 438.1,273.7 438.3,273.0 438.6,272.5 438.8,274.0 439.0,272.6 439.3,273.5 439.5,272.4 439.7,271.1 440.0,272.5 440.2,272.8 440.4,273.7 440.6,275.7 440.9,271.1 441.1,274.1 441.3,270.4 441.6,272.4 441.8,273.3 442.0,270.6 442.3,271.2 442.5,274.5 442.7,274.5 443.0,274.2 443.2,273.2 443.4,277.9 443.7,274.3 443.9,273.2 444.1,277.3 444.3,275.7 444.6,274.2 444.8,276.7 445.0,275.1 445.3,275.9 445.5,275.3 445.7,273.3 446.0,276.6 446.2,275.3 446.4,273.5 446.7,273.9 446.9,276.7 447.1,274.6 447.4,275.3 447.6,276.3 447.8,275.5 448.1,272.9 448.3,276.4 448.5,276.9 448.7,276.8 449.0,278.1 449.2,276.1 449.4,276.8 449.7,278.2 449.9,275.2 450.1,278.5 450.4,278.5 450.6,277.0 450.8,278.7 451.1,277.2 451.3,274.5 451.5,277.7 451.8,276.5 452.0,276.6 452.2,276.3 452.4,278.2 452.7,277.0 452.9,275.0 453.1,276.9 453.4,277.4 453.6,275.1 453.8,275.6 454.1,275.7 454.3,275.4 454.5,276.9 454.8,278.0 455.0,279.5 455.2,278.4 455.5,278.1 455.7,278.4 455.9,278.7 456.1,276.0 456.4,277.8 456.6,277.2 456.8,276.5 457.1,276.0 457.3,276.0 457.5,276.4 457.8,274.9 458.0,277.7 458.2,276.9 458.5,277.1 458.7,277.5 458.9,278.2 459.2,276.1 459.4,276.9 459.6,274.5 459.8,273.6 460.1,274.1 460.3,279.7 460.5,274.3 460.8,278.0 461.0,279.7 461.2,276.6 461.5,280.0 461.7,280.4 461.9,279.0 462.2,281.3 462.4,278.5 462.6,276.4 462.9,278.4 463.1,276.9 463.3,275.5 463.5,275.6 463.8,281.4 464.0,276.9 464.2,277.7 464.5,276.7 464.7,278.0 464.9,277.5 465.2,277.2 465.4,276.0 465.6,275.7 465.9,276.8 466.1,278.5 466.3,281.4 466.6,279.8 466.8,281.0 467.0,278.9 467.2,278.0 467.5,276.1 467.7,278.2 467.9,274.8 468.2,277.8 468.4,280.9 468.6,278.9 468.9,280.2 469.1,277.8 469.3,276.2 469.6,277.7 469.8,277.9 470.0,280.4 470.3,281.7 470.5,277.4 470.7,278.0 470.9,278.4 471.2,278.1 471.4,276.7 471.6,278.9 471.9,279.3 472.1,279.4 472.3,276.9 472.6,278.6 472.8,276.1 473.0,280.3 473.3,277.3 473.5,278.5 473.7,278.2 474.0,278.0 474.2,277.3 474.4,276.2 474.6,281.8 474.9,279.5 475.1,279.5 475.3,282.5 475.6,279.0 475.8,280.1 476.0,279.2 476.3,281.1 476.5,280.1 476.7,279.8 477.0,278.9 477.2,279.8 477.4,281.2 477.7,276.0 477.9,279.2 478.1,278.7 478.3,279.0 478.6,276.3 478.8,280.6 479.0,278.1 479.3,279.2 479.5,278.7 479.7,276.9 480.0,278.9 480.2,276.7 480.4,278.1 480.7,279.1 480.9,279.7 481.1,279.8 481.4,279.5 481.6,283.2 481.8,280.5 482.1,277.8 482.3,278.8 482.5,278.8 482.7,279.6 483.0,278.9 483.2,278.5 483.4,282.5 483.7,280.0 483.9,279.4 484.1,279.5 484.4,279.6 484.6,282.2 484.8,280.8 485.1,281.8 485.3,275.0 485.5,280.6 485.8,281.8 486.0,283.2 486.2,280.2 486.4,277.4 486.7,281.1 486.9,279.2 487.1,277.3 487.4,279.2 487.6,281.9 487.8,282.1 488.1,281.4 488.3,278.6 488.5,284.3 488.8,278.4 489.0,280.2 489.2,278.0 489.5,282.4 489.7,281.1 489.9,281.8 490.1,280.5 490.4,280.3 490.6,280.7 490.8,277.4 491.1,282.0 491.3,281.9 491.5,279.8 491.8,280.5 492.0,281.0 492.2,283.0 492.5,281.2 492.7,280.6 492.9,279.7 493.2,278.1 493.4,279.6 493.6,280.7 493.8,280.2 494.1,280.7 494.3,281.8 494.5,281.3 494.8,281.1 495.0,281.7 495.2,280.9 495.5,280.6 495.7,281.4 495.9,277.9 496.2,282.7 496.4,278.6 496.6,282.0 496.9,280.7 497.1,282.5 497.3,280.8 497.5,279.2 497.8,282.5 498.0,281.0 498.2,280.9 498.5,280.9 498.7,282.4 498.9,282.1 499.2,281.2 499.4,278.3 499.6,280.2 499.9,281.0 500.1,283.7 500.3,281.4 500.6,280.7 500.8,282.7 501.0,280.7 501.2,280.8 501.5,281.1 501.7,278.5 501.9,282.4 502.2,281.5 502.4,280.4 502.6,279.0 502.9,281.2 503.1,283.1 503.3,279.8 503.6,279.2 503.8,281.6 504.0,278.3 504.3,277.3 504.5,280.2 504.7,279.8 504.9,280.4 505.2,280.0 505.4,281.4 505.6,280.5 505.9,279.9" fill="none" stroke="#5656e4" stroke-width="0.6" stroke-opacity="0.9" stroke-linejoin="round"/>
<polyline points="337.4,288.4 337.6,290.0 337.9,290.3 338.1,290.1 338.3,289.6 338.6,283.1 338.8,286.6 339.0,287.6 339.3,288.3 339.5,285.2 339.7,290.0 340.0,288.0 340.2,286.4 340.4,287.5 340.6,286.6 340.9,285.8 341.1,287.7 341.3,286.0 341.6,284.4 341.8,285.5 342.0,286.2 342.3,284.5 342.5,288.2 342.7,284.3 343.0,288.7 343.2,287.2 343.4,284.2 343.7,285.8 343.9,287.4 344.1,285.1 344.4,283.4 344.6,285.3 344.8,288.2 345.1,282.6 345.3,285.7 345.5,284.8 345.7,284.4 346.0,283.9 346.2,283.9 346.4,286.0 346.7,285.2 346.9,282.5 347.1,286.5 347.4,281.8 347.6,284.9 347.8,284.0 348.1,285.5 348.3,284.1 348.5,285.1 348.8,283.3 349.0,284.8 349.2,283.7 349.5,286.5 349.7,281.8 349.9,284.8 350.2,283.5 350.4,283.0 350.6,281.7 350.8,283.2 351.1,280.0 351.3,280.1 351.5,283.3 351.8,279.6 352.0,284.3 352.2,281.5 352.5,282.2 352.7,281.9 352.9,282.3 353.2,281.1 353.4,280.9 353.6,281.2 353.9,283.0 354.1,283.0 354.3,283.2 354.6,281.6 354.8,280.6 355.0,278.2 355.3,281.8 355.5,282.0 355.7,280.0 355.9,281.8 356.2,282.5 356.4,280.5 356.6,281.9 356.9,280.7 357.1,277.3 357.3,279.2 357.6,279.2 357.8,280.7 358.0,278.3 358.3,278.9 358.5,278.0 358.7,279.4 359.0,279.5 359.2,280.9 359.4,280.5 359.7,279.4 359.9,279.4 360.1,279.1 360.4,279.0 360.6,281.3 360.8,274.7 361.0,278.3 361.3,279.0 361.5,280.3 361.7,276.6 362.0,278.8 362.2,279.6 362.4,277.4 362.7,275.0 362.9,277.4 363.1,275.9 363.4,278.8 363.6,276.3 363.8,280.5 364.1,277.8 364.3,276.2 364.5,276.6 364.8,275.5 365.0,277.8 365.2,279.5 365.5,276.7 365.7,278.4 365.9,275.4 366.1,277.3 366.4,280.4 366.6,274.4 366.8,278.5 367.1,278.4 367.3,273.4 367.5,274.0 367.8,274.7 368.0,277.7 368.2,275.4 368.5,275.7 368.7,277.1 368.9,276.0 369.2,276.1 369.4,275.2 369.6,277.4 369.9,274.3 370.1,278.1 370.3,274.8 370.6,274.0 370.8,276.3 371.0,275.9 371.2,271.9 371.5,275.4 371.7,272.8 371.9,273.5 372.2,276.0 372.4,273.3 372.6,275.2 372.9,274.0 373.1,277.6 373.3,274.3 373.6,272.5 373.8,272.5 374.0,272.7 374.3,274.3 374.5,274.0 374.7,275.5 375.0,274.2 375.2,274.0 375.4,274.3 375.7,273.5 375.9,274.1 376.1,274.8 376.3,274.7 376.6,272.5 376.6,271.0 376.8,268.5 377.0,266.3 377.3,258.2 377.5,258.0 377.7,256.5 378.0,252.4 378.2,249.7 378.4,253.2 378.7,252.1 378.9,249.2 379.1,251.4 379.4,251.1 379.6,247.0 379.8,253.0 380.0,247.0 380.3,248.0 380.5,246.6 380.7,248.5 381.0,246.3 381.2,248.4 381.4,250.2 381.7,248.8 381.9,248.1 382.1,251.0 382.4,247.2 382.6,250.2 382.8,248.2 383.1,249.1 383.3,248.9 383.5,249.2 383.8,249.0 384.0,247.9 384.2,248.3 384.4,250.1 384.7,249.3 384.9,247.7 385.1,248.6 385.4,248.7 385.6,249.8 385.8,250.3 386.1,250.3 386.3,249.3 386.5,250.5 386.8,248.4 387.0,246.1 387.2,250.8 387.5,248.4 387.7,249.7 387.9,249.4 388.1,252.5 388.4,249.7 388.6,252.3 388.8,251.2 389.1,250.2 389.3,249.8 389.5,253.2 389.8,253.3 390.0,254.0 390.2,255.9 390.5,253.6 390.7,253.7 390.9,253.3 391.2,253.8 391.4,253.2 391.6,252.5 391.8,257.3 392.1,251.3 392.3,254.8 392.5,255.3 392.8,254.9 393.0,253.3 393.2,254.7 393.5,254.4 393.7,253.5 393.9,255.3 394.2,254.9 394.4,254.8 394.6,256.9 394.9,254.2 395.1,256.7 395.3,255.2 395.5,256.9 395.8,256.5 396.0,256.9 396.2,255.1 396.5,255.5 396.7,255.5 396.9,257.3 397.2,258.3 397.4,259.0 397.6,256.6 397.9,257.7 398.1,255.1 398.3,254.2 398.6,256.5 398.8,257.0 399.0,255.7 399.2,255.5 399.5,259.3 399.7,257.3 399.9,256.0 400.2,262.5 400.4,259.2 400.6,258.6 400.9,260.3 401.1,258.1 401.3,262.0 401.6,257.1 401.8,257.6 402.0,259.6 402.3,258.8 402.5,262.4 402.7,257.7 402.9,259.2 403.2,260.9 403.4,261.5 403.6,262.3 403.9,261.4 404.1,264.5 404.3,260.4 404.6,261.5 404.8,262.8 405.0,261.0 405.3,261.2 405.5,261.0 405.7,260.9 406.0,260.2 406.2,261.3 406.4,259.8 406.6,263.0 406.9,260.0 407.1,266.0 407.3,265.5 407.6,264.7 407.8,262.7 408.0,262.2 408.3,265.3 408.5,263.7 408.7,264.5 409.0,262.5 409.2,265.5 409.4,262.7 409.7,264.2 409.9,261.4 410.1,263.3 410.3,265.2 410.6,263.8 410.8,264.0 411.0,266.1 411.3,264.8 411.5,267.0 411.7,261.3 412.0,266.2 412.2,266.2 412.4,263.1 412.7,263.6 412.9,267.2 413.1,264.2 413.4,265.0 413.6,267.1 413.8,265.7 414.0,267.2 414.3,265.1 414.5,267.1 414.7,268.5 415.0,267.4 415.2,263.5 415.4,268.2 415.7,267.3 415.9,265.9 416.1,269.7 416.4,264.8 416.6,270.7 416.8,266.8 417.1,270.5 417.3,268.0 417.5,266.1 417.8,268.5 418.0,269.0 418.2,269.4 418.4,270.4 418.7,267.4 418.9,269.7 419.1,270.2 419.4,268.7 419.6,267.8 419.8,267.9 420.1,270.7 420.3,270.9 420.5,268.4 420.8,267.7 421.0,271.9 421.2,267.6 421.5,270.5 421.7,269.0 421.9,267.6 422.1,270.7 422.4,270.4 422.6,273.1 422.8,274.5 423.1,270.7 423.3,272.8 423.5,272.9 423.8,270.5 424.0,270.1 424.2,274.1 424.5,271.1 424.7,271.8 424.9,271.5 425.2,271.8 425.4,271.2 425.6,273.5 425.8,274.4 426.1,271.9 426.3,270.4 426.5,272.8 426.8,270.5 427.0,271.9 427.2,275.0 427.5,276.9 427.7,273.9 427.9,271.7 428.2,274.7 428.4,270.0 428.6,272.6 428.9,276.2 429.1,275.1 429.3,271.8 429.5,271.5 429.8,275.6 430.0,274.3 430.2,273.5 430.5,275.2 430.7,273.8 430.9,271.7 431.2,276.2 431.4,274.0 431.6,273.5 431.9,273.1 432.1,275.7 432.3,274.2 432.6,276.6 432.8,275.3 433.0,277.5 433.2,275.3 433.5,275.0 433.7,273.0 433.9,274.5 434.2,277.5 434.4,281.4 434.6,274.6 434.9,275.1 435.1,277.4 435.3,277.7 435.6,276.0 435.8,277.3 436.0,274.8 436.3,277.0 436.5,279.0 436.7,280.3 436.9,277.5 437.2,277.5 437.4,278.8 437.6,279.9 437.9,279.0 438.1,277.2 438.3,279.1 438.6,280.1 438.8,277.6 439.0,276.7 439.3,279.7 439.5,279.6 439.7,280.7 440.0,279.4 440.2,278.3 440.4,278.8 440.6,277.9 440.9,278.2 441.1,278.9 441.3,279.1 441.6,281.7 441.8,278.1 442.0,280.1 442.3,279.3 442.5,282.7 442.7,280.8 443.0,279.9 443.2,281.9 443.4,280.8 443.7,280.0 443.9,283.2 444.1,282.0 444.3,283.7 444.6,282.8 444.8,282.3 445.0,281.3 445.3,279.5 445.5,282.4 445.7,281.4 446.0,282.4 446.2,281.4 446.4,280.3 446.7,279.9 446.9,282.6 447.1,283.6 447.4,281.2 447.6,282.4 447.8,283.9 448.1,280.4 448.3,281.3 448.5,280.1 448.7,283.8 449.0,282.3 449.2,281.2 449.4,279.4 449.7,281.8 449.9,283.7 450.1,281.7 450.4,281.5 450.6,283.3 450.8,280.3 451.1,282.4 451.3,283.3 451.5,281.2 451.8,281.1 452.0,282.9 452.2,282.4 452.4,282.2 452.7,283.0 452.9,283.0 453.1,281.2 453.4,281.7 453.6,283.5 453.8,284.6 454.1,285.0 454.3,281.6 454.5,284.7 454.8,284.2 455.0,283.0 455.2,283.9 455.5,284.5 455.7,286.0 455.9,281.5 456.1,284.2 456.4,283.1 456.6,283.0 456.8,285.2 457.1,284.7 457.3,281.8 457.5,283.0 457.8,283.9 458.0,281.3 458.2,285.0 458.5,283.5 458.7,284.0 458.9,284.3 459.2,286.6 459.4,283.9 459.6,283.3 459.8,286.6 460.1,283.1 460.3,283.1 460.5,281.8 460.8,285.8 461.0,284.5 461.2,284.9 461.5,284.4 461.7,284.0 461.9,283.0 462.2,283.0 462.4,285.0 462.6,284.5 462.9,287.0 463.1,283.2 463.3,283.7 463.5,282.9 463.8,286.7 464.0,282.6 464.2,285.8 464.5,286.9 464.7,284.4 464.9,285.8 465.2,281.4 465.4,284.2 465.6,282.2 465.9,285.1 466.1,284.9 466.3,283.7 466.6,286.4 466.8,285.5 467.0,284.2 467.2,284.2 467.5,282.7 467.7,284.8 467.9,288.5 468.2,284.0 468.4,285.9 468.6,284.4 468.9,286.5 469.1,286.0 469.3,285.0 469.6,282.5 469.8,284.6 470.0,287.3 470.3,285.1 470.5,286.5 470.7,284.8 470.9,282.6 471.2,286.2 471.4,286.1 471.6,284.7 471.9,285.1 472.1,286.2 472.3,284.8 472.6,286.3 472.8,285.5 473.0,282.1 473.3,285.6 473.5,284.9 473.7,284.6 474.0,286.6 474.2,285.2 474.4,286.8 474.6,287.7 474.9,286.3 475.1,283.6 475.3,284.9 475.6,287.6 475.8,285.7 476.0,284.9 476.3,286.1 476.5,287.0 476.7,286.7 477.0,287.3 477.2,285.0 477.4,285.9 477.7,286.0 477.9,286.3 478.1,283.1 478.3,286.1 478.6,284.3 478.8,288.7 479.0,289.0 479.3,289.2 479.5,287.8 479.7,285.8 480.0,288.1 480.2,286.3 480.4,287.6 480.7,285.2 480.9,285.8 481.1,287.5 481.4,289.5 481.6,286.7 481.8,290.4 482.1,291.2 482.3,284.8 482.5,286.8 482.7,285.4 483.0,286.7 483.2,286.1 483.4,286.8 483.7,288.5 483.9,288.5 484.1,287.4 484.4,287.0 484.6,287.2 484.8,287.3 485.1,288.0 485.3,287.1 485.5,287.9 485.8,285.1 486.0,288.4 486.2,289.9 486.4,287.5 486.7,285.0 486.9,289.4 487.1,286.7 487.4,282.5 487.6,286.9 487.8,288.3 488.1,287.9 488.3,289.3 488.5,288.3 488.8,287.6 489.0,284.3 489.2,285.6 489.5,287.7 489.7,288.5 489.9,285.8 490.1,286.5 490.4,288.2 490.6,284.5 490.8,284.4 491.1,287.2 491.3,287.9 491.5,286.8 491.8,283.9 492.0,287.6 492.2,285.5 492.5,288.6 492.7,287.5 492.9,288.0 493.2,288.7 493.4,286.8 493.6,289.0 493.8,289.6 494.1,288.3 494.3,289.8 494.5,286.7 494.8,289.2 495.0,288.2 495.2,286.2 495.5,287.6 495.7,286.9 495.9,286.9 496.2,287.9 496.4,289.5 496.6,287.3 496.9,288.0 497.1,285.5 497.3,288.0 497.5,289.7 497.8,289.1 498.0,288.6 498.2,287.0 498.5,286.3 498.7,287.7 498.9,285.8 499.2,285.9 499.4,289.4 499.6,286.4 499.9,290.7 500.1,285.6 500.3,288.6 500.6,286.1 500.8,288.2 501.0,286.3 501.2,288.0 501.5,287.7 501.7,287.2 501.9,288.8 502.2,290.3 502.4,287.0 502.6,289.4 502.9,288.1 503.1,287.9 503.3,291.4 503.6,284.5 503.8,286.9 504.0,285.1 504.3,287.5 504.5,287.6 504.7,294.0 504.9,288.5 505.2,290.8 505.4,290.0 505.6,287.3 505.9,288.7" fill="none" stroke="#5656e4" stroke-width="0.6" stroke-opacity="0.9" stroke-linejoin="round"/>
<polyline points="337.4,291.6 337.6,291.9 337.9,294.7 338.1,298.1 338.3,297.6 338.6,301.2 338.8,305.1 339.0,306.9 339.3,305.4 339.5,306.5 339.7,306.8 340.0,306.7 340.2,308.0 340.4,307.0 340.6,307.0 340.9,304.5 341.1,304.9 341.3,307.0 341.6,303.9 341.8,306.7 342.0,305.1 342.3,304.7 342.5,306.9 342.7,304.7 343.0,304.2 343.2,304.3 343.4,305.3 343.7,309.4 343.9,301.5 344.1,304.7 344.4,304.1 344.6,305.8 344.8,303.6 345.1,300.0 345.3,305.9 345.5,301.8 345.7,303.3 346.0,301.0 346.2,301.2 346.4,302.0 346.7,303.9 346.9,303.7 347.1,301.2 347.4,302.8 347.6,301.2 347.8,301.8 348.1,301.7 348.3,302.2 348.5,300.1 348.8,300.7 349.0,301.1 349.2,300.8 349.5,299.2 349.7,303.1 349.9,299.5 350.2,301.3 350.4,300.3 350.6,301.8 350.8,296.3 351.1,303.0 351.3,299.3 351.5,297.5 351.8,299.6 352.0,302.9 352.2,300.0 352.5,297.1 352.7,298.3 352.9,301.0 353.2,296.6 353.4,298.4 353.6,298.1 353.9,302.0 354.1,298.0 354.3,300.4 354.6,297.2 354.8,296.9 355.0,299.6 355.3,298.9 355.5,295.1 355.7,298.8 355.9,298.7 356.2,296.6 356.4,297.8 356.6,297.8 356.9,296.5 357.1,296.3 357.3,296.0 357.6,296.6 357.8,294.8 358.0,296.8 358.3,294.4 358.5,296.8 358.7,296.4 359.0,294.8 359.2,297.8 359.4,299.4 359.7,298.3 359.9,294.0 360.1,298.1 360.4,296.3 360.6,295.8 360.8,294.9 361.0,295.7 361.3,297.8 361.5,296.4 361.7,294.8 362.0,294.3 362.2,294.7 362.4,296.2 362.7,298.1 362.9,293.4 363.1,295.0 363.4,294.3 363.6,293.7 363.8,295.4 364.1,295.6 364.3,292.4 364.5,292.9 364.8,296.4 365.0,294.9 365.2,295.2 365.5,293.5 365.7,293.6 365.9,294.9 366.1,293.3 366.4,292.3 366.6,294.0 366.8,295.4 367.1,292.2 367.3,295.5 367.5,294.9 367.8,292.3 368.0,293.6 368.2,293.5 368.5,294.5 368.7,294.5 368.9,291.3 369.2,291.2 369.4,294.9 369.6,293.4 369.9,293.9 370.1,293.7 370.3,295.6 370.6,291.2 370.8,294.8 371.0,291.7 371.2,294.1 371.5,295.0 371.7,290.7 371.9,293.5 372.2,292.4 372.4,292.3 372.6,292.8 372.9,291.0 373.1,291.1 373.3,293.7 373.6,293.9 373.8,291.7 374.0,290.3 374.3,296.2 374.5,294.3 374.7,293.1 375.0,290.8 375.2,291.5 375.4,292.8 375.7,290.9 375.9,294.9 376.1,292.6 376.3,293.0 376.6,290.7 376.6,291.0 376.8,289.1 377.0,288.8 377.3,286.1 377.5,284.4 377.7,283.8 378.0,282.4 378.2,283.3 378.4,279.9 378.7,278.1 378.9,279.2 379.1,281.2 379.4,277.6 379.6,278.3 379.8,277.4 380.0,278.5 380.3,278.3 380.5,276.6 380.7,277.5 381.0,279.4 381.2,279.7 381.4,279.4 381.7,279.4 381.9,277.6 382.1,277.6 382.4,279.7 382.6,276.5 382.8,278.4 383.1,275.7 383.3,278.1 383.5,277.7 383.8,277.1 384.0,280.0 384.2,278.1 384.4,278.8 384.7,279.2 384.9,278.6 385.1,282.2 385.4,279.3 385.6,280.6 385.8,278.4 386.1,279.9 386.3,280.3 386.5,280.6 386.8,280.3 387.0,281.7 387.2,284.1 387.5,281.7 387.7,281.9 387.9,281.7 388.1,286.6 388.4,285.3 388.6,283.9 388.8,284.4 389.1,282.4 389.3,283.5 389.5,284.3 389.8,284.4 390.0,283.1 390.2,283.5 390.5,285.7 390.7,285.6 390.9,282.1 391.2,285.8 391.4,287.9 391.6,285.1 391.8,286.7 392.1,284.3 392.3,288.1 392.5,285.3 392.8,285.3 393.0,286.9 393.2,291.4 393.5,286.9 393.7,286.1 393.9,289.0 394.2,288.8 394.4,291.3 394.6,286.9 394.9,286.6 395.1,288.7 395.3,290.0 395.5,290.1 395.8,291.5 396.0,287.6 396.2,288.8 396.5,290.0 396.7,291.7 396.9,291.2 397.2,289.9 397.4,289.1 397.6,292.2 397.9,292.4 398.1,295.3 398.3,290.9 398.6,293.9 398.8,289.5 399.0,290.7 399.2,290.6 399.5,291.1 399.7,290.5 399.9,291.2 400.2,292.0 400.4,291.5 400.6,293.4 400.9,292.3 401.1,292.6 401.3,295.0 401.6,293.3 401.8,293.1 402.0,293.0 402.3,293.2 402.5,294.1 402.7,292.1 402.9,295.2 403.2,296.0 403.4,295.5 403.6,293.0 403.9,291.4 404.1,293.3 404.3,294.3 404.6,295.5 404.8,294.0 405.0,293.9 405.3,296.8 405.5,293.5 405.7,296.3 406.0,296.2 406.2,292.8 406.4,295.4 406.6,294.2 406.9,293.6 407.1,292.3 407.3,292.9 407.6,296.1 407.8,294.9 408.0,296.0 408.3,294.0 408.5,295.3 408.7,295.4 409.0,293.5 409.2,293.4 409.4,296.8 409.7,296.4 409.9,294.8 410.1,296.2 410.3,297.5 410.6,299.4 410.8,295.2 411.0,297.7 411.3,300.1 411.5,297.0 411.7,299.3 412.0,293.0 412.2,299.4 412.4,297.2 412.7,294.3 412.9,298.6 413.1,299.1 413.4,299.4 413.6,299.5 413.8,297.6 414.0,296.6 414.3,297.1 414.5,297.8 414.7,298.6 415.0,297.3 415.2,298.2 415.4,299.5 415.7,298.7 415.9,301.9 416.1,301.8 416.4,296.6 416.6,297.6 416.8,296.5 417.1,296.8 417.3,299.6 417.5,297.2 417.8,297.2 418.0,298.5 418.2,300.2 418.4,298.4 418.7,298.5 418.9,300.6 419.1,299.9 419.4,300.0 419.6,300.8 419.8,297.8 420.1,299.8 420.3,298.5 420.5,301.2 420.8,300.9 421.0,298.0 421.2,301.8 421.5,297.9 421.7,301.7 421.9,300.2 422.1,298.6 422.4,298.2 422.6,299.6 422.8,300.1 423.1,299.1 423.3,301.1 423.5,298.1 423.8,300.3 424.0,300.4 424.2,297.5 424.5,301.0 424.7,298.6 424.9,296.7 425.2,299.7 425.4,300.4 425.6,302.2 425.8,300.1 426.1,303.2 426.3,303.2 426.5,302.7 426.8,303.1 427.0,301.6 427.2,300.3 427.5,302.2 427.7,302.8 427.9,301.7 428.2,300.9 428.4,298.9 428.6,302.5 428.9,302.0 429.1,299.5 429.3,301.7 429.5,302.8 429.8,301.5 430.0,303.0 430.2,303.0 430.5,299.5 430.7,301.4 430.9,302.7 431.2,303.4 431.4,304.2 431.6,299.0 431.9,302.0 432.1,303.3 432.3,304.1 432.6,304.9 432.8,300.8 433.0,301.7 433.2,300.7 433.5,303.7 433.7,300.3 433.9,304.4 434.2,304.0 434.4,303.3 434.6,299.2 434.9,301.6 435.1,303.9 435.3,300.5 435.6,302.4 435.8,302.6 436.0,304.3 436.3,303.3 436.5,303.4 436.7,302.3 436.9,303.0 437.2,302.8 437.4,304.2 437.6,302.8 437.9,304.8 438.1,300.5 438.3,305.1 438.6,303.0 438.8,305.1 439.0,303.5 439.3,304.7 439.5,305.8 439.7,302.6 440.0,303.6 440.2,303.3 440.4,303.9 440.6,301.0 440.9,303.4 441.1,303.3 441.3,302.5 441.6,303.4 441.8,301.3 442.0,306.0 442.3,304.5 442.5,306.8 442.7,302.5 443.0,302.1 443.2,304.4 443.4,301.3 443.7,304.4 443.9,302.9 444.1,303.5 444.3,304.5 444.6,304.2 444.8,307.1 445.0,305.2 445.3,302.2 445.5,305.8 445.7,302.2 446.0,304.4 446.2,302.4 446.4,303.0 446.7,306.5 446.9,303.5 447.1,303.4 447.4,303.6 447.6,304.0 447.8,306.8 448.1,302.7 448.3,302.6 448.5,305.5 448.7,302.1 449.0,304.1 449.2,306.5 449.4,304.7 449.7,304.0 449.9,303.6 450.1,303.3 450.4,303.9 450.6,305.1 450.8,306.8 451.1,306.4 451.3,304.0 451.5,303.8 451.8,306.1 452.0,302.1 452.2,304.3 452.4,304.5 452.7,303.3 452.9,303.5 453.1,305.7 453.4,302.5 453.6,303.7 453.8,304.2 454.1,305.4 454.3,303.1 454.5,307.0 454.8,304.8 455.0,304.9 455.2,304.8 455.5,304.3 455.7,303.9 455.9,307.3 456.1,305.8 456.4,305.3 456.6,307.1 456.8,304.4 457.1,306.6 457.3,305.6 457.5,304.2 457.8,306.9 458.0,303.3 458.2,306.7 458.5,304.3 458.7,306.4 458.9,308.0 459.2,306.7 459.4,304.9 459.6,305.8 459.8,305.3 460.1,304.1 460.3,304.2 460.5,306.0 460.8,306.8 461.0,303.2 461.2,305.9 461.5,306.9 461.7,306.2 461.9,304.5 462.2,307.8 462.4,304.2 462.6,307.2 462.9,308.7 463.1,303.0 463.3,306.7 463.5,306.8 463.8,306.7 464.0,305.1 464.2,305.9 464.5,304.2 464.7,306.6 464.9,307.3 465.2,305.4 465.4,305.0 465.6,305.7 465.9,306.5 466.1,306.6 466.3,306.4 466.6,306.7 466.8,304.5 467.0,302.3 467.2,307.6 467.5,308.9 467.7,304.5 467.9,305.7 468.2,307.2 468.4,308.3 468.6,307.8 468.9,308.8 469.1,306.8 469.3,307.5 469.6,307.5 469.8,306.2 470.0,308.8 470.3,307.9 470.5,308.5 470.7,306.4 470.9,308.6 471.2,305.4 471.4,307.7 471.6,303.0 471.9,305.5 472.1,308.3 472.3,306.5 472.6,307.5 472.8,304.7 473.0,309.7 473.3,308.2 473.5,307.2 473.7,307.9 474.0,307.8 474.2,309.6 474.4,307.7 474.6,305.1 474.9,307.0 475.1,309.4 475.3,308.3 475.6,306.8 475.8,308.4 476.0,307.7 476.3,308.5 476.5,305.1 476.7,306.2 477.0,308.6 477.2,307.3 477.4,308.2 477.7,310.7 477.9,307.2 478.1,308.1 478.3,306.8 478.6,306.8 478.8,307.6 479.0,305.5 479.3,304.5 479.5,309.9 479.7,307.7 480.0,309.6 480.2,308.1 480.4,308.1 480.7,308.9 480.9,309.0 481.1,306.1 481.4,309.8 481.6,306.5 481.8,308.3 482.1,312.0 482.3,308.2 482.5,310.7 482.7,307.5 483.0,309.0 483.2,308.2 483.4,308.8 483.7,306.8 483.9,306.7 484.1,308.7 484.4,305.7 484.6,306.9 484.8,309.2 485.1,307.3 485.3,306.9 485.5,306.5 485.8,308.5 486.0,307.7 486.2,308.5 486.4,308.0 486.7,311.2 486.9,307.7 487.1,305.3 487.4,308.6 487.6,308.4 487.8,308.7 488.1,305.9 488.3,310.2 488.5,308.4 488.8,308.4 489.0,306.0 489.2,309.2 489.5,308.4 489.7,310.6 489.9,307.9 490.1,306.6 490.4,308.8 490.6,307.2 490.8,309.2 491.1,306.9 491.3,308.4 491.5,308.3 491.8,308.6 492.0,307.9 492.2,307.4 492.5,308.6 492.7,307.8 492.9,308.9 493.2,308.3 493.4,305.2 493.6,308.6 493.8,310.9 494.1,309.2 494.3,309.7 494.5,309.5 494.8,308.1 495.0,306.7 495.2,310.1 495.5,310.4 495.7,309.7 495.9,309.5 496.2,309.5 496.4,308.8 496.6,309.3 496.9,308.9 497.1,309.4 497.3,307.4 497.5,307.9 497.8,309.8 498.0,308.4 498.2,305.2 498.5,309.1 498.7,305.4 498.9,311.9 499.2,310.1 499.4,310.0 499.6,307.9 499.9,307.2 500.1,308.6 500.3,309.0 500.6,307.8 500.8,309.2 501.0,310.0 501.2,309.9 501.5,307.4 501.7,305.7 501.9,309.0 502.2,308.0 502.4,309.7 502.6,311.5 502.9,311.5 503.1,309.5 503.3,310.7 503.6,311.6 503.8,309.1 504.0,309.5 504.3,310.4 504.5,309.0 504.7,308.3 504.9,307.9 505.2,309.1 505.4,308.1 505.6,310.3 505.9,308.6" fill="none" stroke="#5656e4" stroke-width="0.6" stroke-opacity="0.9" stroke-linejoin="round"/>
<polyline points="337.4,292.1 337.6,293.9 337.9,292.6 338.1,298.6 338.3,298.8 338.6,303.9 338.8,304.9 339.0,306.1 339.3,309.0 339.5,308.6 339.7,311.0 340.0,311.6 340.2,310.9 340.4,311.9 340.6,309.9 340.9,312.4 341.1,309.8 341.3,312.7 341.6,312.6 341.8,313.1 342.0,311.2 342.3,316.8 342.5,311.9 342.7,312.6 343.0,311.3 343.2,314.7 343.4,311.9 343.7,314.2 343.9,311.3 344.1,313.3 344.4,312.3 344.6,314.3 344.8,312.5 345.1,311.7 345.3,313.8 345.5,311.3 345.7,311.7 346.0,314.4 346.2,310.5 346.4,314.5 346.7,312.8 346.9,312.0 347.1,313.8 347.4,314.5 347.6,312.6 347.8,313.3 348.1,314.8 348.3,314.8 348.5,313.6 348.8,312.5 349.0,312.3 349.2,312.9 349.5,314.8 349.7,314.7 349.9,314.3 350.2,316.0 350.4,313.4 350.6,313.3 350.8,313.4 351.1,316.9 351.3,310.9 351.5,314.5 351.8,314.7 352.0,314.2 352.2,317.6 352.5,315.9 352.7,315.3 352.9,312.8 353.2,315.0 353.4,313.7 353.6,314.4 353.9,314.6 354.1,313.6 354.3,315.4 354.6,316.9 354.8,316.0 355.0,314.9 355.3,311.7 355.5,316.3 355.7,316.3 355.9,314.4 356.2,314.0 356.4,315.8 356.6,313.7 356.9,316.1 357.1,313.4 357.3,313.7 357.6,315.2 357.8,313.0 358.0,315.3 358.3,316.1 358.5,313.4 358.7,316.8 359.0,314.7 359.2,316.4 359.4,316.0 359.7,315.0 359.9,315.0 360.1,313.3 360.4,314.9 360.6,314.8 360.8,318.5 361.0,317.7 361.3,314.1 361.5,317.5 361.7,316.7 362.0,315.8 362.2,317.2 362.4,317.7 362.7,315.8 362.9,316.3 363.1,317.0 363.4,315.4 363.6,317.2 363.8,316.9 364.1,316.0 364.3,315.9 364.5,317.7 364.8,318.6 365.0,317.8 365.2,316.1 365.5,318.6 365.7,317.8 365.9,318.5 366.1,319.5 366.4,316.5 366.6,317.7 366.8,317.1 367.1,316.7 367.3,321.1 367.5,319.6 367.8,315.6 368.0,319.0 368.2,317.6 368.5,320.2 368.7,318.7 368.9,318.4 369.2,319.0 369.4,319.4 369.6,319.0 369.9,318.7 370.1,318.9 370.3,319.9 370.6,317.6 370.8,319.3 371.0,319.2 371.2,318.8 371.5,320.7 371.7,317.7 371.9,319.2 372.2,318.6 372.4,320.7 372.6,319.3 372.9,320.2 373.1,320.8 373.3,317.9 373.6,321.0 373.8,319.3 374.0,320.1 374.3,320.4 374.5,321.9 374.7,321.9 375.0,323.5 375.2,321.2 375.4,320.3 375.7,320.4 375.9,322.2 376.1,323.7 376.3,321.9 376.6,320.6 376.6,321.4 376.8,317.6 377.0,313.7 377.3,309.1 377.5,303.4 377.7,303.6 378.0,303.8 378.2,300.8 378.4,296.0 378.7,298.7 378.9,295.5 379.1,300.8 379.4,297.8 379.6,295.5 379.8,298.2 380.0,295.8 380.3,297.7 380.5,296.9 380.7,295.2 381.0,297.9 381.2,295.0 381.4,299.0 381.7,297.2 381.9,295.6 382.1,294.5 382.4,299.7 382.6,299.6 382.8,295.6 383.1,300.1 383.3,298.0 383.5,297.5 383.8,297.9 384.0,297.7 384.2,300.4 384.4,298.7 384.7,295.9 384.9,301.9 385.1,300.3 385.4,297.5 385.6,298.8 385.8,298.1 386.1,299.8 386.3,300.5 386.5,300.4 386.8,299.4 387.0,299.3 387.2,302.0 387.5,300.8 387.7,304.5 387.9,300.2 388.1,302.8 388.4,301.9 388.6,300.9 388.8,304.3 389.1,302.7 389.3,301.4 389.5,302.5 389.8,304.7 390.0,301.6 390.2,305.7 390.5,304.9 390.7,303.7 390.9,306.4 391.2,307.2 391.4,305.7 391.6,305.3 391.8,308.0 392.1,307.8 392.3,304.4 392.5,305.7 392.8,305.9 393.0,305.8 393.2,304.4 393.5,308.2 393.7,307.2 393.9,307.4 394.2,309.5 394.4,306.8 394.6,307.7 394.9,308.4 395.1,307.5 395.3,308.2 395.5,309.7 395.8,308.7 396.0,310.9 396.2,307.9 396.5,309.5 396.7,307.1 396.9,309.2 397.2,308.5 397.4,311.7 397.6,310.9 397.9,310.7 398.1,312.8 398.3,312.3 398.6,311.3 398.8,309.3 399.0,308.3 399.2,310.6 399.5,310.2 399.7,309.8 399.9,310.5 400.2,308.5 400.4,313.4 400.6,309.5 400.9,310.3 401.1,312.3 401.3,309.1 401.6,313.1 401.8,313.2 402.0,311.4 402.3,310.4 402.5,311.4 402.7,309.4 402.9,314.4 403.2,312.5 403.4,311.4 403.6,311.2 403.9,313.5 404.1,315.0 404.3,310.9 404.6,312.1 404.8,310.4 405.0,314.2 405.3,313.5 405.5,316.7 405.7,313.2 406.0,312.8 406.2,312.5 406.4,315.0 406.6,311.3 406.9,315.0 407.1,314.3 407.3,313.3 407.6,312.8 407.8,315.8 408.0,317.1 408.3,313.7 408.5,315.3 408.7,317.2 409.0,313.7 409.2,314.3 409.4,313.0 409.7,314.7 409.9,314.9 410.1,314.4 410.3,314.0 410.6,312.8 410.8,313.3 411.0,313.9 411.3,316.5 411.5,314.8 411.7,314.4 412.0,316.7 412.2,316.7 412.4,314.8 412.7,315.0 412.9,317.1 413.1,316.7 413.4,315.0 413.6,316.7 413.8,316.3 414.0,318.2 414.3,315.2 414.5,318.0 414.7,317.4 415.0,315.3 415.2,318.5 415.4,318.4 415.7,315.0 415.9,320.2 416.1,315.5 416.4,315.9 416.6,316.9 416.8,318.7 417.1,318.5 417.3,317.5 417.5,319.8 417.8,318.4 418.0,320.0 418.2,322.3 418.4,318.4 418.7,314.2 418.9,317.6 419.1,316.7 419.4,318.6 419.6,318.7 419.8,316.7 420.1,316.9 420.3,318.4 420.5,318.6 420.8,315.0 421.0,320.6 421.2,319.2 421.5,319.2 421.7,319.8 421.9,317.9 422.1,319.4 422.4,321.2 422.6,321.4 422.8,320.5 423.1,319.5 423.3,318.7 423.5,322.1 423.8,321.0 424.0,319.6 424.2,317.0 424.5,319.1 424.7,317.6 424.9,322.6 425.2,321.0 425.4,319.7 425.6,320.5 425.8,325.1 426.1,323.0 426.3,319.1 426.5,321.1 426.8,319.5 427.0,318.8 427.2,321.9 427.5,325.5 427.7,324.2 427.9,322.0 428.2,321.4 428.4,322.4 428.6,323.8 428.9,320.0 429.1,319.4 429.3,325.4 429.5,323.0 429.8,325.2 430.0,323.1 430.2,325.2 430.5,322.0 430.7,323.8 430.9,325.6 431.2,324.8 431.4,322.6 431.6,324.8 431.9,322.4 432.1,321.3 432.3,324.5 432.6,326.0 432.8,325.2 433.0,321.9 433.2,325.4 433.5,325.2 433.7,323.5 433.9,320.3 434.2,326.0 434.4,325.8 434.6,325.3 434.9,321.9 435.1,322.3 435.3,326.4 435.6,326.1 435.8,325.7 436.0,324.6 436.3,325.7 436.5,324.3 436.7,324.8 436.9,324.0 437.2,325.8 437.4,324.8 437.6,327.1 437.9,326.8 438.1,324.4 438.3,328.7 438.6,324.1 438.8,326.6 439.0,327.7 439.3,328.1 439.5,322.6 439.7,327.8 440.0,328.2 440.2,328.6 440.4,322.8 440.6,325.4 440.9,326.4 441.1,325.9 441.3,328.8 441.6,325.6 441.8,328.7 442.0,327.7 442.3,324.5 442.5,325.3 442.7,326.2 443.0,327.2 443.2,328.7 443.4,326.8 443.7,328.6 443.9,324.7 444.1,322.4 444.3,326.8 444.6,328.1 444.8,326.8 445.0,325.8 445.3,328.1 445.5,330.6 445.7,327.4 446.0,326.4 446.2,326.3 446.4,330.8 446.7,327.6 446.9,328.7 447.1,329.7 447.4,329.5 447.6,326.3 447.8,329.4 448.1,329.2 448.3,328.7 448.5,329.6 448.7,327.1 449.0,327.9 449.2,327.2 449.4,329.3 449.7,327.1 449.9,328.8 450.1,326.5 450.4,328.0 450.6,327.7 450.8,328.1 451.1,328.6 451.3,328.1 451.5,328.1 451.8,325.1 452.0,330.2 452.2,327.5 452.4,328.2 452.7,327.3 452.9,330.2 453.1,327.2 453.4,329.5 453.6,330.6 453.8,331.4 454.1,330.7 454.3,329.8 454.5,326.9 454.8,330.9 455.0,330.8 455.2,330.3 455.5,330.3 455.7,329.1 455.9,328.2 456.1,330.8 456.4,331.1 456.6,327.5 456.8,330.6 457.1,329.6 457.3,330.7 457.5,329.7 457.8,331.1 458.0,331.0 458.2,330.8 458.5,327.2 458.7,330.8 458.9,329.6 459.2,327.7 459.4,330.7 459.6,327.4 459.8,331.0 460.1,332.3 460.3,328.9 460.5,331.2 460.8,330.4 461.0,330.8 461.2,327.6 461.5,330.8 461.7,330.1 461.9,331.1 462.2,329.9 462.4,331.7 462.6,330.4 462.9,331.1 463.1,332.2 463.3,330.4 463.5,331.7 463.8,330.5 464.0,331.0 464.2,329.4 464.5,331.4 464.7,332.2 464.9,330.1 465.2,331.6 465.4,331.0 465.6,328.6 465.9,331.0 466.1,332.5 466.3,329.7 466.6,327.7 466.8,330.8 467.0,329.5 467.2,333.6 467.5,330.5 467.7,330.6 467.9,329.7 468.2,331.1 468.4,329.8 468.6,329.3 468.9,330.7 469.1,329.5 469.3,332.9 469.6,329.0 469.8,330.7 470.0,329.8 470.3,328.7 470.5,333.6 470.7,327.7 470.9,333.3 471.2,328.8 471.4,331.2 471.6,334.6 471.9,327.7 472.1,329.0 472.3,333.2 472.6,331.4 472.8,330.3 473.0,331.2 473.3,329.7 473.5,331.5 473.7,333.6 474.0,330.7 474.2,331.5 474.4,333.2 474.6,334.5 474.9,330.5 475.1,331.9 475.3,330.6 475.6,330.5 475.8,330.9 476.0,330.5 476.3,328.8 476.5,328.4 476.7,330.4 477.0,331.8 477.2,333.5 477.4,330.8 477.7,331.4 477.9,332.7 478.1,332.9 478.3,331.6 478.6,331.7 478.8,334.7 479.0,331.3 479.3,331.0 479.5,329.3 479.7,332.5 480.0,331.5 480.2,334.9 480.4,331.4 480.7,333.2 480.9,333.4 481.1,334.6 481.4,329.9 481.6,334.5 481.8,332.1 482.1,331.9 482.3,331.6 482.5,331.5 482.7,331.6 483.0,328.5 483.2,332.9 483.4,332.3 483.7,330.7 483.9,332.1 484.1,335.8 484.4,332.8 484.6,331.6 484.8,334.9 485.1,331.0 485.3,332.1 485.5,331.4 485.8,332.0 486.0,333.5 486.2,333.3 486.4,331.2 486.7,332.2 486.9,332.5 487.1,331.8 487.4,332.4 487.6,331.3 487.8,331.3 488.1,332.5 488.3,330.9 488.5,333.2 488.8,332.2 489.0,331.1 489.2,331.6 489.5,331.8 489.7,332.3 489.9,332.8 490.1,332.3 490.4,331.3 490.6,334.9 490.8,334.0 491.1,332.8 491.3,334.1 491.5,333.2 491.8,332.3 492.0,332.8 492.2,336.9 492.5,334.3 492.7,334.3 492.9,332.1 493.2,333.7 493.4,336.3 493.6,333.4 493.8,334.4 494.1,334.7 494.3,333.8 494.5,335.3 494.8,333.2 495.0,333.6 495.2,331.9 495.5,336.9 495.7,333.3 495.9,333.0 496.2,335.0 496.4,332.1 496.6,332.9 496.9,331.7 497.1,332.9 497.3,332.3 497.5,333.8 497.8,332.7 498.0,332.0 498.2,332.5 498.5,332.8 498.7,332.2 498.9,334.4 499.2,334.0 499.4,333.2 499.6,331.1 499.9,333.8 500.1,331.0 500.3,333.3 500.6,333.1 500.8,332.1 501.0,331.7 501.2,331.9 501.5,336.2 501.7,332.6 501.9,332.7 502.2,334.5 502.4,333.7 502.6,334.7 502.9,331.1 503.1,331.3 503.3,338.2 503.6,333.0 503.8,332.6 504.0,333.3 504.3,334.6 504.5,331.2 504.7,333.5 504.9,333.0 505.2,334.1 505.4,333.3 505.6,332.2 505.9,331.7" fill="none" stroke="#5656e4" stroke-width="0.6" stroke-opacity="0.9" stroke-linejoin="round"/>
<polyline points="337.4,286.3 337.6,291.3 337.9,287.4 338.1,288.8 338.3,291.8 338.6,288.4 338.8,289.8 339.0,288.3 339.3,289.5 339.5,288.3 339.7,287.3 340.0,289.9 340.2,287.3 340.4,285.4 340.6,286.8 340.9,288.0 341.1,285.3 341.3,288.0 341.6,287.8 341.8,289.8 342.0,285.4 342.3,287.2 342.5,283.5 342.7,285.3 343.0,286.0 343.2,286.4 343.4,285.6 343.7,285.4 343.9,284.5 344.1,284.6 344.4,285.7 344.6,286.0 344.8,286.0 345.1,286.4 345.3,286.6 345.5,282.0 345.7,283.8 346.0,284.3 346.2,283.5 346.4,286.0 346.7,285.4 346.9,284.0 347.1,284.3 347.4,285.9 347.6,283.4 347.8,283.4 348.1,285.2 348.3,284.4 348.5,285.8 348.8,284.1 349.0,284.6 349.2,282.5 349.5,281.9 349.7,283.2 349.9,279.1 350.2,283.7 350.4,284.5 350.6,283.0 350.8,282.5 351.1,284.5 351.3,282.7 351.5,284.2 351.8,285.9 352.0,283.6 352.2,283.9 352.5,283.1 352.7,282.7 352.9,282.7 353.2,282.3 353.4,283.8 353.6,279.6 353.9,281.6 354.1,282.9 354.3,280.5 354.6,281.6 354.8,280.6 355.0,282.3 355.3,282.9 355.5,283.7 355.7,282.2 355.9,280.3 356.2,281.7 356.4,282.1 356.6,283.3 356.9,277.8 357.1,281.6 357.3,278.1 357.6,282.0 357.8,281.5 358.0,281.5 358.3,282.0 358.5,281.2 358.7,279.5 359.0,281.0 359.2,282.2 359.4,280.1 359.7,280.3 359.9,278.3 360.1,281.9 360.4,279.3 360.6,278.8 360.8,279.2 361.0,278.5 361.3,279.4 361.5,281.6 361.7,280.8 362.0,281.7 362.2,281.8 362.4,278.0 362.7,280.1 362.9,281.6 363.1,282.7 363.4,277.0 363.6,276.9 363.8,279.7 364.1,278.4 364.3,277.4 364.5,279.4 364.8,277.5 365.0,275.2 365.2,278.6 365.5,278.7 365.7,279.5 365.9,279.9 366.1,278.6 366.4,277.9 366.6,277.2 366.8,275.7 367.1,277.4 367.3,279.6 367.5,279.0 367.8,281.1 368.0,277.6 368.2,275.1 368.5,279.0 368.7,279.3 368.9,275.8 369.2,275.1 369.4,277.7 369.6,278.5 369.9,275.7 370.1,276.8 370.3,276.1 370.6,275.4 370.8,275.1 371.0,277.3 371.2,276.4 371.5,275.9 371.7,272.9 371.9,279.5 372.2,275.3 372.4,276.5 372.6,274.9 372.9,277.2 373.1,274.2 373.3,276.6 373.6,276.1 373.8,277.8 374.0,274.6 374.3,275.3 374.5,275.8 374.7,279.4 375.0,273.8 375.2,276.5 375.4,275.0 375.7,276.4 375.9,276.9 376.1,276.0 376.3,276.2 376.6,276.1 376.6,275.1 376.8,271.8 377.0,265.8 377.3,264.2 377.5,260.3 377.7,258.3 378.0,257.4 378.2,255.0 378.4,254.0 378.7,254.5 378.9,248.8 379.1,252.7 379.4,251.8 379.6,251.4 379.8,249.3 380.0,252.0 380.3,252.8 380.5,252.6 380.7,250.9 381.0,252.0 381.2,252.4 381.4,253.8 381.7,253.0 381.9,251.3 382.1,251.3 382.4,251.5 382.6,251.6 382.8,250.6 383.1,252.6 383.3,250.4 383.5,250.3 383.8,252.2 384.0,250.8 384.2,251.4 384.4,248.7 384.7,253.2 384.9,252.1 385.1,252.1 385.4,253.1 385.6,252.8 385.8,251.5 386.1,255.8 386.3,252.2 386.5,254.5 386.8,255.9 387.0,252.3 387.2,253.6 387.5,252.3 387.7,255.3 387.9,253.3 388.1,252.3 388.4,256.2 388.6,255.7 388.8,253.1 389.1,256.4 389.3,255.1 389.5,259.1 389.8,257.7 390.0,254.4 390.2,255.0 390.5,254.2 390.7,255.9 390.9,256.0 391.2,257.2 391.4,256.3 391.6,254.1 391.8,255.3 392.1,258.8 392.3,258.6 392.5,256.7 392.8,256.9 393.0,257.0 393.2,257.4 393.5,254.9 393.7,259.0 393.9,256.8 394.2,258.1 394.4,254.2 394.6,258.5 394.9,260.3 395.1,255.0 395.3,260.8 395.5,259.4 395.8,257.7 396.0,256.5 396.2,260.8 396.5,259.6 396.7,260.2 396.9,259.0 397.2,258.3 397.4,261.0 397.6,258.4 397.9,261.3 398.1,257.5 398.3,258.8 398.6,258.1 398.8,262.5 399.0,257.9 399.2,259.0 399.5,261.9 399.7,261.4 399.9,264.5 400.2,264.1 400.4,262.4 400.6,262.6 400.9,258.9 401.1,260.5 401.3,261.5 401.6,261.8 401.8,260.1 402.0,261.0 402.3,261.2 402.5,264.3 402.7,263.4 402.9,262.4 403.2,262.6 403.4,263.6 403.6,262.3 403.9,263.1 404.1,261.0 404.3,264.8 404.6,265.3 404.8,264.6 405.0,264.9 405.3,264.8 405.5,267.5 405.7,264.9 406.0,262.7 406.2,263.2 406.4,266.0 406.6,266.7 406.9,266.4 407.1,266.6 407.3,265.8 407.6,263.3 407.8,264.7 408.0,263.1 408.3,265.4 408.5,264.1 408.7,266.4 409.0,266.2 409.2,263.6 409.4,267.8 409.7,268.0 409.9,264.8 410.1,267.3 410.3,268.3 410.6,266.9 410.8,268.8 411.0,267.9 411.3,269.3 411.5,268.1 411.7,267.7 412.0,268.9 412.2,269.4 412.4,268.7 412.7,267.7 412.9,267.3 413.1,268.1 413.4,267.9 413.6,269.2 413.8,269.3 414.0,269.0 414.3,269.3 414.5,269.7 414.7,271.9 415.0,271.5 415.2,268.9 415.4,270.5 415.7,269.5 415.9,270.0 416.1,269.9 416.4,269.4 416.6,268.4 416.8,266.8 417.1,271.0 417.3,272.6 417.5,269.5 417.8,271.8 418.0,270.6 418.2,271.7 418.4,270.2 418.7,271.2 418.9,271.5 419.1,268.1 419.4,272.2 419.6,271.8 419.8,268.3 420.1,273.2 420.3,272.3 420.5,272.8 420.8,273.1 421.0,272.0 421.2,271.1 421.5,272.2 421.7,272.4 421.9,276.6 422.1,276.1 422.4,272.6 422.6,272.8 422.8,274.1 423.1,274.6 423.3,272.7 423.5,272.4 423.8,277.0 424.0,275.8 424.2,271.8 424.5,271.6 424.7,273.2 424.9,274.9 425.2,275.5 425.4,274.3 425.6,272.4 425.8,275.4 426.1,276.1 426.3,275.2 426.5,274.6 426.8,276.3 427.0,275.5 427.2,273.9 427.5,275.9 427.7,273.9 427.9,277.5 428.2,276.8 428.4,274.7 428.6,276.6 428.9,278.4 429.1,273.2 429.3,276.4 429.5,279.3 429.8,274.4 430.0,276.7 430.2,274.8 430.5,277.0 430.7,273.5 430.9,274.8 431.2,276.6 431.4,277.8 431.6,278.2 431.9,278.4 432.1,279.7 432.3,279.1 432.6,279.2 432.8,276.7 433.0,278.0 433.2,283.4 433.5,282.0 433.7,279.9 433.9,279.9 434.2,280.4 434.4,278.3 434.6,282.1 434.9,278.6 435.1,279.1 435.3,282.8 435.6,276.2 435.8,280.2 436.0,277.0 436.3,278.8 436.5,279.8 436.7,279.5 436.9,280.4 437.2,279.0 437.4,280.2 437.6,278.6 437.9,279.9 438.1,278.5 438.3,281.8 438.6,278.8 438.8,282.1 439.0,280.4 439.3,280.7 439.5,283.1 439.7,281.5 440.0,278.5 440.2,282.3 440.4,277.1 440.6,282.2 440.9,281.2 441.1,279.7 441.3,282.1 441.6,281.6 441.8,285.4 442.0,281.6 442.3,285.4 442.5,284.6 442.7,281.6 443.0,281.3 443.2,284.8 443.4,282.5 443.7,283.1 443.9,282.5 444.1,281.1 444.3,282.5 444.6,281.6 444.8,280.7 445.0,282.8 445.3,286.1 445.5,285.9 445.7,283.3 446.0,283.7 446.2,284.3 446.4,285.7 446.7,284.1 446.9,282.9 447.1,283.1 447.4,285.6 447.6,288.0 447.8,282.9 448.1,280.7 448.3,285.3 448.5,283.9 448.7,284.3 449.0,286.1 449.2,284.3 449.4,282.1 449.7,281.2 449.9,284.3 450.1,282.5 450.4,284.9 450.6,282.4 450.8,284.0 451.1,282.2 451.3,284.1 451.5,284.0 451.8,285.7 452.0,286.9 452.2,284.5 452.4,283.5 452.7,288.0 452.9,285.6 453.1,286.0 453.4,286.0 453.6,287.4 453.8,286.8 454.1,286.3 454.3,286.5 454.5,283.9 454.8,284.4 455.0,285.2 455.2,285.6 455.5,285.5 455.7,286.0 455.9,285.6 456.1,285.0 456.4,283.1 456.6,287.1 456.8,286.7 457.1,284.4 457.3,286.7 457.5,286.6 457.8,286.1 458.0,283.1 458.2,284.1 458.5,285.2 458.7,288.7 458.9,284.8 459.2,285.7 459.4,284.5 459.6,285.6 459.8,286.9 460.1,283.1 460.3,281.9 460.5,287.6 460.8,286.6 461.0,285.6 461.2,288.2 461.5,288.3 461.7,283.4 461.9,286.5 462.2,288.6 462.4,285.8 462.6,286.4 462.9,288.5 463.1,286.6 463.3,285.1 463.5,286.0 463.8,285.0 464.0,288.1 464.2,284.5 464.5,288.9 464.7,284.7 464.9,287.4 465.2,285.0 465.4,286.9 465.6,289.1 465.9,289.3 466.1,289.6 466.3,287.5 466.6,287.8 466.8,288.0 467.0,288.7 467.2,287.1 467.5,289.6 467.7,288.4 467.9,289.7 468.2,288.7 468.4,289.0 468.6,286.8 468.9,287.4 469.1,286.0 469.3,287.6 469.6,287.9 469.8,289.5 470.0,286.2 470.3,293.4 470.5,288.1 470.7,290.4 470.9,290.0 471.2,284.4 471.4,288.0 471.6,290.8 471.9,284.6 472.1,289.8 472.3,287.1 472.6,287.9 472.8,289.0 473.0,285.7 473.3,289.1 473.5,287.7 473.7,287.6 474.0,290.0 474.2,294.5 474.4,289.5 474.6,289.8 474.9,288.9 475.1,287.9 475.3,289.5 475.6,291.5 475.8,289.4 476.0,290.6 476.3,288.8 476.5,293.2 476.7,286.6 477.0,290.2 477.2,290.2 477.4,289.8 477.7,287.6 477.9,287.6 478.1,289.1 478.3,289.6 478.6,287.6 478.8,287.8 479.0,290.5 479.3,291.2 479.5,288.7 479.7,288.5 480.0,288.5 480.2,293.7 480.4,290.5 480.7,289.7 480.9,291.4 481.1,293.5 481.4,291.7 481.6,287.6 481.8,289.8 482.1,289.3 482.3,289.4 482.5,288.0 482.7,289.4 483.0,288.3 483.2,290.6 483.4,290.2 483.7,287.9 483.9,287.4 484.1,289.4 484.4,291.2 484.6,291.0 484.8,290.1 485.1,285.0 485.3,289.5 485.5,289.1 485.8,289.8 486.0,288.4 486.2,289.7 486.4,289.3 486.7,294.8 486.9,291.6 487.1,290.2 487.4,290.4 487.6,290.3 487.8,290.8 488.1,289.9 488.3,290.6 488.5,292.3 488.8,292.0 489.0,291.1 489.2,292.8 489.5,291.1 489.7,289.1 489.9,287.9 490.1,289.6 490.4,290.7 490.6,291.4 490.8,292.5 491.1,289.9 491.3,289.6 491.5,292.1 491.8,292.8 492.0,290.1 492.2,291.5 492.5,293.1 492.7,291.5 492.9,290.9 493.2,287.6 493.4,293.1 493.6,292.0 493.8,291.2 494.1,290.3 494.3,289.1 494.5,290.9 494.8,290.9 495.0,292.9 495.2,289.2 495.5,293.4 495.7,291.2 495.9,293.1 496.2,289.6 496.4,291.7 496.6,293.2 496.9,291.4 497.1,288.9 497.3,290.7 497.5,292.1 497.8,289.0 498.0,288.9 498.2,291.6 498.5,289.8 498.7,292.4 498.9,289.4 499.2,288.4 499.4,290.1 499.6,293.7 499.9,289.9 500.1,291.3 500.3,291.7 500.6,289.8 500.8,293.1 501.0,291.7 501.2,292.1 501.5,288.7 501.7,288.6 501.9,287.0 502.2,291.1 502.4,291.0 502.6,292.6 502.9,293.8 503.1,291.0 503.3,291.0 503.6,292.1 503.8,293.9 504.0,290.1 504.3,292.4 504.5,291.0 504.7,290.9 504.9,292.7 505.2,290.2 505.4,289.7 505.6,292.5 505.9,291.4" fill="none" stroke="#5656e4" stroke-width="0.6" stroke-opacity="0.9" stroke-linejoin="round"/>
<polyline points="337.4,289.6 338.1,288.1 338.7,286.6 339.4,285.2 340.1,283.9 340.7,282.6 341.4,281.4 342.0,280.3 342.7,279.1 343.4,278.1 344.0,277.0 344.7,276.1 345.4,275.1 346.0,274.2 346.7,273.4 347.4,272.5 348.0,271.7 348.7,271.0 349.4,270.2 350.0,269.6 350.7,268.9 351.3,268.2 352.0,267.6 352.7,267.1 353.3,266.5 354.0,266.0 354.7,265.4 355.3,264.9 356.0,264.5 356.7,264.0 357.3,263.6 358.0,263.2 358.7,262.8 359.3,262.4 360.0,262.0 360.6,261.7 361.3,261.4 362.0,261.0 362.6,260.7 363.3,260.4 364.0,260.2 364.6,259.9 365.3,259.6 366.0,259.4 366.6,259.1 367.3,258.9 367.9,258.7 368.6,258.5 369.3,258.3 369.9,258.1 370.6,257.9 371.3,257.8 371.9,257.6 372.6,257.4 373.3,257.3 373.9,257.1 374.6,257.0 375.3,256.9 375.9,256.7 376.6,256.6 505.8,256.6" fill="none" stroke="#f25560" stroke-width="1.25" stroke-opacity="1.0" stroke-linejoin="round"/>
<polyline points="337.4,289.6 338.1,288.5 338.7,287.4 339.4,286.4 340.1,285.4 340.7,284.4 341.4,283.5 342.0,282.6 342.7,281.8 343.4,280.9 344.0,280.1 344.7,279.4 345.4,278.6 346.0,277.9 346.7,277.3 347.4,276.6 348.0,276.0 348.7,275.4 349.4,274.8 350.0,274.2 350.7,273.7 351.3,273.2 352.0,272.7 352.7,272.2 353.3,271.7 354.0,271.3 354.7,270.8 355.3,270.4 356.0,270.0 356.7,269.6 357.3,269.3 358.0,268.9 358.7,268.6 359.3,268.2 360.0,267.9 360.6,267.6 361.3,267.3 362.0,267.0 362.6,266.8 363.3,266.5 364.0,266.2 364.6,266.0 365.3,265.8 366.0,265.5 366.6,265.3 367.3,265.1 367.9,264.9 368.6,264.7 369.3,264.5 369.9,264.4 370.6,264.2 371.3,264.0 371.9,263.9 372.6,263.7 373.3,263.6 373.9,263.4 374.6,263.3 375.3,263.1 375.9,263.0 376.6,262.9 505.8,262.9" fill="none" stroke="#f25560" stroke-width="1.25" stroke-opacity="1.0" stroke-linejoin="round"/>
<polyline points="337.4,289.6 505.8,289.6" fill="none" stroke="#f25560" stroke-width="1.25" stroke-opacity="1.0" stroke-linejoin="round"/>
</g>
<line x1="376.58" y1="228.40" x2="376.58" y2="343.20" stroke="#e8262a" stroke-width="1" stroke-dasharray="1.3,1.0"/>
<text stroke="#1a1a1a" stroke-width="0.2" x="512.90" y="285.70" font-size="8.8" text-anchor="start" font-weight="normal" textLength="29.9" lengthAdjust="spacingAndGlyphs">690 nM</text>
<line x1="520.7" y1="304.4" x2="520.7" y2="315.2" stroke="#000" stroke-width="2.9"/>
<polygon points="517.90,304.80 520.70,300.40 523.50,304.80" fill="#000"/>
<text stroke="#1a1a1a" stroke-width="0.2" x="512.90" y="332.70" font-size="8.8" text-anchor="start" font-weight="normal" textLength="25.5" lengthAdjust="spacingAndGlyphs">43 nM</text>
</g>
<defs>
<clipPath id="clipA"><rect x="43.0" y="22.7" width="167.5" height="114.99999999999999"/></clipPath>
<clipPath id="clipB"><rect x="44.4" y="227.6" width="166.0" height="115.70000000000002"/></clipPath>
<clipPath id="clipC"><rect x="336.7" y="21.6" width="167.8" height="116.70000000000002"/></clipPath>
<clipPath id="clipD"><rect x="337.4" y="228.4" width="168.40000000000003" height="114.79999999999998"/></clipPath>
</defs>
</svg></body></html>
